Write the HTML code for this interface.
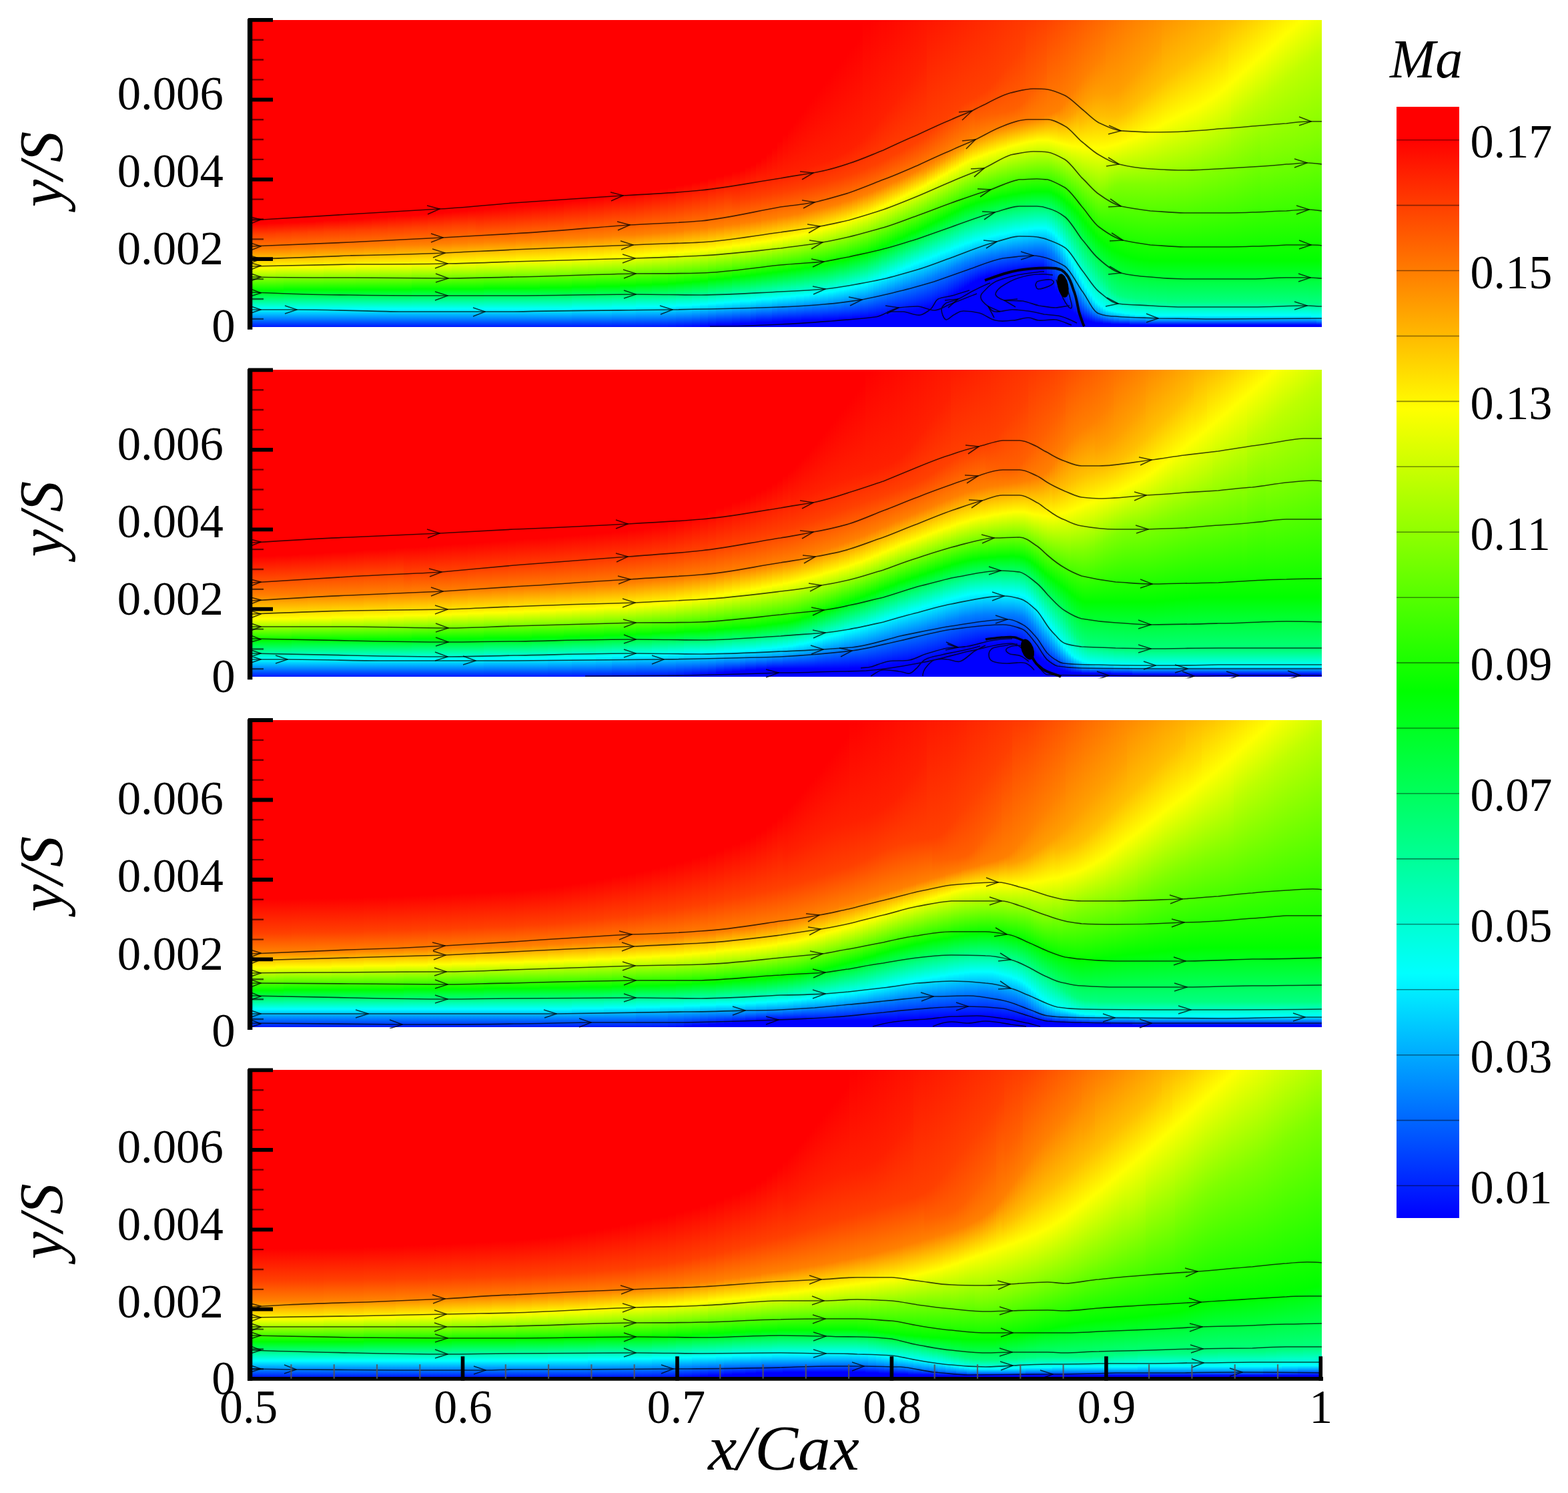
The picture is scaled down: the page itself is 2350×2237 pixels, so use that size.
<!DOCTYPE html>
<html><head><meta charset="utf-8"><title>Ma contours</title>
<style>
html,body{margin:0;padding:0;background:#fff}
body{width:2350px;height:2237px;position:relative;overflow:hidden;font-family:"Liberation Serif",serif}
.p{position:absolute;left:377px;width:1604px;height:460px;display:flex;overflow:hidden}
.p i{display:block;flex:0 0 4px;height:460px}
.p i.w{flex-basis:12px}
.p i.m{flex-basis:8px}
#cb{position:absolute;left:2093px;top:160px;width:94px;height:1665px;background:linear-gradient(#f00 0,#f00 2.9%,#ff0 27.2%,#0f0 52.6%,#0ff 78%,#00f 100%)}
svg{position:absolute;left:0;top:0}
text{font-family:"Liberation Serif",serif;fill:#000}
.t{font-size:72px}
.it{font-style:italic;font-size:96px}
</style></head><body>
<div class="p" style="top:29.8px">
<i class="w" style="background:linear-gradient(#f00,#f00 305px,#ff4000 321px,#ff8000 344px,#ff0 371px,#0f0 405px,#0ff 433px,#0018ff)"></i>
<i class="w" style="background:linear-gradient(#f00,#f00 305px,#ff4000 321px,#ff8000 343px,#ff0 371px,#0f0 405px,#0ff 433px,#0018ff)"></i>
<i class="w" style="background:linear-gradient(#f00,#f00 304px,#ff4000 321px,#ff8000 343px,#ff0 371px,#0f0 405px,#0ff 433px,#0018ff)"></i>
<i class="w" style="background:linear-gradient(#f00,#f00 304px,#ff4000 320px,#ff8000 343px,#ff0 370px,#0f0 405px,#0ff 433px,#0018ff)"></i>
<i class="w" style="background:linear-gradient(#f00,#f00 303px,#ff4000 320px,#ff8000 343px,#ff0 370px,#0f0 404px,#0ff 433px,#0018ff)"></i>
<i class="w" style="background:linear-gradient(#f00,#f00 303px,#ff4000 319px,#ff8000 342px,#ff0 370px,#0f0 404px,#0ff 433px,#0018ff)"></i>
<i class="w" style="background:linear-gradient(#f00,#f00 302px,#ff4000 319px,#ff8000 342px,#ff0 370px,#0f0 404px,#0ff 433px,#0018ff)"></i>
<i class="w" style="background:linear-gradient(#f00,#f00 302px,#ff4000 318px,#ff8000 342px,#ff0 370px,#0f0 404px,#0ff 433px,#0018ff)"></i>
<i class="w" style="background:linear-gradient(#f00,#f00 301px,#ff4000 318px,#ff8000 341px,#ff0 370px,#0f0 404px,#0ff 433px,#0018ff)"></i>
<i class="w" style="background:linear-gradient(#f00,#f00 300px,#ff4000 317px,#ff8000 341px,#ff0 369px,#0f0 404px,#0ff 433px,#0018ff)"></i>
<i class="w" style="background:linear-gradient(#f00,#f00 300px,#ff4000 317px,#ff8000 341px,#ff0 369px,#0f0 404px,#0ff 433px,#0018ff)"></i>
<i class="w" style="background:linear-gradient(#f00,#f00 299px,#ff4000 316px,#ff8000 340px,#ff0 369px,#0f0 404px,#0ff 433px,#0018ff)"></i>
<i class="w" style="background:linear-gradient(#f00,#f00 298px,#ff4000 316px,#ff8000 340px,#ff0 369px,#0f0 404px,#0ff 433px,#0018ff)"></i>
<i class="w" style="background:linear-gradient(#f00,#f00 298px,#ff4000 315px,#ff8000 340px,#ff0 368px,#0f0 404px,#0ff 433px,#0018ff)"></i>
<i class="w" style="background:linear-gradient(#f00,#f00 297px,#ff4000 315px,#ff8000 339px,#ff0 368px,#0f0 404px,#0ff 433px,#0018ff)"></i>
<i class="w" style="background:linear-gradient(#f00,#f00 296px,#ff4000 314px,#ff8000 339px,#ff0 368px,#0f0 404px,#0ff 433px,#0018ff)"></i>
<i class="w" style="background:linear-gradient(#f00,#f00 295px,#ff4000 314px,#ff8000 338px,#ff0 367px,#0f0 404px,#0ff 433px,#0018ff)"></i>
<i class="w" style="background:linear-gradient(#f00,#f00 294px,#ff4000 313px,#ff8000 338px,#ff0 367px,#0f0 404px,#0ff 433px,#0018ff)"></i>
<i class="w" style="background:linear-gradient(#f00,#f00 293px,#ff4000 313px,#ff8000 337px,#ff0 367px,#0f0 404px,#0ff 433px,#0018ff)"></i>
<i class="w" style="background:linear-gradient(#f00,#f00 293px,#ff4000 312px,#ff8000 337px,#ff0 367px,#0f0 404px,#0ff 433px,#0018ff)"></i>
<i class="w" style="background:linear-gradient(#f00,#f00 292px,#ff4000 311px,#ff8000 337px,#ff0 366px,#0f0 403px,#0ff 433px,#0018ff)"></i>
<i class="w" style="background:linear-gradient(#f00,#f00 291px,#ff4000 311px,#ff8000 336px,#ff0 366px,#0f0 403px,#0ff 433px,#0018ff)"></i>
<i class="w" style="background:linear-gradient(#f00,#f00 290px,#ff4000 310px,#ff8000 336px,#ff0 366px,#0f0 403px,#0ff 433px,#0018ff)"></i>
<i class="w" style="background:linear-gradient(#f00,#f00 289px,#ff4000 310px,#ff8000 335px,#ff0 365px,#0f0 403px,#0ff 433px,#0018ff)"></i>
<i class="w" style="background:linear-gradient(#f00,#f00 288px,#ff4000 309px,#ff8000 335px,#ff0 365px,#0f0 403px,#0ff 433px,#0018ff)"></i>
<i class="w" style="background:linear-gradient(#f00,#f00 287px,#ff4000 308px,#ff8000 334px,#ff0 364px,#0f0 403px,#0ff 433px,#0018ff)"></i>
<i class="w" style="background:linear-gradient(#f00,#f00 286px,#ff4000 308px,#ff8000 334px,#ff0 364px,#0f0 403px,#0ff 433px,#0018ff)"></i>
<i class="w" style="background:linear-gradient(#f00,#f00 285px,#ff4000 307px,#ff8000 333px,#ff0 364px,#0f0 403px,#0ff 433px,#0018ff)"></i>
<i class="w" style="background:linear-gradient(#f00,#f00 284px,#ff8000 333px,#ff0 363px,#0f0 403px,#0ff 433px,#0018ff)"></i>
<i class="w" style="background:linear-gradient(#f00,#f00 283px,#ff8000 332px,#ff0 363px,#0f0 402px,#0ff 433px,#0018ff)"></i>
<i class="w" style="background:linear-gradient(#f00,#f00 282px,#ff8000 332px,#ff0 363px,#0f0 402px,#0ff 433px,#0018ff)"></i>
<i class="w" style="background:linear-gradient(#f00,#f00 281px,#ff8000 331px,#ff0 362px,#0f0 402px,#0ff 433px,#0018ff)"></i>
<i class="w" style="background:linear-gradient(#f00,#f00 280px,#ff8000 331px,#ff0 362px,#0f0 402px,#0ff 433px,#0018ff)"></i>
<i class="w" style="background:linear-gradient(#f00,#f00 279px,#ff8000 330px,#ff0 361px,#0f0 402px,#0ff 433px,#0018ff)"></i>
<i class="w" style="background:linear-gradient(#f00,#f00 278px,#ff8000 330px,#ff0 361px,#0f0 402px,#0ff 433px,#0018ff)"></i>
<i class="w" style="background:linear-gradient(#f00,#f00 277px,#ff8000 329px,#ff0 361px,#0f0 402px,#0ff 433px,#0018ff)"></i>
<i class="w" style="background:linear-gradient(#f00,#f00 276px,#ff8000 329px,#ff0 360px,#0f0 401px,#0ff 433px,#0018ff)"></i>
<i class="w" style="background:linear-gradient(#f00,#f00 275px,#ff8000 328px,#ff0 360px,#0f0 401px,#0ff 433px,#0018ff)"></i>
<i class="w" style="background:linear-gradient(#f00,#f00 274px,#ff8000 328px,#ff0 359px,#0f0 401px,#0ff 433px,#0018ff)"></i>
<i class="w" style="background:linear-gradient(#f00,#f00 272px,#ff8000 327px,#ff0 359px,#0f0 401px,#0ff 433px,#0018ff)"></i>
<i class="w" style="background:linear-gradient(#f00,#f00 271px,#ff8000 327px,#ff0 358px,#0f0 400px,#0ff 432px,#0018ff)"></i>
<i class="w" style="background:linear-gradient(#f00,#f00 270px,#ff8000 326px,#ff0 358px,#0f0 400px,#0ff 432px,#0017ff)"></i>
<i class="w" style="background:linear-gradient(#f00,#f00 268px,#ff8000 325px,#ff0 357px,#0f0 400px,#0ff 432px,#0017ff)"></i>
<i class="w" style="background:linear-gradient(#f00,#f00 267px,#ff8000 325px,#ff0 357px,#0f0 399px,#0ff 432px,#0017ff)"></i>
<i class="w" style="background:linear-gradient(#f00,#f00 265px,#ff8000 324px,#ff0 356px,#0f0 399px,#0ff 432px,#0017ff)"></i>
<i class="w" style="background:linear-gradient(#f00,#f00 264px,#ff8000 323px,#ff0 355px,#0f0 399px,#0ff 431px,#0016ff)"></i>
<i class="w" style="background:linear-gradient(#f00,#f00 262px,#ff8000 322px,#ff0 355px,#0f0 398px,#0ff 431px,#0016ff)"></i>
<i class="w" style="background:linear-gradient(#f00,#f00 261px,#ff8000 322px,#ff0 354px,#0f0 398px,#0ff 431px,#0016ff)"></i>
<i class="w" style="background:linear-gradient(#f00,#f00 259px,#ff8000 321px,#ff0 353px,#0f0 397px,#0ff 430px,#0016ff)"></i>
<i class="w" style="background:linear-gradient(#f00,#f00 257px,#ff8000 320px,#ff0 352px,#0f0 397px,#0ff 430px,#0015ff)"></i>
<i class="w" style="background:linear-gradient(#f00,#f00 255px,#ff8000 319px,#ff0 351px,#0f0 396px,#0ff 430px,#0014ff)"></i>
<i class="w" style="background:linear-gradient(#f00,#f00 253px,#ff8000 318px,#ff0 350px,#0f0 396px,#0ff 429px,#0012ff)"></i>
<i class="w" style="background:linear-gradient(#f00,#f00 251px,#ff8000 317px,#ff0 349px,#0f0 395px,#0ff 429px,#000fff)"></i>
<i class="w" style="background:linear-gradient(#f00,#f00 248px,#ff8000 316px,#ff0 348px,#0f0 394px,#0ff 428px,#000bff)"></i>
<i class="w" style="background:linear-gradient(#f00,#f00 246px,#ff8000 314px,#ff0 347px,#0f0 393px,#0ff 428px,#0007ff)"></i>
<i class="w" style="background:linear-gradient(#f00,#f00 243px,#ff8000 313px,#ff0 346px,#0f0 392px,#0ff 427px,#0003ff)"></i>
<i class="w" style="background:linear-gradient(#f00,#f00 240px,#ff8000 312px,#ff0 344px,#0f0 391px,#0ff 426px,#00f 459px,#00f)"></i>
<i class="w" style="background:linear-gradient(#f00,#f00 237px,#ff8000 310px,#ff0 343px,#0f0 389px,#0ff 425px,#00f 458px,#00f)"></i>
<i class="w" style="background:linear-gradient(#f00,#f00 234px,#ff8000 309px,#ff0 341px,#0f0 388px,#0ff 424px,#00f 457px,#00f)"></i>
<i class="w" style="background:linear-gradient(#f00,#f00 231px,#ff8000 307px,#ff0 340px,#0f0 387px,#0ff 423px,#00f 457px,#00f)"></i>
<i class="w" style="background:linear-gradient(#f00,#f00 227px,#ff4000 271px,#ff8000 306px,#ff0 338px,#0f0 385px,#0ff 422px,#00f 456px,#00f)"></i>
<i class="m" style="background:linear-gradient(#f00,#f00 224px,#ff4000 269px,#ff8000 304px,#ff0 337px,#0f0 384px,#0ff 421px,#00f 455px,#00f)"></i>
<i class="m" style="background:linear-gradient(#f00,#f00 220px,#ff4000 268px,#ff8000 303px,#ff0 336px,#0f0 383px,#0ff 421px,#00f 455px,#00f)"></i>
<i class="m" style="background:linear-gradient(#f00,#f00 217px,#ff4000 266px,#ff8000 302px,#ff0 334px,#0f0 382px,#0ff 420px,#00f 454px,#00f)"></i>
<i class="m" style="background:linear-gradient(#f00,#f00 212px,#ff4000 265px,#ff8000 301px,#ff0 333px,#0f0 381px,#0ff 419px,#00f 453px,#00f)"></i>
<i class="m" style="background:linear-gradient(#f00,#f00 206px,#ff2000 239px,#ff4000 263px,#ff8000 299px,#ff0 332px,#0f0 380px,#0ff 418px,#00f 453px,#00f)"></i>
<i class="m" style="background:linear-gradient(#f00,#f00 199px,#ff2000 237px,#ff4000 262px,#ff8000 298px,#ff0 331px,#0f0 379px,#0ff 418px,#00f 453px,#00f)"></i>
<i class="m" style="background:linear-gradient(#f00,#f00 191px,#ff2000 235px,#ff4000 260px,#ff8000 297px,#ff0 329px,#0f0 378px,#0ff 417px,#0080ff 434px,#00f 452px,#00f)"></i>
<i class="m" style="background:linear-gradient(#f00,#f00 181px,#ff2000 233px,#ff4000 259px,#ff8000 295px,#ff0 328px,#0f0 377px,#0ff 416px,#0080ff 433px,#00f 452px,#00f)"></i>
<i class="m" style="background:linear-gradient(#f00,#f00 171px,#ff2000 231px,#ff4000 257px,#ff8000 294px,#ff0 326px,#0f0 376px,#0ff 415px,#0080ff 433px,#00f 451px,#00f)"></i>
<i style="background:linear-gradient(#f00,#f00 164px,#ff2000 229px,#ff4000 256px,#ff8000 293px,#ff0 325px,#0f0 375px,#0ff 415px,#0080ff 432px,#00f 451px,#00f)"></i>
<i style="background:linear-gradient(#f00,#f00 159px,#ff2000 228px,#ff4000 255px,#ff8000 292px,#ff0 324px,#0f0 374px,#0ff 414px,#0080ff 432px,#00f 451px,#00f)"></i>
<i style="background:linear-gradient(#f00,#f00 153px,#ff2000 227px,#ff4000 254px,#ff8000 291px,#ff0 323px,#0f0 374px,#0ff 414px,#0080ff 432px,#00f 451px,#00f)"></i>
<i style="background:linear-gradient(#f00,#f00 148px,#ff2000 226px,#ff4000 253px,#ff8000 291px,#ff0 323px,#0f0 373px,#0ff 413px,#0080ff 431px,#00f 451px,#00f)"></i>
<i style="background:linear-gradient(#f00,#f00 143px,#ff2000 225px,#ff4000 252px,#ff8000 290px,#ff0 322px,#0f0 373px,#0ff 413px,#0080ff 431px,#00f 451px,#00f)"></i>
<i style="background:linear-gradient(#f00,#f00 138px,#ff2000 224px,#ff4000 252px,#ff8000 289px,#ff0 321px,#0f0 372px,#0ff 413px,#0080ff 431px,#00f 450px,#00f)"></i>
<i style="background:linear-gradient(#f00,#f00 133px,#ff2000 223px,#ff4000 251px,#ff8000 288px,#ff0 320px,#0f0 371px,#0ff 412px,#0080ff 430px,#00f 450px,#00f)"></i>
<i style="background:linear-gradient(#f00,#f00 127px,#ff2000 221px,#ff4000 250px,#ff8000 287px,#ff0 319px,#0f0 371px,#0ff 412px,#0080ff 430px,#00f 450px,#00f)"></i>
<i style="background:linear-gradient(#f00,#f00 122px,#ff2000 220px,#ff4000 249px,#ff8000 286px,#ff0 318px,#0f0 370px,#0ff 411px,#0080ff 430px,#00f 450px,#00f)"></i>
<i style="background:linear-gradient(#f00,#f00 117px,#ff2000 219px,#ff4000 248px,#ff8000 285px,#ff0 317px,#0f0 369px,#0ff 411px,#0080ff 429px,#00f 450px,#00f)"></i>
<i style="background:linear-gradient(#f00,#f00 112px,#ff2000 217px,#ff4000 247px,#ff8000 284px,#ff0 316px,#0f0 369px,#0ff 410px,#0080ff 429px,#00f 450px,#00f)"></i>
<i style="background:linear-gradient(#f00,#f00 107px,#ff2000 216px,#ff4000 246px,#ff8000 283px,#ff0 315px,#0f0 368px,#0ff 410px,#0080ff 429px,#00f 450px,#00f)"></i>
<i style="background:linear-gradient(#f00,#f00 101px,#ff2000 214px,#ff4000 245px,#ff8000 282px,#ff0 314px,#0f0 367px,#0ff 409px,#0080ff 428px,#00f 450px,#00f)"></i>
<i style="background:linear-gradient(#f00,#f00 96px,#ff2000 213px,#ff4000 244px,#ff8000 281px,#ff0 312px,#0f0 367px,#0ff 408px,#0080ff 428px,#00f 449px,#00f)"></i>
<i style="background:linear-gradient(#f00,#f00 91px,#ff2000 211px,#ff4000 243px,#ff8000 280px,#ff0 311px,#0f0 366px,#0ff 408px,#0080ff 428px,#00f 449px,#00f)"></i>
<i style="background:linear-gradient(#f00,#f00 86px,#ff2000 210px,#ff4000 241px,#ff8000 279px,#ff0 310px,#0f0 365px,#0ff 407px,#0080ff 427px,#00f 449px,#00f)"></i>
<i style="background:linear-gradient(#f00,#f00 81px,#ff2000 208px,#ff4000 240px,#ff8000 278px,#ff0 309px,#0f0 364px,#0ff 407px,#0080ff 427px,#00f 449px,#00f)"></i>
<i style="background:linear-gradient(#f00,#f00 75px,#ff2000 206px,#ff4000 239px,#ff8000 277px,#ff0 308px,#0f0 363px,#0ff 406px,#0080ff 426px,#00f 449px,#00f)"></i>
<i style="background:linear-gradient(#f00,#f00 70px,#ff2000 204px,#ff4000 238px,#ff8000 276px,#ff0 306px,#0f0 362px,#0ff 405px,#0080ff 426px,#00f 449px,#00f)"></i>
<i style="background:linear-gradient(#f00,#f00 65px,#ff2000 202px,#ff4000 237px,#ff8000 275px,#ff0 305px,#0f0 361px,#0ff 404px,#0080ff 426px,#00f 448px,#00f)"></i>
<i style="background:linear-gradient(#f00,#f00 60px,#ff2000 200px,#ff4000 236px,#ff8000 273px,#ff0 304px,#0f0 361px,#0ff 404px,#0080ff 425px,#00f 448px,#00f)"></i>
<i style="background:linear-gradient(#f00,#f00 55px,#ff2000 198px,#ff4000 234px,#ff8000 272px,#ff0 303px,#0f0 360px,#0ff 403px,#0080ff 424px,#00f 448px,#00f)"></i>
<i style="background:linear-gradient(#f00,#f00 49px,#ff2000 196px,#ff4000 233px,#ff8000 271px,#ff0 301px,#0f0 359px,#0ff 402px,#0080ff 424px,#00f 448px,#00f)"></i>
<i style="background:linear-gradient(#f00,#f00 44px,#ff2000 193px,#ff4000 232px,#ff8000 270px,#ff0 300px,#0f0 357px,#0ff 401px,#0080ff 423px,#00f 448px,#00f)"></i>
<i style="background:linear-gradient(#f00,#f00 39px,#ff2000 190px,#ff4000 230px,#ff8000 268px,#ff0 298px,#0f0 356px,#0ff 400px,#0080ff 423px,#00f 447px,#00f)"></i>
<i style="background:linear-gradient(#f00,#f00 34px,#ff2000 187px,#ff4000 229px,#ff8000 267px,#ff0 297px,#0f0 355px,#0ff 399px,#0080ff 422px,#00f 447px,#00f)"></i>
<i style="background:linear-gradient(#f00,#f00 29px,#ff2000 184px,#ff4000 227px,#ff8000 265px,#ff0 295px,#0f0 354px,#0ff 398px,#0080ff 421px,#00f 447px,#00f)"></i>
<i style="background:linear-gradient(#f00,#f00 23px,#ff2000 181px,#ff4000 225px,#ff8000 264px,#ff0 294px,#0f0 352px,#0ff 397px,#0080ff 420px,#00f 446px,#00f)"></i>
<i style="background:linear-gradient(#f00,#ff2000 177px,#ff4000 224px,#ff8000 262px,#ff0 292px,#0f0 351px,#0ff 396px,#0080ff 420px,#00f 446px,#00f)"></i>
<i style="background:linear-gradient(#f00,#ff2000 173px,#ff4000 222px,#ff8000 261px,#ff0 291px,#0f0 350px,#0ff 395px,#0080ff 419px,#00f 446px,#00f)"></i>
<i style="background:linear-gradient(#f00,#ff2000 169px,#ff4000 220px,#ff8000 259px,#ff0 289px,#0f0 348px,#0ff 393px,#0080ff 418px,#00f 445px,#00f)"></i>
<i style="background:linear-gradient(#ff0200,#ff2000 164px,#ff4000 218px,#ff8000 258px,#ff0 287px,#0f0 346px,#0ff 392px,#0080ff 417px,#00f 445px,#00f)"></i>
<i style="background:linear-gradient(#ff0300,#ff2000 160px,#ff4000 217px,#ff8000 256px,#ff0 285px,#0f0 345px,#0ff 390px,#0080ff 415px,#00f 445px,#00f)"></i>
<i style="background:linear-gradient(#ff0400,#ff2000 155px,#ff4000 215px,#ff8000 254px,#ff0 283px,#0f0 343px,#0ff 389px,#0080ff 414px,#00f 444px,#00f)"></i>
<i style="background:linear-gradient(#ff0500,#ff2000 150px,#ff4000 213px,#ff8000 253px,#ff0 281px,#0f0 341px,#0ff 387px,#0080ff 413px,#00f 444px,#00f)"></i>
<i style="background:linear-gradient(#ff0600,#ff2000 145px,#ff4000 211px,#ff8000 251px,#ff0 280px,#0f0 339px,#0ff 385px,#0080ff 412px,#00f 443px,#00f)"></i>
<i style="background:linear-gradient(#ff0600,#ff2000 140px,#ff4000 209px,#ff8000 249px,#ff0 278px,#0f0 338px,#0ff 384px,#0080ff 411px,#00f 443px,#00f)"></i>
<i style="background:linear-gradient(#ff0700,#ff2000 135px,#ff4000 207px,#ff8000 247px,#ff0 276px,#0f0 336px,#0ff 382px,#0080ff 409px,#00f 442px,#00f)"></i>
<i style="background:linear-gradient(#ff0800,#ff2000 130px,#ff4000 204px,#ff8000 245px,#ff0 274px,#0f0 334px,#0ff 380px,#0080ff 408px,#00f 442px,#00f)"></i>
<i style="background:linear-gradient(#ff0900,#ff2000 125px,#ff4000 202px,#ff8000 243px,#ff0 272px,#0f0 332px,#0ff 379px,#0080ff 407px,#00f 441px,#00f)"></i>
<i style="background:linear-gradient(#ff0a00,#ff2000 120px,#ff4000 200px,#ff8000 242px,#ff0 270px,#0f0 330px,#0ff 377px,#0080ff 405px,#00f 441px,#00f)"></i>
<i style="background:linear-gradient(#ff0b00,#ff2000 114px,#ff4000 198px,#ff8000 240px,#ff0 268px,#0f0 328px,#0ff 375px,#0080ff 404px,#00f 440px,#00f)"></i>
<i style="background:linear-gradient(#ff0c00,#ff2000 109px,#ff4000 196px,#ff8000 238px,#ff0 266px,#0f0 327px,#0ff 374px,#0080ff 403px,#00f 439px,#00f)"></i>
<i style="background:linear-gradient(#ff0d00,#ff2000 104px,#ff4000 194px,#ff8000 236px,#ff0 264px,#0f0 325px,#0ff 372px,#0080ff 401px,#00f 439px,#00f)"></i>
<i style="background:linear-gradient(#ff0e00,#ff2000 99px,#ff4000 191px,#ff8000 234px,#ff0 262px,#0f0 323px,#0ff 370px,#0080ff 400px,#00f 438px,#00f)"></i>
<i style="background:linear-gradient(#ff0f00,#ff2000 94px,#ff4000 189px,#ff8000 232px,#ff0 260px,#0f0 321px,#0ff 369px,#0080ff 399px,#00f 437px,#00f)"></i>
<i style="background:linear-gradient(#ff1000,#ff2000 89px,#ff4000 187px,#ff8000 230px,#ff0 258px,#0f0 319px,#0ff 367px,#0080ff 397px,#00f 437px,#00f)"></i>
<i style="background:linear-gradient(#f10,#ff2000 83px,#ff4000 184px,#ff8000 228px,#ff0 256px,#0f0 318px,#0ff 365px,#0080ff 396px,#00f 436px,#00f)"></i>
<i style="background:linear-gradient(#ff1200,#ff2000 78px,#ff4000 182px,#ff8000 226px,#ff0 254px,#0f0 316px,#0ff 364px,#0080ff 394px,#00f 435px,#00f)"></i>
<i style="background:linear-gradient(#ff1300,#ff2000 73px,#ff4000 179px,#ff8000 224px,#ff0 252px,#0f0 314px,#0ff 362px,#0080ff 393px,#00f 434px,#00f)"></i>
<i style="background:linear-gradient(#ff1400,#ff2000 68px,#ff4000 177px,#ff8000 221px,#ff9f00 230px,#ff0 250px,#0f0 312px,#0ff 361px,#0080ff 392px,#00f 433px,#00f)"></i>
<i style="background:linear-gradient(#ff1500,#ff2000 63px,#ff4000 174px,#ff8000 219px,#ff9f00 228px,#ff0 248px,#0f0 310px,#0ff 359px,#0080ff 390px,#00f 432px,#00f)"></i>
<i style="background:linear-gradient(#ff1600,#ff4000 171px,#ff8000 217px,#ff9f00 225px,#ff0 245px,#0f0 308px,#0ff 358px,#0080ff 388px,#00f 431px,#00f)"></i>
<i style="background:linear-gradient(#ff1600,#ff4000 167px,#ff8000 214px,#ff9f00 223px,#ff0 243px,#0f0 306px,#0ff 356px,#0080ff 387px,#00f 430px,#00f)"></i>
<i style="background:linear-gradient(#ff1700,#ff4000 164px,#ff8000 212px,#ff9f00 221px,#ff0 241px,#0f0 304px,#0ff 354px,#0080ff 385px,#00f 428px,#00f)"></i>
<i style="background:linear-gradient(#ff1800,#ff4000 161px,#ff8000 209px,#ff9f00 218px,#ff0 239px,#0f0 302px,#0ff 353px,#0080ff 383px,#00f 426px,#00f)"></i>
<i style="background:linear-gradient(#ff1900,#ff4000 157px,#ff8000 207px,#ff9f00 216px,#ff0 236px,#0f0 300px,#0ff 351px,#0080ff 381px,#00f 424px,#00f)"></i>
<i style="background:linear-gradient(#ff1a00,#ff4000 154px,#ff8000 204px,#ff9f00 213px,#ff0 234px,#0f0 298px,#0ff 349px,#0080ff 379px,#00f 422px,#00f)"></i>
<i style="background:linear-gradient(#ff1b00,#ff4000 150px,#ff8000 202px,#ff9f00 211px,#ff0 232px,#0f0 296px,#0ff 348px,#0080ff 378px,#00f 420px,#00f)"></i>
<i style="background:linear-gradient(#ff1c00,#ff4000 147px,#ff8000 199px,#ff9f00 208px,#ff0 230px,#0f0 294px,#0ff 346px,#0080ff 376px,#00f 418px,#00f)"></i>
<i style="background:linear-gradient(#ff1d00,#ff4000 143px,#ff8000 196px,#ff9f00 206px,#ff0 227px,#0f0 292px,#0ff 345px,#0080ff 374px,#00f 415px,#00f)"></i>
<i style="background:linear-gradient(#ff1e00,#ff4000 140px,#ff8000 194px,#ff9f00 203px,#ff0 225px,#0f0 290px,#0ff 343px,#0080ff 372px,#00f 413px,#00f)"></i>
<i style="background:linear-gradient(#ff1f00,#ff4000 136px,#ff8000 191px,#ff9f00 201px,#ff0 223px,#0f0 288px,#0ff 341px,#0080ff 370px,#00f 410px,#00f)"></i>
<i style="background:linear-gradient(#ff2000,#ff4000 133px,#ff8000 189px,#ff9f00 198px,#ff0 221px,#0f0 286px,#0ff 340px,#0080ff 368px,#00f 408px,#00f)"></i>
<i style="background:linear-gradient(#ff2100,#ff4000 130px,#ff8000 186px,#ff9f00 196px,#ff0 218px,#0f0 284px,#0ff 338px,#0080ff 367px,#00f 405px,#00f)"></i>
<i style="background:linear-gradient(#f20,#ff4000 127px,#ff8000 184px,#ff9f00 194px,#ff0 216px,#0f0 282px,#0ff 337px,#0080ff 365px,#00f 403px,#00f)"></i>
<i style="background:linear-gradient(#ff2300,#ff4000 124px,#ff8000 182px,#ff0 214px,#0f0 280px,#0ff 335px,#0080ff 363px,#00f 400px,#00f)"></i>
<i style="background:linear-gradient(#ff2400,#ff4000 122px,#ff8000 180px,#ff0 212px,#0f0 279px,#0ff 334px,#0080ff 362px,#00f 398px,#00f)"></i>
<i style="background:linear-gradient(#ff2500,#ff4000 119px,#ff8000 177px,#ff0 210px,#0f0 277px,#0ff 333px,#0080ff 360px,#00f 395px,#00f)"></i>
<i style="background:linear-gradient(#ff2600,#ff4000 117px,#ff8000 175px,#ff0 208px,#0f0 276px,#0ff 331px,#0080ff 359px,#00f 393px,#00f)"></i>
<i style="background:linear-gradient(#ff2700,#ff4000 115px,#ff6000 148px,#ff8000 174px,#ff0 207px,#0f0 274px,#0ff 330px,#0080ff 357px,#00f 391px,#00f)"></i>
<i style="background:linear-gradient(#ff2800,#ff4000 112px,#ff6000 147px,#ff8000 172px,#ff0 205px,#0f0 273px,#0ff 329px,#0080ff 356px,#00f 389px,#00f)"></i>
<i style="background:linear-gradient(#ff2900,#ff4000 110px,#ff6000 145px,#ff8000 170px,#ff0 204px,#0f0 272px,#0ff 328px,#0080ff 355px,#00f 387px,#00f)"></i>
<i style="background:linear-gradient(#ff2a00,#ff4000 108px,#ff6000 144px,#ff8000 169px,#ff0 202px,#0f0 271px,#0ff 327px,#0080ff 354px,#00f 386px,#00f)"></i>
<i style="background:linear-gradient(#ff2b00,#ff4000 105px,#ff6000 143px,#ff8000 167px,#ff0 201px,#0f0 270px,#0ff 326px,#0080ff 353px,#00f 384px,#00f)"></i>
<i style="background:linear-gradient(#ff2c00,#ff4000 101px,#ff6000 142px,#ff8000 166px,#ff0 199px,#0f0 269px,#0ff 325px,#0080ff 352px,#00f 383px,#00f)"></i>
<i style="background:linear-gradient(#ff2d00,#ff4000 97px,#ff6000 141px,#ff8000 165px,#ff0 198px,#0f0 268px,#0ff 324px,#0080ff 351px,#00f 383px,#00f)"></i>
<i style="background:linear-gradient(#ff2e00,#ff4000 93px,#ff6000 141px,#ff8000 163px,#ff0 197px,#0f0 267px,#0ff 323px,#0080ff 351px,#00f 382px,#00f)"></i>
<i style="background:linear-gradient(#ff2f00,#ff4000 88px,#ff6000 140px,#ff8000 162px,#ff0 195px,#0f0 266px,#0ff 322px,#0080ff 350px,#00f 381px,#00f)"></i>
<i style="background:linear-gradient(#ff3000,#ff4000 83px,#ff6000 139px,#ff8000 161px,#ff0 194px,#0f0 265px,#0ff 321px,#0080ff 349px,#00f 380px,#00f)"></i>
<i style="background:linear-gradient(#ff3100,#ff4000 78px,#ff6000 138px,#ff8000 160px,#ff0 193px,#0f0 264px,#0ff 321px,#0080ff 348px,#00f 380px,#00f)"></i>
<i style="background:linear-gradient(#ff3200,#ff4000 72px,#ff6000 138px,#ff8000 159px,#ff0 192px,#0f0 264px,#0ff 320px,#0080ff 348px,#00f 379px,#00f)"></i>
<i style="background:linear-gradient(#f30,#ff4000 67px,#ff6000 137px,#ff8000 158px,#ff0 190px,#0f0 263px,#0ff 319px,#0080ff 347px,#00f 378px,#00f)"></i>
<i style="background:linear-gradient(#ff3400,#ff4000 62px,#ff6000 135px,#ff8000 157px,#ff0 189px,#0f0 262px,#0ff 318px,#0080ff 346px,#00f 378px,#00f)"></i>
<i style="background:linear-gradient(#ff3500,#ff4000 57px,#ff6000 134px,#ff8000 156px,#ff0 188px,#0f0 261px,#0ff 317px,#0080ff 345px,#00f 377px,#00f)"></i>
<i style="background:linear-gradient(#ff3600,#ff4000 52px,#ff6000 132px,#ff8000 155px,#ff0 187px,#0f0 261px,#0ff 316px,#0080ff 345px,#00f 377px,#00f)"></i>
<i style="background:linear-gradient(#ff3700,#ff4000 47px,#ff6000 130px,#ff8000 154px,#ff0 186px,#0f0 260px,#0ff 316px,#0080ff 344px,#00f 376px,#00f)"></i>
<i style="background:linear-gradient(#ff3700,#ff4000 41px,#ff6000 127px,#ff8000 153px,#ff0 185px,#0f0 259px,#0ff 315px,#0080ff 344px,#00f 376px,#00f)"></i>
<i style="background:linear-gradient(#ff3800,#ff4000 36px,#ff6000 123px,#ff8000 152px,#ff0 184px,#0f0 259px,#0ff 314px,#0080ff 343px,#00f 375px,#00f)"></i>
<i style="background:linear-gradient(#ff3900,#ff6000 118px,#ff8000 151px,#ff0 183px,#0f0 258px,#0ff 314px,#0080ff 343px,#00f 375px,#00f)"></i>
<i style="background:linear-gradient(#ff3a00,#ff6000 113px,#ff8000 150px,#ff0 182px,#0f0 258px,#0ff 313px,#0080ff 342px,#00f 375px,#00f)"></i>
<i style="background:linear-gradient(#ff3b00,#ff6000 108px,#ff8000 149px,#ff0 182px,#0f0 257px,#0ff 313px,#0080ff 342px,#00f 374px,#00f)"></i>
<i style="background:linear-gradient(#ff3c00,#ff6000 103px,#ff8000 148px,#ff0 181px,#0f0 257px,#0ff 312px,#0080ff 341px,#00f 374px,#00f)"></i>
<i style="background:linear-gradient(#ff3e00,#ff6000 97px,#ff8000 147px,#ff0 180px,#0f0 257px,#0ff 312px,#0080ff 341px,#00f 374px,#00f)"></i>
<i style="background:linear-gradient(#ff3f00,#ff6000 92px,#ff8000 146px,#ff0 180px,#0f0 257px,#0ff 312px,#0080ff 341px,#00f 374px,#00f)"></i>
<i style="background:linear-gradient(#ff4000,#ff6000 87px,#ff8000 145px,#ff0 180px,#0f0 257px,#0ff 312px,#0080ff 341px,#00f 374px,#00f)"></i>
<i style="background:linear-gradient(#ff4100,#ff6000 82px,#ff8000 143px,#ff0 180px,#0f0 257px,#0ff 312px,#0080ff 342px,#00f 379px,#00f)"></i>
<i style="background:linear-gradient(#ff4300,#ff8000 142px,#ff0 180px,#0f0 257px,#0ff 314px,#0080ff 344px,#00f 386px,#00f)"></i>
<i style="background:linear-gradient(#ff4500,#ff8000 141px,#ff0 181px,#0f0 258px,#0ff 316px,#0080ff 346px,#00f 393px,#00f)"></i>
<i style="background:linear-gradient(#ff4700,#ff8000 139px,#ff0 182px,#0f0 260px,#0ff 319px,#0080ff 350px,#00f 400px,#00f)"></i>
<i style="background:linear-gradient(#ff4900,#ff8000 137px,#ff0 183px,#0f0 262px,#0ff 323px,#0080ff 355px,#00f 406px,#00f)"></i>
<i style="background:linear-gradient(#ff4b00,#ff8000 135px,#ff9f00 150px,#ff0 184px,#0f0 264px,#0ff 328px,#0080ff 360px,#00f 412px,#00f)"></i>
<i style="background:linear-gradient(#ff4d00,#ff8000 131px,#ff9f00 149px,#ff0 185px,#0f0 267px,#0ff 333px,#0080ff 367px,#00f 418px,#00f)"></i>
<i style="background:linear-gradient(#ff4f00,#ff8000 126px,#ff9f00 148px,#ff0 186px,#0f0 270px,#0ff 340px,#0080ff 374px,#00f 424px,#00f)"></i>
<i style="background:linear-gradient(#ff5100,#ff8000 121px,#ff9f00 146px,#ff0 187px,#0f0 274px,#0ff 347px,#0080ff 381px,#00f 429px,#00f)"></i>
<i style="background:linear-gradient(#ff5300,#ff8000 116px,#ff9f00 144px,#ff0 188px,#0f0 277px,#0ff 354px,#0080ff 389px,#00f 433px,#00f)"></i>
<i style="background:linear-gradient(#f50,#ff8000 110px,#ff9f00 141px,#ff0 189px,#0f0 281px,#0ff 362px,#0080ff 396px,#00f 437px,#00f)"></i>
<i style="background:linear-gradient(#ff5600,#ff8000 105px,#ff9f00 138px,#ff0 189px,#0f0 285px,#0ff 370px,#0080ff 404px,#00f 440px,#00f)"></i>
<i style="background:linear-gradient(#ff5800,#ff8000 99px,#ff9f00 134px,#ff0 190px,#0f0 289px,#0ff 378px,#00f 443px,#00f)"></i>
<i style="background:linear-gradient(#ff5a00,#ff8000 94px,#ff9f00 131px,#ffbf00 155px,#ff0 190px,#0f0 294px,#0ff 386px,#00f 446px,#00f)"></i>
<i style="background:linear-gradient(#ff5c00,#ff8000 88px,#ff9f00 127px,#ffbf00 153px,#ff0 191px,#0f0 299px,#0ff 393px,#0080ff 422px,#00f 448px,#00f)"></i>
<i style="background:linear-gradient(#ff5e00,#ff8000 83px,#ff9f00 123px,#ffbf00 151px,#ff0 191px,#0f0 304px,#0ff 400px,#0080ff 427px,#00f 450px,#00f)"></i>
<i style="background:linear-gradient(#ff6000,#ff8000 78px,#ff9f00 120px,#ffbf00 149px,#ff0 191px,#0f0 309px,#0ff 407px,#0080ff 431px,#00f 451px,#00f)"></i>
<i style="background:linear-gradient(#ff6200,#ff8000 73px,#ff9f00 117px,#ffbf00 148px,#ff0 192px,#0f0 314px,#0ff 412px,#0080ff 435px,#00f 452px,#00f)"></i>
<i style="background:linear-gradient(#ff6400,#ff8000 69px,#ff9f00 114px,#ffbf00 146px,#ff0 192px,#0f0 319px,#0ff 418px,#0080ff 438px,#00f 453px,#00f)"></i>
<i style="background:linear-gradient(#f60,#ff8000 64px,#ff9f00 112px,#ffbf00 145px,#ff0 192px,#0f0 324px,#00ff80 375px,#0ff 423px,#0080ff 440px,#00f 454px,#00f)"></i>
<i style="background:linear-gradient(#ff6800,#ff8000 60px,#ff9f00 111px,#ffbf00 145px,#ff0 192px,#0f0 328px,#00ff80 381px,#0ff 426px,#0080ff 442px,#00f 454px,#00f)"></i>
<i style="background:linear-gradient(#ff6a00,#ff8000 56px,#ff9f00 111px,#ffbf00 144px,#ff0 191px,#80ff00 258px,#0f0 332px,#00ff80 386px,#0ff 429px,#0080ff 444px,#00f 454px,#00f)"></i>
<i style="background:linear-gradient(#ff6c00,#ff8000 51px,#ff9f00 111px,#ffbf00 144px,#ff0 191px,#80ff00 257px,#0f0 335px,#00ff80 391px,#0ff 432px,#0080ff 445px,#00f 455px,#00f)"></i>
<i style="background:linear-gradient(#ff6e00,#ff9f00 111px,#ffbf00 145px,#ff0 190px,#80ff00 255px,#0f0 338px,#00ff80 396px,#0ff 434px,#0080ff 446px,#00f 455px,#00f)"></i>
<i style="background:linear-gradient(#ff7000,#ff9f00 111px,#ffbf00 145px,#ff0 189px,#80ff00 252px,#0f0 341px,#00ff80 401px,#0ff 435px,#0080ff 447px,#00f 455px,#00f)"></i>
<i style="background:linear-gradient(#ff7200,#ff9f00 110px,#ffbf00 145px,#ff0 188px,#80ff00 250px,#0f0 344px,#00ff80 405px,#0ff 436px,#0080ff 447px,#00f 456px,#00f)"></i>
<i style="background:linear-gradient(#ff7400,#ff9f00 109px,#ffbf00 145px,#ff0 187px,#80ff00 248px,#0f0 346px,#00ff80 408px,#0ff 437px,#0080ff 448px,#00f 456px,#00f)"></i>
<i style="background:linear-gradient(#ff7600,#ff9f00 108px,#ffbf00 144px,#ff0 186px,#80ff00 247px,#0f0 348px,#00ff80 411px,#0ff 438px,#0080ff 448px,#00f 456px,#00f)"></i>
<i style="background:linear-gradient(#ff7800,#ff9f00 105px,#ffbf00 143px,#ff0 185px,#80ff00 246px,#0f0 350px,#00ff80 413px,#0ff 438px,#0080ff 449px,#00f 456px,#00f)"></i>
<i style="background:linear-gradient(#ff7a00,#ff9f00 101px,#ffbf00 141px,#ff0 183px,#80ff00 246px,#0f0 351px,#00ff80 414px,#0ff 439px,#0080ff 449px,#00f 456px,#00f)"></i>
<i style="background:linear-gradient(#ff7c00,#ff9f00 97px,#ffbf00 139px,#ff0 182px,#80ff00 246px,#0f0 353px,#00ff80 415px,#0ff 440px,#0080ff 449px,#00f 456px,#00f)"></i>
<i style="background:linear-gradient(#ff7e00,#ff9f00 93px,#ffbf00 136px,#ff0 180px,#80ff00 246px,#0f0 354px,#00ff80 416px,#0ff 440px,#0080ff 449px,#00f 456px,#00f)"></i>
<i style="background:linear-gradient(#ff7f00,#ff9f00 88px,#ffbf00 134px,#ff0 179px,#80ff00 246px,#0f0 356px,#00ff80 416px,#0ff 441px,#0080ff 450px,#00f 457px,#00f)"></i>
<i style="background:linear-gradient(#ff8100,#ff9f00 84px,#ffbf00 130px,#ff0 177px,#80ff00 246px,#0f0 357px,#00ff80 417px,#0ff 441px,#0080ff 450px,#00f 457px,#00f)"></i>
<i style="background:linear-gradient(#ff8300,#ff9f00 79px,#ffbf00 127px,#ff0 176px,#80ff00 246px,#0f0 358px,#00ff80 418px,#0ff 442px,#0080ff 450px,#00f 457px,#00f)"></i>
<i style="background:linear-gradient(#ff8400,#ff9f00 75px,#ffbf00 123px,#ff0 174px,#80ff00 246px,#0f0 359px,#00ff80 418px,#0ff 442px,#0080ff 450px,#00f 457px,#00f)"></i>
<i style="background:linear-gradient(#ff8600,#ff9f00 70px,#ffbf00 120px,#ff0 172px,#80ff00 246px,#0f0 359px,#00ff80 419px,#0ff 442px,#0080ff 450px,#00f 457px,#00f)"></i>
<i style="background:linear-gradient(#f80,#ff9f00 65px,#ffbf00 116px,#ff0 170px,#80ff00 246px,#0f0 360px,#00ff80 419px,#0ff 442px,#0080ff 450px,#00f 457px,#00f)"></i>
<i style="background:linear-gradient(#ff8900,#ff9f00 61px,#ffbf00 113px,#ff0 168px,#80ff00 246px,#0f0 360px,#00ff80 419px,#0ff 443px,#0080ff 451px,#00f 457px,#00f)"></i>
<i style="background:linear-gradient(#ff8b00,#ff9f00 56px,#ffbf00 110px,#ff0 166px,#80ff00 246px,#0f0 361px,#00ff80 420px,#0ff 443px,#0080ff 451px,#00f 457px,#00f)"></i>
<i style="background:linear-gradient(#ff8c00,#ff9f00 52px,#ffbf00 106px,#ff0 165px,#80ff00 246px,#0f0 361px,#00ff80 420px,#0ff 443px,#0080ff 451px,#00f 457px,#00f)"></i>
<i style="background:linear-gradient(#ff8e00,#ff9f00 47px,#ffbf00 103px,#ff0 163px,#80ff00 246px,#0f0 361px,#00ff80 420px,#0ff 443px,#0080ff 451px,#00f 457px,#00f)"></i>
<i style="background:linear-gradient(#ff9000,#ff9f00 43px,#ffbf00 99px,#ff0 161px,#80ff00 245px,#0f0 361px,#00ff80 421px,#0ff 443px,#0080ff 451px,#00f 457px,#00f)"></i>
<i style="background:linear-gradient(#ff9100,#ff9f00 38px,#ffbf00 96px,#ff0 159px,#80ff00 245px,#0f0 361px,#00ff80 421px,#0ff 443px,#0080ff 451px,#00f 457px,#00f)"></i>
<i style="background:linear-gradient(#ff9300,#ffbf00 92px,#ff0 156px,#80ff00 245px,#0f0 361px,#00ff80 421px,#0ff 443px,#0080ff 451px,#00f 457px,#00f)"></i>
<i style="background:linear-gradient(#ff9500,#ffbf00 89px,#ff0 154px,#80ff00 245px,#0f0 361px,#00ff80 421px,#0ff 443px,#0080ff 451px,#00f 457px,#00f)"></i>
<i style="background:linear-gradient(#ff9600,#ffbf00 85px,#ff0 152px,#80ff00 244px,#0f0 361px,#00ff80 422px,#0ff 443px,#0080ff 451px,#00f 457px,#00f)"></i>
<i style="background:linear-gradient(#ff9800,#ffbf00 82px,#ff0 150px,#80ff00 244px,#0f0 361px,#00ff80 422px,#0ff 443px,#0080ff 451px,#00f 457px,#00f)"></i>
<i style="background:linear-gradient(#ff9a00,#ffbf00 79px,#ff0 148px,#80ff00 243px,#0f0 361px,#00ff80 422px,#0ff 443px,#0080ff 451px,#00f 457px,#00f)"></i>
<i style="background:linear-gradient(#ff9b00,#ffbf00 76px,#ff0 146px,#80ff00 243px,#0f0 361px,#00ff80 422px,#0ff 443px,#0080ff 451px,#00f 457px,#00f)"></i>
<i style="background:linear-gradient(#ff9d00,#ffbf00 72px,#ff0 144px,#80ff00 242px,#0f0 361px,#00ff80 422px,#0ff 443px,#0080ff 451px,#00f 457px,#00f)"></i>
<i style="background:linear-gradient(#ff9f00,#ffbf00 69px,#ff0 142px,#80ff00 241px,#0f0 361px,#00ff80 422px,#0ff 443px,#0080ff 451px,#00f 457px,#00f)"></i>
<i style="background:linear-gradient(#ffa000,#ffbf00 67px,#ff0 140px,#80ff00 241px,#0f0 361px,#00ff80 422px,#0ff 443px,#0080ff 451px,#00f 457px,#00f)"></i>
<i style="background:linear-gradient(#ffa200,#ffbf00 64px,#ff0 138px,#80ff00 240px,#0f0 361px,#00ff80 422px,#0ff 443px,#0080ff 451px,#00f 457px,#00f)"></i>
<i style="background:linear-gradient(#ffa300,#ffbf00 61px,#ff0 136px,#80ff00 239px,#0f0 361px,#00ff80 422px,#0ff 443px,#0080ff 451px,#00f 457px,#00f)"></i>
<i style="background:linear-gradient(#ffa500,#ffbf00 58px,#ff0 135px,#80ff00 238px,#0f0 361px,#00ff80 422px,#0ff 443px,#0080ff 451px,#00f 457px,#00f)"></i>
<i style="background:linear-gradient(#ffa600,#ffbf00 55px,#ff0 133px,#80ff00 237px,#0f0 361px,#00ff80 422px,#0ff 443px,#0080ff 451px,#00f 457px,#00f)"></i>
<i style="background:linear-gradient(#ffa800,#ffbf00 52px,#ff0 131px,#80ff00 236px,#0f0 361px,#00ff80 422px,#0ff 443px,#0080ff 451px,#00f 457px,#00f)"></i>
<i style="background:linear-gradient(#fa0,#ffbf00 49px,#ff0 129px,#80ff00 235px,#0f0 361px,#00ff80 422px,#0ff 443px,#0080ff 451px,#00f 457px,#00f)"></i>
<i style="background:linear-gradient(#ffab00,#ffbf00 46px,#ff0 126px,#80ff00 233px,#0f0 361px,#00ff80 422px,#0ff 443px,#0080ff 451px,#00f 457px,#00f)"></i>
<i style="background:linear-gradient(#ffad00,#ffbf00 43px,#ff0 124px,#80ff00 232px,#0f0 361px,#00ff80 422px,#0ff 443px,#0080ff 451px,#00f 457px,#00f)"></i>
<i style="background:linear-gradient(#ffae00,#ffbf00 40px,#ff0 121px,#80ff00 231px,#0f0 361px,#00ff80 422px,#0ff 443px,#0080ff 451px,#00f 457px,#00f)"></i>
<i style="background:linear-gradient(#ffb000,#ffbf00 36px,#ff0 119px,#80ff00 229px,#0f0 361px,#00ff80 422px,#0ff 443px,#0080ff 451px,#00f 457px,#00f)"></i>
<i style="background:linear-gradient(#ffb100,#ffbf00 33px,#ff0 116px,#80ff00 228px,#0f0 361px,#00ff80 422px,#0ff 443px,#0080ff 451px,#00f 457px,#00f)"></i>
<i style="background:linear-gradient(#ffb300,#ffbf00 29px,#ff0 113px,#80ff00 227px,#0f0 361px,#00ff80 422px,#0ff 443px,#0080ff 451px,#00f 457px,#00f)"></i>
<i style="background:linear-gradient(#ffb500,#ffbf00 25px,#ff0 110px,#80ff00 225px,#0f0 361px,#00ff80 422px,#0ff 443px,#0080ff 451px,#00f 457px,#00f)"></i>
<i style="background:linear-gradient(#ffb600,#ffdf00 68px,#ff0 106px,#80ff00 224px,#0f0 361px,#00ff80 422px,#0ff 443px,#0080ff 451px,#00f 457px,#00f)"></i>
<i style="background:linear-gradient(#ffb800,#ffdf00 64px,#ff0 103px,#80ff00 223px,#0f0 361px,#00ff80 422px,#0ff 443px,#0080ff 451px,#00f 457px,#00f)"></i>
<i style="background:linear-gradient(#ffba00,#ffdf00 60px,#ff0 100px,#80ff00 221px,#0f0 361px,#00ff80 422px,#0ff 443px,#0080ff 451px,#00f 457px,#00f)"></i>
<i style="background:linear-gradient(#fb0,#ff0 96px,#80ff00 220px,#0f0 361px,#00ff80 422px,#0ff 443px,#0080ff 451px,#00f 457px,#00f)"></i>
<i style="background:linear-gradient(#ffbd00,#ff0 93px,#bfff00 151px,#0f0 361px,#00ff80 422px,#0ff 443px,#0080ff 451px,#00f 457px,#00f)"></i>
<i style="background:linear-gradient(#ffbf00,#ff0 89px,#bfff00 148px,#0f0 361px,#00ff80 422px,#0ff 443px,#0080ff 451px,#00f 457px,#00f)"></i>
<i style="background:linear-gradient(#ffc200,#ff0 86px,#bfff00 145px,#0f0 361px,#00ff80 422px,#0ff 443px,#0080ff 451px,#00f 457px,#00f)"></i>
<i style="background:linear-gradient(#ffc400,#ff0 82px,#bfff00 142px,#0f0 361px,#00ff80 422px,#0ff 443px,#0080ff 451px,#00f 457px,#00f)"></i>
<i style="background:linear-gradient(#ffc700,#ff0 78px,#bfff00 139px,#0f0 361px,#00ff80 422px,#0ff 443px,#0080ff 451px,#00f 457px,#00f)"></i>
<i style="background:linear-gradient(#ffc900,#ff0 75px,#bfff00 136px,#0f0 361px,#00ff80 422px,#0ff 443px,#0080ff 451px,#00f 457px,#00f)"></i>
<i style="background:linear-gradient(#fc0,#ff0 71px,#bfff00 133px,#0f0 361px,#00ff80 422px,#0ff 443px,#0080ff 451px,#00f 457px,#00f)"></i>
<i style="background:linear-gradient(#ffcf00,#ff0 68px,#bfff00 130px,#0f0 361px,#00ff80 422px,#0ff 443px,#0080ff 451px,#00f 457px,#00f)"></i>
<i style="background:linear-gradient(#ffd200,#ff0 64px,#bfff00 126px,#0f0 361px,#00ff80 422px,#0ff 443px,#0080ff 451px,#00f 457px,#00f)"></i>
<i style="background:linear-gradient(#ffd400,#ff0 60px,#bfff00 123px,#0f0 361px,#00ff80 422px,#0ff 443px,#0080ff 451px,#00f 457px,#00f)"></i>
<i style="background:linear-gradient(#ffd700,#ff0 57px,#bfff00 120px,#0f0 361px,#00ff80 422px,#0ff 443px,#0080ff 451px,#00f 457px,#00f)"></i>
<i style="background:linear-gradient(#ffda00,#ff0 53px,#bfff00 117px,#80ff00 204px,#0f0 361px,#00ff80 422px,#0ff 443px,#0080ff 451px,#00f 457px,#00f)"></i>
<i style="background:linear-gradient(#fd0,#ff0 50px,#bfff00 114px,#80ff00 203px,#0f0 361px,#00ff80 422px,#0ff 443px,#0080ff 451px,#00f 457px,#00f)"></i>
<i style="background:linear-gradient(#ffdf00,#ff0 46px,#bfff00 111px,#80ff00 202px,#0f0 361px,#00ff80 422px,#0ff 443px,#0080ff 451px,#00f 457px,#00f)"></i>
<i style="background:linear-gradient(#ffe200,#ff0 43px,#bfff00 107px,#80ff00 201px,#0f0 361px,#00ff80 422px,#0ff 443px,#0080ff 451px,#00f 457px,#00f)"></i>
<i style="background:linear-gradient(#ffe500,#ff0 39px,#bfff00 104px,#80ff00 200px,#0f0 361px,#00ff80 422px,#0ff 443px,#0080ff 451px,#00f 457px,#00f)"></i>
<i style="background:linear-gradient(#ffe700,#ff0 36px,#bfff00 101px,#80ff00 198px,#0f0 361px,#00ff80 422px,#0ff 443px,#0080ff 451px,#00f 457px,#00f)"></i>
<i style="background:linear-gradient(#ffea00,#ff0 32px,#bfff00 98px,#80ff00 197px,#0f0 361px,#00ff80 422px,#0ff 443px,#0080ff 451px,#00f 457px,#00f)"></i>
<i style="background:linear-gradient(#ffec00,#ff0 28px,#bfff00 95px,#80ff00 196px,#0f0 361px,#00ff80 422px,#0ff 443px,#0080ff 451px,#00f 457px,#00f)"></i>
<i style="background:linear-gradient(#ffef00,#ff0 25px,#bfff00 92px,#80ff00 195px,#0f0 361px,#00ff80 422px,#0ff 443px,#0080ff 451px,#00f 457px,#00f)"></i>
<i style="background:linear-gradient(#fff100,#ff0 21px,#bfff00 88px,#80ff00 194px,#0f0 361px,#00ff80 422px,#0ff 443px,#0080ff 451px,#00f 457px,#00f)"></i>
<i style="background:linear-gradient(#fff300,#ff0 18px,#bfff00 85px,#80ff00 193px,#0f0 361px,#00ff80 422px,#0ff 443px,#0080ff 451px,#00f 457px,#00f)"></i>
<i style="background:linear-gradient(#fff600,#ff0 14px,#bfff00 82px,#80ff00 192px,#0f0 361px,#00ff80 423px,#0ff 443px,#0080ff 451px,#00f 457px,#00f)"></i>
<i style="background:linear-gradient(#fff800,#ff0 11px,#bfff00 79px,#80ff00 191px,#0f0 361px,#00ff80 423px,#0ff 443px,#0080ff 451px,#00f 457px,#00f)"></i>
<i style="background:linear-gradient(#fffa00,#ff0 7px,#bfff00 76px,#80ff00 189px,#0f0 361px,#00ff80 423px,#0ff 443px,#0080ff 451px,#00f 457px,#00f)"></i>
<i style="background:linear-gradient(#fffd00,#ff0 4px,#bfff00 72px,#80ff00 188px,#0f0 361px,#00ff80 423px,#0ff 443px,#0080ff 451px,#00f 457px,#00f)"></i>
<i style="background:linear-gradient(#ff0,#bfff00 69px,#80ff00 187px,#0f0 361px,#00ff80 423px,#0ff 443px,#0080ff 451px,#00f 457px,#00f)"></i>
<i style="background:linear-gradient(#fcff00,#bfff00 66px,#80ff00 185px,#0f0 361px,#00ff80 423px,#0ff 443px,#0080ff 451px,#00f 457px,#00f)"></i>
<i style="background:linear-gradient(#faff00,#bfff00 63px,#80ff00 184px,#0f0 361px,#00ff80 423px,#0ff 443px,#0080ff 451px,#00f 457px,#00f)"></i>
<i style="background:linear-gradient(#f7ff00,#bfff00 60px,#80ff00 183px,#0f0 361px,#00ff80 424px,#0ff 443px,#0080ff 451px,#00f 457px,#00f)"></i>
<i style="background:linear-gradient(#f4ff00,#bfff00 57px,#80ff00 181px,#0f0 361px,#00ff80 424px,#0ff 444px,#0080ff 451px,#00f 457px,#00f)"></i>
<i style="background:linear-gradient(#f1ff00,#bfff00 54px,#80ff00 179px,#0f0 361px,#00ff80 424px,#0ff 444px,#0080ff 451px,#00f 457px,#00f)"></i>
<i style="background:linear-gradient(#efff00,#bfff00 51px,#80ff00 178px,#0f0 361px,#00ff80 424px,#0ff 444px,#0080ff 452px,#00f 457px,#00f)"></i>
<i style="background:linear-gradient(#edff00,#bfff00 49px,#80ff00 177px,#0f0 361px,#00ff80 424px,#0ff 444px,#0080ff 452px,#00f 457px,#00f)"></i>
</div>
<div class="p" style="top:554.3px">
<i class="w" style="background:linear-gradient(#f00,#f00 280px,#ff8000 338px,#ff0 373px,#0f0 405px,#0ff 434px,#0018ff)"></i>
<i class="w" style="background:linear-gradient(#f00,#f00 279px,#ff8000 338px,#ff0 373px,#0f0 405px,#0ff 434px,#0018ff)"></i>
<i class="w" style="background:linear-gradient(#f00,#f00 279px,#ff8000 338px,#ff0 373px,#0f0 405px,#0ff 434px,#0018ff)"></i>
<i class="w" style="background:linear-gradient(#f00,#f00 278px,#ff8000 338px,#ff0 373px,#0f0 405px,#0ff 434px,#0018ff)"></i>
<i class="w" style="background:linear-gradient(#f00,#f00 278px,#ff8000 338px,#ff0 373px,#0f0 405px,#0ff 434px,#0018ff)"></i>
<i class="w" style="background:linear-gradient(#f00,#f00 277px,#ff8000 338px,#ff0 373px,#0f0 404px,#0ff 434px,#0018ff)"></i>
<i class="w" style="background:linear-gradient(#f00,#f00 276px,#ff8000 338px,#ff0 372px,#0f0 404px,#0ff 434px,#0018ff)"></i>
<i class="w" style="background:linear-gradient(#f00,#f00 276px,#ff8000 337px,#ff0 372px,#0f0 404px,#0ff 434px,#0018ff)"></i>
<i class="w" style="background:linear-gradient(#f00,#f00 275px,#ff8000 337px,#ff0 372px,#0f0 404px,#0ff 434px,#0018ff)"></i>
<i class="w" style="background:linear-gradient(#f00,#f00 274px,#ff8000 337px,#ff0 372px,#0f0 404px,#0ff 434px,#0018ff)"></i>
<i class="w" style="background:linear-gradient(#f00,#f00 273px,#ff8000 337px,#ff0 371px,#0f0 404px,#0ff 434px,#0018ff)"></i>
<i class="w" style="background:linear-gradient(#f00,#f00 273px,#ff8000 336px,#ff0 371px,#0f0 404px,#0ff 434px,#0018ff)"></i>
<i class="w" style="background:linear-gradient(#f00,#f00 272px,#ff8000 336px,#ff0 371px,#0f0 404px,#0ff 434px,#0018ff)"></i>
<i class="w" style="background:linear-gradient(#f00,#f00 271px,#ff8000 336px,#ff0 371px,#0f0 404px,#0ff 434px,#0018ff)"></i>
<i class="w" style="background:linear-gradient(#f00,#f00 270px,#ff8000 335px,#ff0 370px,#0f0 404px,#0ff 434px,#0018ff)"></i>
<i class="w" style="background:linear-gradient(#f00,#f00 270px,#ff8000 335px,#ff0 370px,#0f0 404px,#0ff 434px,#0018ff)"></i>
<i class="w" style="background:linear-gradient(#f00,#f00 269px,#ff8000 335px,#ff0 370px,#0f0 404px,#0ff 434px,#0018ff)"></i>
<i class="w" style="background:linear-gradient(#f00,#f00 268px,#ff8000 334px,#ff0 369px,#0f0 404px,#0ff 434px,#0018ff)"></i>
<i class="w" style="background:linear-gradient(#f00,#f00 267px,#ff8000 334px,#ff0 369px,#0f0 404px,#0ff 434px,#0018ff)"></i>
<i class="w" style="background:linear-gradient(#f00,#f00 266px,#ff4000 304px,#ff8000 334px,#ff0 368px,#0f0 404px,#0ff 434px,#0018ff)"></i>
<i class="w" style="background:linear-gradient(#f00,#f00 266px,#ff4000 303px,#ff8000 333px,#ff0 368px,#0f0 403px,#0ff 434px,#0018ff)"></i>
<i class="w" style="background:linear-gradient(#f00,#f00 265px,#ff4000 302px,#ff8000 333px,#ff0 368px,#0f0 403px,#0ff 434px,#0018ff)"></i>
<i class="w" style="background:linear-gradient(#f00,#f00 264px,#ff4000 302px,#ff8000 333px,#ff0 367px,#0f0 403px,#0ff 434px,#0018ff)"></i>
<i class="w" style="background:linear-gradient(#f00,#f00 263px,#ff4000 301px,#ff8000 332px,#ff0 367px,#0f0 403px,#0ff 434px,#0018ff)"></i>
<i class="w" style="background:linear-gradient(#f00,#f00 262px,#ff4000 301px,#ff8000 332px,#ff0 367px,#0f0 403px,#0ff 434px,#0018ff)"></i>
<i class="w" style="background:linear-gradient(#f00,#f00 261px,#ff4000 300px,#ff8000 331px,#ff0 366px,#0f0 403px,#0ff 434px,#0018ff)"></i>
<i class="w" style="background:linear-gradient(#f00,#f00 261px,#ff4000 300px,#ff8000 331px,#ff0 366px,#0f0 403px,#0ff 434px,#0018ff)"></i>
<i class="w" style="background:linear-gradient(#f00,#f00 260px,#ff4000 299px,#ff8000 330px,#ff0 365px,#0f0 403px,#0ff 434px,#0018ff)"></i>
<i class="w" style="background:linear-gradient(#f00,#f00 259px,#ff4000 298px,#ff8000 330px,#ff0 365px,#0f0 403px,#0ff 434px,#0018ff)"></i>
<i class="w" style="background:linear-gradient(#f00,#f00 258px,#ff4000 298px,#ff8000 330px,#ff0 364px,#0f0 402px,#0ff 433px,#0018ff)"></i>
<i class="w" style="background:linear-gradient(#f00,#f00 257px,#ff4000 297px,#ff8000 329px,#ff0 364px,#0f0 402px,#0ff 433px,#0018ff)"></i>
<i class="w" style="background:linear-gradient(#f00,#f00 256px,#ff4000 297px,#ff8000 329px,#ff0 364px,#0f0 402px,#0ff 433px,#0018ff)"></i>
<i class="w" style="background:linear-gradient(#f00,#f00 255px,#ff4000 296px,#ff8000 328px,#ff0 363px,#0f0 402px,#0ff 433px,#0018ff)"></i>
<i class="w" style="background:linear-gradient(#f00,#f00 254px,#ff4000 295px,#ff8000 328px,#ff0 363px,#0f0 402px,#0ff 433px,#0018ff)"></i>
<i class="w" style="background:linear-gradient(#f00,#f00 253px,#ff4000 295px,#ff8000 327px,#ff0 362px,#0f0 402px,#0ff 433px,#0018ff)"></i>
<i class="w" style="background:linear-gradient(#f00,#f00 253px,#ff4000 294px,#ff8000 327px,#ff0 362px,#0f0 401px,#0ff 433px,#0018ff)"></i>
<i class="w" style="background:linear-gradient(#f00,#f00 252px,#ff4000 293px,#ff8000 326px,#ff0 361px,#0f0 401px,#0ff 433px,#0018ff)"></i>
<i class="w" style="background:linear-gradient(#f00,#f00 251px,#ff4000 293px,#ff8000 326px,#ff0 361px,#0f0 401px,#0ff 432px,#0017ff)"></i>
<i class="w" style="background:linear-gradient(#f00,#f00 250px,#ff4000 292px,#ff8000 325px,#ff0 360px,#0f0 401px,#0ff 432px,#0017ff)"></i>
<i class="w" style="background:linear-gradient(#f00,#f00 249px,#ff4000 291px,#ff8000 325px,#ff0 360px,#0f0 400px,#0ff 432px,#0017ff)"></i>
<i class="w" style="background:linear-gradient(#f00,#f00 248px,#ff4000 290px,#ff8000 324px,#ff0 359px,#0f0 400px,#0ff 431px,#0016ff)"></i>
<i class="w" style="background:linear-gradient(#f00,#f00 247px,#ff4000 290px,#ff8000 324px,#ff0 358px,#0f0 399px,#0ff 431px,#0016ff)"></i>
<i class="w" style="background:linear-gradient(#f00,#f00 246px,#ff4000 289px,#ff8000 323px,#ff0 358px,#0f0 399px,#0ff 431px,#0015ff)"></i>
<i class="w" style="background:linear-gradient(#f00,#f00 245px,#ff4000 288px,#ff8000 322px,#ff0 357px,#0f0 399px,#0ff 430px,#0015ff)"></i>
<i class="w" style="background:linear-gradient(#f00,#f00 244px,#ff4000 287px,#ff8000 322px,#ff0 356px,#0f0 398px,#0ff 430px,#0015ff)"></i>
<i class="w" style="background:linear-gradient(#f00,#f00 243px,#ff4000 286px,#ff8000 321px,#ff0 356px,#0f0 398px,#0ff 429px,#0080ff 445px,#0014ff)"></i>
<i class="w" style="background:linear-gradient(#f00,#f00 242px,#ff4000 285px,#ff8000 320px,#ff0 355px,#0f0 397px,#0ff 429px,#0080ff 445px,#0014ff)"></i>
<i class="w" style="background:linear-gradient(#f00,#f00 240px,#ff4000 284px,#ff8000 319px,#ff0 354px,#0f0 397px,#0ff 428px,#0080ff 445px,#0013ff)"></i>
<i class="w" style="background:linear-gradient(#f00,#f00 239px,#ff4000 283px,#ff8000 318px,#ff0 353px,#0f0 396px,#0ff 428px,#0080ff 444px,#0013ff)"></i>
<i class="w" style="background:linear-gradient(#f00,#f00 237px,#ff4000 282px,#ff8000 317px,#ff0 352px,#0f0 396px,#0ff 428px,#0080ff 444px,#0012ff)"></i>
<i class="w" style="background:linear-gradient(#f00,#f00 235px,#ff4000 280px,#ff8000 316px,#ff0 351px,#0f0 395px,#0ff 427px,#0080ff 444px,#01f)"></i>
<i class="w" style="background:linear-gradient(#f00,#f00 233px,#ff4000 279px,#ff8000 315px,#ff0 350px,#0f0 394px,#0ff 427px,#0080ff 443px,#000eff)"></i>
<i class="w" style="background:linear-gradient(#f00,#f00 230px,#ff4000 277px,#ff8000 314px,#ff0 349px,#0f0 394px,#0ff 426px,#0080ff 443px,#0009ff)"></i>
<i class="w" style="background:linear-gradient(#f00,#f00 227px,#ff4000 275px,#ff8000 313px,#ff0 347px,#0f0 393px,#0ff 426px,#0080ff 442px,#0004ff)"></i>
<i class="w" style="background:linear-gradient(#f00,#f00 224px,#ff4000 273px,#ff8000 311px,#ff0 346px,#0f0 392px,#0ff 425px,#00f 459px,#0001ff)"></i>
<i class="w" style="background:linear-gradient(#f00,#f00 220px,#ff4000 271px,#ff8000 310px,#ff0 344px,#0f0 392px,#0ff 425px,#00f 458px,#00f)"></i>
<i class="w" style="background:linear-gradient(#f00,#f00 216px,#ff4000 269px,#ff8000 308px,#ff0 342px,#0f0 391px,#0ff 424px,#00f 457px,#00f)"></i>
<i class="w" style="background:linear-gradient(#f00,#f00 212px,#ff4000 267px,#ff8000 307px,#ff0 340px,#0f0 390px,#0ff 424px,#00f 456px,#00f)"></i>
<i class="w" style="background:linear-gradient(#f00,#f00 207px,#ff4000 264px,#ff8000 305px,#ff0 338px,#0f0 389px,#0ff 423px,#0080ff 439px,#00f 454px,#00f)"></i>
<i class="w" style="background:linear-gradient(#f00,#f00 203px,#ff4000 262px,#ff8000 303px,#ff0 336px,#0f0 388px,#0ff 422px,#0080ff 438px,#00f 453px,#00f)"></i>
<i class="w" style="background:linear-gradient(#f00,#f00 198px,#ff4000 259px,#ff8000 301px,#ff0 334px,#0f0 387px,#0ff 421px,#0080ff 438px,#00f 452px,#00f)"></i>
<i class="m" style="background:linear-gradient(#f00,#f00 194px,#ff4000 257px,#ff8000 299px,#ff0 332px,#0f0 386px,#0ff 421px,#0080ff 437px,#00f 451px,#00f)"></i>
<i class="m" style="background:linear-gradient(#f00,#f00 191px,#ff4000 255px,#ff8000 298px,#ff0 331px,#0f0 386px,#0ff 420px,#0080ff 436px,#00f 450px,#00f)"></i>
<i class="m" style="background:linear-gradient(#f00,#f00 187px,#ff4000 253px,#ff8000 297px,#ff0 329px,#0f0 385px,#0ff 420px,#0080ff 436px,#00f 450px,#00f)"></i>
<i class="m" style="background:linear-gradient(#f00,#f00 183px,#ff4000 251px,#ff8000 295px,#ff0 328px,#0f0 384px,#0ff 419px,#0080ff 435px,#00f 449px,#00f)"></i>
<i class="m" style="background:linear-gradient(#f00,#f00 179px,#ff4000 249px,#ff8000 294px,#ff0 326px,#0f0 383px,#0ff 418px,#0080ff 435px,#00f 449px,#00f)"></i>
<i class="m" style="background:linear-gradient(#f00,#f00 175px,#ff4000 247px,#ff8000 292px,#ff0 325px,#0f0 382px,#0ff 418px,#0080ff 434px,#00f 448px,#00f)"></i>
<i class="m" style="background:linear-gradient(#f00,#f00 170px,#ff4000 245px,#ff8000 290px,#ff0 323px,#0f0 381px,#0ff 417px,#0080ff 433px,#00f 448px,#00f)"></i>
<i class="m" style="background:linear-gradient(#f00,#f00 165px,#ff4000 243px,#ff8000 289px,#ff0 322px,#0f0 380px,#0ff 416px,#0080ff 433px,#00f 448px,#00f)"></i>
<i class="m" style="background:linear-gradient(#f00,#f00 158px,#ff4000 241px,#ff8000 287px,#ff0 320px,#0f0 379px,#0ff 415px,#00f 448px,#00f)"></i>
<i style="background:linear-gradient(#f00,#f00 153px,#ff4000 239px,#ff8000 286px,#ff0 319px,#0f0 378px,#0ff 414px,#00f 448px,#00f)"></i>
<i style="background:linear-gradient(#f00,#f00 150px,#ff2000 200px,#ff4000 238px,#ff8000 285px,#ff0 318px,#0f0 377px,#0ff 414px,#00f 448px,#00f)"></i>
<i style="background:linear-gradient(#f00,#f00 146px,#ff2000 198px,#ff4000 237px,#ff8000 284px,#ff0 317px,#0f0 376px,#0ff 413px,#00f 448px,#00f)"></i>
<i style="background:linear-gradient(#f00,#f00 142px,#ff2000 196px,#ff4000 235px,#ff8000 283px,#ff0 316px,#0f0 375px,#0ff 412px,#00f 448px,#00f)"></i>
<i style="background:linear-gradient(#f00,#f00 138px,#ff2000 194px,#ff4000 234px,#ff8000 282px,#ff0 315px,#0f0 374px,#0ff 411px,#00f 448px,#00f)"></i>
<i style="background:linear-gradient(#f00,#f00 133px,#ff2000 192px,#ff4000 233px,#ff8000 280px,#ff0 314px,#0f0 372px,#0ff 411px,#00f 448px,#00f)"></i>
<i style="background:linear-gradient(#f00,#f00 129px,#ff2000 190px,#ff4000 231px,#ff8000 279px,#ff0 313px,#0f0 371px,#0ff 410px,#00f 448px,#00f)"></i>
<i style="background:linear-gradient(#f00,#f00 125px,#ff2000 189px,#ff4000 230px,#ff8000 278px,#ff0 312px,#0f0 370px,#0ff 409px,#00f 448px,#00f)"></i>
<i style="background:linear-gradient(#f00,#f00 120px,#ff2000 187px,#ff4000 228px,#ff8000 277px,#ff0 311px,#0f0 369px,#0ff 408px,#00f 448px,#00f)"></i>
<i style="background:linear-gradient(#f00,#f00 115px,#ff2000 185px,#ff4000 227px,#ff8000 276px,#ff0 310px,#0f0 367px,#0ff 407px,#00f 448px,#00f)"></i>
<i style="background:linear-gradient(#f00,#f00 111px,#ff2000 183px,#ff4000 225px,#ff8000 274px,#ff0 309px,#0f0 366px,#0ff 406px,#0080ff 426px,#00f 448px,#00f)"></i>
<i style="background:linear-gradient(#f00,#f00 106px,#ff2000 181px,#ff4000 224px,#ff8000 273px,#ff0 308px,#0f0 364px,#0ff 405px,#0080ff 425px,#00f 448px,#00f)"></i>
<i style="background:linear-gradient(#f00,#f00 101px,#ff2000 179px,#ff4000 222px,#ff8000 272px,#ff0 307px,#0f0 363px,#0ff 404px,#0080ff 425px,#00f 448px,#00f)"></i>
<i style="background:linear-gradient(#f00,#f00 96px,#ff2000 177px,#ff4000 221px,#ff8000 270px,#ff0 305px,#0f0 362px,#0ff 402px,#0080ff 424px,#00f 448px,#00f)"></i>
<i style="background:linear-gradient(#f00,#f00 91px,#ff2000 175px,#ff4000 219px,#ff8000 269px,#ff0 304px,#0f0 360px,#0ff 401px,#0080ff 423px,#00f 448px,#00f)"></i>
<i style="background:linear-gradient(#f00,#f00 86px,#ff2000 173px,#ff4000 218px,#ff8000 268px,#ff0 303px,#0f0 359px,#0ff 400px,#0080ff 423px,#00f 448px,#00f)"></i>
<i style="background:linear-gradient(#f00,#f00 81px,#ff2000 171px,#ff4000 216px,#ff8000 266px,#ff0 302px,#0f0 357px,#0ff 399px,#0080ff 422px,#00f 448px,#00f)"></i>
<i style="background:linear-gradient(#f00,#f00 76px,#ff2000 170px,#ff4000 215px,#ff8000 265px,#ff0 301px,#0f0 356px,#0ff 398px,#0080ff 421px,#00f 448px,#00f)"></i>
<i style="background:linear-gradient(#f00,#f00 71px,#ff2000 168px,#ff4000 213px,#ff8000 264px,#ff0 300px,#0f0 354px,#0ff 397px,#0080ff 421px,#00f 448px,#00f)"></i>
<i style="background:linear-gradient(#f00,#f00 66px,#ff2000 166px,#ff4000 212px,#ff8000 262px,#ff0 298px,#0f0 353px,#0ff 396px,#0080ff 420px,#00f 448px,#00f)"></i>
<i style="background:linear-gradient(#f00,#f00 61px,#ff2000 165px,#ff4000 210px,#ff8000 261px,#ff0 297px,#0f0 351px,#0ff 395px,#0080ff 419px,#00f 448px,#00f)"></i>
<i style="background:linear-gradient(#f00,#f00 56px,#ff2000 163px,#ff4000 209px,#ff8000 259px,#ff0 296px,#0f0 350px,#0ff 393px,#0080ff 418px,#00f 448px,#00f)"></i>
<i style="background:linear-gradient(#f00,#f00 51px,#ff2000 162px,#ff4000 207px,#ff8000 258px,#ff0 295px,#0f0 349px,#0ff 392px,#0080ff 418px,#00f 448px,#00f)"></i>
<i style="background:linear-gradient(#f00,#f00 46px,#ff2000 161px,#ff4000 206px,#ff8000 256px,#ff0 293px,#0f0 347px,#0ff 391px,#0080ff 417px,#00f 447px,#00f)"></i>
<i style="background:linear-gradient(#f00,#f00 41px,#ff2000 159px,#ff4000 204px,#ff8000 255px,#ff0 292px,#0f0 346px,#0ff 390px,#0080ff 416px,#00f 447px,#00f)"></i>
<i style="background:linear-gradient(#f00,#f00 36px,#ff2000 158px,#ff4000 203px,#ff8000 253px,#ff0 290px,#0f0 344px,#0ff 389px,#0080ff 415px,#00f 447px,#00f)"></i>
<i style="background:linear-gradient(#f00,#f00 30px,#ff2000 157px,#ff4000 202px,#ff8000 252px,#ff0 289px,#0f0 343px,#0ff 388px,#0080ff 415px,#00f 447px,#00f)"></i>
<i style="background:linear-gradient(#f00,#f00 25px,#ff2000 156px,#ff4000 200px,#ff8000 250px,#ff0 288px,#0f0 341px,#0ff 386px,#0080ff 414px,#00f 447px,#00f)"></i>
<i style="background:linear-gradient(#f00,#f00 20px,#ff2000 154px,#ff4000 199px,#ff8000 249px,#ff0 286px,#0f0 340px,#0ff 385px,#0080ff 413px,#00f 447px,#00f)"></i>
<i style="background:linear-gradient(#f00,#ff2000 153px,#ff4000 197px,#ff8000 247px,#ff0 284px,#0f0 338px,#0ff 384px,#0080ff 412px,#00f 447px,#00f)"></i>
<i style="background:linear-gradient(#f00,#ff2000 152px,#ff4000 196px,#ff8000 245px,#ff0 283px,#0f0 337px,#0ff 382px,#0080ff 411px,#00f 446px,#00f)"></i>
<i style="background:linear-gradient(#ff0100,#ff2000 151px,#ff4000 194px,#ff8000 243px,#ff0 281px,#0f0 335px,#0ff 381px,#0080ff 410px,#00f 446px,#00f)"></i>
<i style="background:linear-gradient(#ff0200,#ff2000 149px,#ff4000 193px,#ff8000 242px,#ff0 279px,#0f0 334px,#0ff 380px,#0080ff 409px,#00f 446px,#00f)"></i>
<i style="background:linear-gradient(#ff0300,#ff2000 148px,#ff4000 192px,#ff8000 240px,#ff0 278px,#0f0 332px,#0ff 378px,#0080ff 408px,#00f 445px,#00f)"></i>
<i style="background:linear-gradient(#ff0400,#ff2000 146px,#ff4000 190px,#ff8000 238px,#ff0 276px,#0f0 330px,#0ff 377px,#0080ff 407px,#00f 445px,#00f)"></i>
<i style="background:linear-gradient(#ff0500,#ff2000 145px,#ff4000 189px,#ff8000 236px,#ff0 274px,#0f0 329px,#0ff 376px,#0080ff 406px,#00f 444px,#00f)"></i>
<i style="background:linear-gradient(#ff0600,#ff2000 143px,#ff4000 187px,#ff8000 235px,#ff0 273px,#0f0 327px,#0ff 374px,#0080ff 405px,#00f 444px,#00f)"></i>
<i style="background:linear-gradient(#ff0600,#ff2000 142px,#ff4000 186px,#ff8000 233px,#ff0 271px,#0f0 326px,#0ff 373px,#0080ff 404px,#00f 443px,#00f)"></i>
<i style="background:linear-gradient(#ff0700,#ff2000 140px,#ff4000 184px,#ff8000 231px,#ff0 269px,#0f0 324px,#0ff 371px,#0080ff 403px,#00f 443px,#00f)"></i>
<i style="background:linear-gradient(#ff0800,#ff2000 138px,#ff4000 183px,#ff8000 229px,#ff0 268px,#0f0 323px,#0ff 370px,#0080ff 401px,#00f 442px,#00f)"></i>
<i style="background:linear-gradient(#ff0900,#ff2000 135px,#ff4000 181px,#ff8000 227px,#ff0 266px,#0f0 321px,#0ff 369px,#0080ff 400px,#00f 442px,#00f)"></i>
<i style="background:linear-gradient(#ff0a00,#ff2000 133px,#ff4000 180px,#ff8000 226px,#ff0 264px,#0f0 319px,#0ff 367px,#0080ff 399px,#00f 441px,#00f)"></i>
<i style="background:linear-gradient(#ff0a00,#ff2000 130px,#ff4000 178px,#ff8000 224px,#ff0 262px,#0f0 318px,#0ff 366px,#0080ff 398px,#00f 441px,#00f)"></i>
<i style="background:linear-gradient(#ff0b00,#ff2000 126px,#ff4000 176px,#ff8000 222px,#ff0 261px,#0f0 317px,#0ff 365px,#0080ff 397px,#00f 440px,#00f)"></i>
<i style="background:linear-gradient(#ff0c00,#ff2000 122px,#ff4000 175px,#ff8000 221px,#ff0 259px,#0f0 315px,#0ff 364px,#0080ff 396px,#00f 440px,#00f)"></i>
<i style="background:linear-gradient(#ff0d00,#ff2000 118px,#ff4000 173px,#ff8000 219px,#ff0 258px,#0f0 314px,#0ff 362px,#0080ff 395px,#00f 439px,#00f)"></i>
<i style="background:linear-gradient(#ff0e00,#ff2000 113px,#ff4000 172px,#ff8000 217px,#ff0 256px,#0f0 312px,#0ff 361px,#0080ff 394px,#00f 438px,#00f)"></i>
<i style="background:linear-gradient(#ff0f00,#ff2000 108px,#ff4000 170px,#ff8000 216px,#ff0 255px,#0f0 311px,#0ff 360px,#0080ff 393px,#00f 438px,#00f)"></i>
<i style="background:linear-gradient(#ff0f00,#ff2000 103px,#ff4000 168px,#ff8000 214px,#ff0 253px,#0f0 310px,#0ff 359px,#0080ff 392px,#00f 437px,#00f)"></i>
<i style="background:linear-gradient(#ff1000,#ff2000 98px,#ff4000 166px,#ff8000 212px,#ff0 252px,#0f0 308px,#0ff 358px,#0080ff 391px,#00f 437px,#00f)"></i>
<i style="background:linear-gradient(#f10,#ff2000 93px,#ff4000 164px,#ff8000 211px,#ff0 250px,#0f0 307px,#0ff 356px,#0080ff 390px,#00f 436px,#00f)"></i>
<i style="background:linear-gradient(#ff1200,#ff2000 88px,#ff4000 162px,#ff8000 209px,#ff0 249px,#0f0 306px,#0ff 355px,#0080ff 389px,#00f 435px,#00f)"></i>
<i style="background:linear-gradient(#ff1300,#ff2000 82px,#ff4000 160px,#ff8000 207px,#ff0 247px,#0f0 304px,#0ff 354px,#0080ff 387px,#00f 434px,#00f)"></i>
<i style="background:linear-gradient(#ff1300,#ff2000 77px,#ff4000 157px,#ff8000 206px,#ff0 246px,#0f0 303px,#0ff 353px,#0080ff 386px,#00f 434px,#00f)"></i>
<i style="background:linear-gradient(#ff1400,#ff2000 72px,#ff4000 155px,#ff8000 204px,#ff0 244px,#0f0 302px,#0ff 351px,#0080ff 385px,#00f 433px,#00f)"></i>
<i style="background:linear-gradient(#ff1500,#ff2000 67px,#ff4000 152px,#ff8000 202px,#ff0 243px,#0f0 300px,#0ff 350px,#0080ff 384px,#00f 432px,#00f)"></i>
<i style="background:linear-gradient(#ff1600,#ff2000 62px,#ff4000 149px,#ff8000 200px,#ff0 241px,#0f0 299px,#0ff 349px,#0080ff 382px,#00f 431px,#00f)"></i>
<i style="background:linear-gradient(#ff1700,#ff2000 57px,#ff4000 147px,#ff8000 199px,#ff0 240px,#0f0 298px,#0ff 348px,#0080ff 381px,#00f 429px,#00f)"></i>
<i style="background:linear-gradient(#ff1800,#ff2000 51px,#ff4000 144px,#ff8000 197px,#ff0 238px,#0f0 296px,#0ff 346px,#0080ff 380px,#00f 428px,#00f)"></i>
<i style="background:linear-gradient(#ff1800,#ff2000 46px,#ff4000 141px,#ff8000 195px,#ff0 237px,#0f0 295px,#0ff 345px,#0080ff 378px,#00f 427px,#00f)"></i>
<i style="background:linear-gradient(#ff1900,#ff2000 41px,#ff4000 139px,#ff8000 194px,#ff0 236px,#0f0 294px,#0ff 344px,#0080ff 377px,#00f 426px,#00f)"></i>
<i style="background:linear-gradient(#ff1a00,#ff4000 136px,#ff8000 192px,#ff0 234px,#0f0 292px,#0ff 343px,#0080ff 376px,#00f 424px,#00f)"></i>
<i style="background:linear-gradient(#ff1b00,#ff4000 133px,#ff8000 190px,#ff0 233px,#0f0 291px,#0ff 342px,#0080ff 375px,#00f 423px,#00f)"></i>
<i style="background:linear-gradient(#ff1c00,#ff4000 131px,#ff8000 189px,#ff0 231px,#0f0 290px,#0ff 341px,#0080ff 374px,#00f 422px,#00f)"></i>
<i style="background:linear-gradient(#ff1c00,#ff4000 128px,#ff8000 187px,#ff0 230px,#0f0 289px,#0ff 340px,#0080ff 372px,#00f 421px,#00f)"></i>
<i style="background:linear-gradient(#ff1d00,#ff4000 126px,#ff8000 186px,#ff0 229px,#0f0 288px,#0ff 339px,#0080ff 371px,#00f 419px,#00f)"></i>
<i style="background:linear-gradient(#ff1e00,#ff4000 124px,#ff8000 184px,#ff0 228px,#0f0 287px,#0ff 338px,#0080ff 370px,#00f 418px,#00f)"></i>
<i style="background:linear-gradient(#ff1f00,#ff4000 122px,#ff8000 183px,#ff0 227px,#0f0 286px,#0ff 337px,#0080ff 370px,#00f 417px,#00f)"></i>
<i style="background:linear-gradient(#ff2000,#ff4000 120px,#ff8000 182px,#ff0 225px,#0f0 285px,#0ff 336px,#0080ff 369px,#00f 416px,#00f)"></i>
<i style="background:linear-gradient(#ff2100,#ff4000 118px,#ff8000 181px,#ff0 224px,#0f0 284px,#0ff 336px,#0080ff 368px,#00f 415px,#00f)"></i>
<i style="background:linear-gradient(#f20,#ff4000 116px,#ff8000 180px,#ff0 223px,#0f0 284px,#0ff 335px,#0080ff 367px,#00f 414px,#00f)"></i>
<i style="background:linear-gradient(#ff2300,#ff4000 115px,#ff8000 179px,#ff0 222px,#0f0 283px,#0ff 335px,#0080ff 367px,#00f 413px,#00f)"></i>
<i style="background:linear-gradient(#ff2400,#ff4000 113px,#ff8000 178px,#ff0 221px,#0f0 282px,#0ff 335px,#0080ff 367px,#00f 412px,#00f)"></i>
<i style="background:linear-gradient(#ff2500,#ff4000 112px,#ff8000 177px,#ff0 221px,#0f0 282px,#0ff 334px,#0080ff 366px,#00f 412px,#00f)"></i>
<i style="background:linear-gradient(#ff2600,#ff4000 110px,#ff6000 148px,#ff8000 176px,#ff0 220px,#0f0 282px,#0ff 334px,#0080ff 366px,#00f 411px,#00f)"></i>
<i style="background:linear-gradient(#ff2700,#ff4000 109px,#ff6000 148px,#ff8000 175px,#ff0 219px,#0f0 281px,#0ff 334px,#0080ff 366px,#00f 411px,#00f)"></i>
<i style="background:linear-gradient(#ff2900,#ff4000 106px,#ff6000 148px,#ff8000 175px,#ff0 218px,#0f0 281px,#0ff 334px,#0080ff 366px,#00f 411px,#00f)"></i>
<i style="background:linear-gradient(#ff2a00,#ff4000 104px,#ff6000 148px,#ff8000 174px,#ff0 217px,#0f0 281px,#0ff 334px,#0080ff 366px,#00f 411px,#00f)"></i>
<i style="background:linear-gradient(#ff2b00,#ff4000 100px,#ff6000 149px,#ff8000 174px,#ff0 217px,#0f0 280px,#0ff 334px,#0080ff 366px,#00f 410px,#00f)"></i>
<i style="background:linear-gradient(#ff2c00,#ff4000 96px,#ff6000 149px,#ff8000 173px,#ff0 216px,#0f0 280px,#0ff 334px,#0080ff 366px,#00f 410px,#00f)"></i>
<i style="background:linear-gradient(#ff2d00,#ff4000 91px,#ff6000 150px,#ff8000 173px,#ff0 215px,#0f0 280px,#0ff 335px,#0080ff 366px,#00f 410px,#00f)"></i>
<i style="background:linear-gradient(#ff2e00,#ff4000 86px,#ff6000 150px,#ff8000 172px,#ff0 215px,#0f0 280px,#0ff 335px,#0080ff 366px,#00f 410px,#00f)"></i>
<i style="background:linear-gradient(#ff2f00,#ff4000 81px,#ff6000 150px,#ff8000 172px,#ff0 214px,#0f0 280px,#0ff 335px,#0080ff 366px,#00f 409px,#00f)"></i>
<i style="background:linear-gradient(#ff3000,#ff4000 75px,#ff6000 150px,#ff8000 171px,#ff0 214px,#0f0 279px,#0ff 335px,#0080ff 366px,#00f 409px,#00f)"></i>
<i style="background:linear-gradient(#ff3100,#ff4000 70px,#ff6000 149px,#ff8000 170px,#ff0 213px,#0f0 279px,#0ff 335px,#0080ff 366px,#00f 409px,#00f)"></i>
<i style="background:linear-gradient(#ff3200,#ff4000 65px,#ff6000 148px,#ff8000 170px,#ff0 213px,#0f0 280px,#0ff 336px,#0080ff 367px,#00f 409px,#00f)"></i>
<i style="background:linear-gradient(#f30,#ff4000 60px,#ff6000 145px,#ff8000 169px,#ff0 213px,#0f0 280px,#0ff 336px,#0080ff 368px,#00f 410px,#00f)"></i>
<i style="background:linear-gradient(#ff3400,#ff4000 55px,#ff6000 141px,#ff8000 168px,#ff0 213px,#0f0 281px,#0ff 338px,#0080ff 369px,#00f 412px,#00f)"></i>
<i style="background:linear-gradient(#ff3500,#ff4000 49px,#ff6000 136px,#ff8000 167px,#ff0 213px,#0f0 282px,#0ff 339px,#0080ff 371px,#00f 415px,#00f)"></i>
<i style="background:linear-gradient(#ff3600,#ff4000 44px,#ff6000 131px,#ff8000 166px,#ff0 214px,#0f0 284px,#0ff 342px,#0080ff 374px,#00f 418px,#00f)"></i>
<i style="background:linear-gradient(#ff3700,#ff6000 126px,#ff8000 166px,#ff0 215px,#0f0 286px,#0ff 345px,#0080ff 378px,#00f 421px,#00f)"></i>
<i style="background:linear-gradient(#ff3800,#ff6000 121px,#ff8000 164px,#ff0 216px,#0f0 289px,#0ff 349px,#0080ff 382px,#00f 425px,#00f)"></i>
<i style="background:linear-gradient(#ff3900,#ff6000 116px,#ff8000 163px,#ff0 217px,#0f0 292px,#0ff 354px,#0080ff 387px,#00f 428px,#00f)"></i>
<i style="background:linear-gradient(#ff3b00,#ff6000 110px,#ff8000 162px,#ff0 217px,#0f0 295px,#0ff 359px,#0080ff 392px,#00f 431px,#00f)"></i>
<i style="background:linear-gradient(#ff3c00,#ff6000 105px,#ff8000 160px,#ff0 218px,#0f0 299px,#0ff 364px,#0080ff 397px,#00f 433px,#00f)"></i>
<i style="background:linear-gradient(#ff3d00,#ff6000 100px,#ff8000 158px,#ff0 219px,#0f0 302px,#0ff 369px,#00f 436px,#00f)"></i>
<i style="background:linear-gradient(#ff3e00,#ff6000 95px,#ff8000 155px,#ff0 219px,#0f0 306px,#0ff 375px,#00f 438px,#00f)"></i>
<i style="background:linear-gradient(#ff3f00,#ff6000 90px,#ff8000 152px,#ff0 220px,#0f0 309px,#0ff 380px,#00f 441px,#00f)"></i>
<i style="background:linear-gradient(#ff4100,#ff6000 84px,#ff8000 147px,#ff0 219px,#0f0 312px,#0ff 386px,#0080ff 416px,#00f 443px,#00f)"></i>
<i style="background:linear-gradient(#ff4200,#ff6000 79px,#ff8000 142px,#ffbf00 185px,#ff0 219px,#0f0 315px,#0ff 392px,#0080ff 420px,#00f 445px,#00f)"></i>
<i style="background:linear-gradient(#f40,#ff6000 74px,#ff8000 136px,#ffbf00 183px,#ff0 218px,#0f0 318px,#0ff 398px,#0080ff 424px,#00f 447px,#00f)"></i>
<i style="background:linear-gradient(#ff4600,#ff6000 68px,#ff8000 130px,#ffbf00 181px,#ff0 217px,#0f0 321px,#0ff 404px,#0080ff 428px,#00f 448px,#00f)"></i>
<i style="background:linear-gradient(#ff4800,#ff6000 63px,#ff8000 125px,#ffbf00 178px,#ff0 216px,#0f0 324px,#0ff 410px,#0080ff 432px,#00f 450px,#00f)"></i>
<i style="background:linear-gradient(#ff4a00,#ff6000 57px,#ff8000 119px,#ffbf00 176px,#ff0 215px,#0f0 327px,#00ff80 373px,#0ff 415px,#0080ff 435px,#00f 451px,#00f)"></i>
<i style="background:linear-gradient(#ff4c00,#ff8000 114px,#ffbf00 173px,#ff0 214px,#0f0 330px,#00ff80 379px,#0ff 420px,#0080ff 438px,#00f 452px,#00f)"></i>
<i style="background:linear-gradient(#ff4e00,#ff8000 108px,#ffbf00 170px,#ff0 212px,#0f0 334px,#00ff80 385px,#0ff 424px,#0080ff 440px,#00f 453px,#00f)"></i>
<i style="background:linear-gradient(#ff5000,#ff8000 104px,#ffbf00 167px,#ff0 211px,#80ff00 271px,#0f0 337px,#00ff80 391px,#0ff 428px,#0080ff 442px,#00f 454px,#00f)"></i>
<i style="background:linear-gradient(#ff5200,#ff8000 99px,#ffbf00 165px,#ff0 209px,#80ff00 271px,#0f0 340px,#00ff80 397px,#0ff 431px,#0080ff 444px,#00f 454px,#00f)"></i>
<i style="background:linear-gradient(#ff5400,#ff8000 96px,#ffbf00 162px,#ff0 207px,#80ff00 271px,#0f0 343px,#00ff80 402px,#0ff 433px,#0080ff 446px,#00f 454px,#00f)"></i>
<i style="background:linear-gradient(#ff5600,#ff8000 92px,#ffbf00 160px,#ff0 206px,#80ff00 271px,#0f0 345px,#00ff80 406px,#0ff 435px,#0080ff 447px,#00f 454px,#00f)"></i>
<i style="background:linear-gradient(#ff5800,#ff8000 89px,#ffbf00 158px,#ff0 204px,#80ff00 271px,#0f0 347px,#00ff80 409px,#0ff 437px,#0080ff 448px,#00f 455px,#00f)"></i>
<i style="background:linear-gradient(#ff5a00,#ff8000 87px,#ffbf00 156px,#ff0 202px,#80ff00 270px,#0f0 348px,#00ff80 412px,#0ff 438px,#0080ff 448px,#00f 455px,#00f)"></i>
<i style="background:linear-gradient(#ff5b00,#ff8000 84px,#ffbf00 154px,#ff0 201px,#80ff00 269px,#0f0 348px,#00ff80 414px,#0ff 439px,#0080ff 448px,#00f 455px,#00f)"></i>
<i style="background:linear-gradient(#ff5d00,#ff8000 81px,#ffbf00 153px,#ff0 199px,#80ff00 267px,#0f0 348px,#00ff80 415px,#0ff 440px,#0080ff 449px,#00f 455px,#00f)"></i>
<i style="background:linear-gradient(#ff5f00,#ff8000 78px,#ffbf00 152px,#ff0 198px,#80ff00 266px,#0f0 348px,#00ff80 416px,#0ff 440px,#0080ff 449px,#00f 455px,#00f)"></i>
<i style="background:linear-gradient(#ff6100,#ff8000 75px,#ff9f00 118px,#ffbf00 150px,#ff0 196px,#80ff00 263px,#0f0 348px,#00ff80 416px,#0ff 441px,#0080ff 449px,#00f 455px,#00f)"></i>
<i style="background:linear-gradient(#ff6300,#ff8000 71px,#ff9f00 116px,#ffbf00 149px,#ff0 194px,#80ff00 261px,#0f0 348px,#00ff80 417px,#0ff 441px,#0080ff 449px,#00f 455px,#00f)"></i>
<i style="background:linear-gradient(#ff6500,#ff8000 67px,#ff9f00 115px,#ffbf00 148px,#ff0 193px,#80ff00 259px,#0f0 348px,#00ff80 417px,#0ff 441px,#0080ff 449px,#00f 455px,#00f)"></i>
<i style="background:linear-gradient(#ff6700,#ff8000 63px,#ff9f00 113px,#ffbf00 147px,#ff0 191px,#80ff00 256px,#0f0 348px,#00ff80 418px,#0ff 442px,#0080ff 449px,#00f 455px,#00f)"></i>
<i style="background:linear-gradient(#ff6900,#ff8000 58px,#ff9f00 111px,#ffbf00 145px,#ff0 190px,#80ff00 254px,#0f0 348px,#00ff80 418px,#0ff 442px,#0080ff 449px,#00f 455px,#00f)"></i>
<i style="background:linear-gradient(#ff6b00,#ff8000 53px,#ff9f00 108px,#ffbf00 143px,#ff0 188px,#80ff00 252px,#0f0 348px,#00ff80 419px,#0ff 442px,#0080ff 449px,#00f 455px,#00f)"></i>
<i style="background:linear-gradient(#ff6d00,#ff8000 48px,#ff9f00 105px,#ffbf00 142px,#ff0 186px,#80ff00 250px,#0f0 348px,#00ff80 419px,#0ff 442px,#00f 456px,#00f)"></i>
<i style="background:linear-gradient(#ff6f00,#ff9f00 102px,#ffbf00 140px,#ff0 184px,#80ff00 248px,#0f0 348px,#00ff80 420px,#0ff 443px,#00f 456px,#00f)"></i>
<i style="background:linear-gradient(#ff7100,#ff9f00 98px,#ffbf00 137px,#ff0 183px,#80ff00 246px,#0f0 348px,#00ff80 420px,#0ff 443px,#00f 456px,#00f)"></i>
<i style="background:linear-gradient(#ff7300,#ff9f00 94px,#ffbf00 135px,#ff0 181px,#80ff00 245px,#0f0 348px,#00ff80 420px,#0ff 443px,#00f 456px,#00f)"></i>
<i style="background:linear-gradient(#ff7500,#ff9f00 90px,#ffbf00 132px,#ff0 179px,#80ff00 243px,#0f0 348px,#00ff80 420px,#0ff 443px,#00f 456px,#00f)"></i>
<i style="background:linear-gradient(#f70,#ff9f00 86px,#ffbf00 129px,#ff0 177px,#80ff00 242px,#0f0 348px,#00ff80 421px,#0ff 443px,#00f 456px,#00f)"></i>
<i style="background:linear-gradient(#ff7900,#ff9f00 81px,#ffbf00 126px,#ff0 175px,#80ff00 241px,#0f0 348px,#00ff80 421px,#0ff 443px,#00f 456px,#00f)"></i>
<i style="background:linear-gradient(#ff7b00,#ff9f00 77px,#ffbf00 122px,#ff0 173px,#80ff00 240px,#0f0 348px,#00ff80 421px,#0ff 444px,#00f 456px,#00f)"></i>
<i style="background:linear-gradient(#ff7d00,#ff9f00 72px,#ffbf00 119px,#ff0 171px,#80ff00 239px,#0f0 348px,#00ff80 421px,#0ff 444px,#00f 457px,#00f)"></i>
<i style="background:linear-gradient(#ff7f00,#ff9f00 68px,#ffbf00 115px,#ff0 169px,#80ff00 239px,#0f0 348px,#00ff80 422px,#0ff 444px,#00f 457px,#00f)"></i>
<i style="background:linear-gradient(#ff8100,#ff9f00 63px,#ffbf00 111px,#ff0 167px,#80ff00 238px,#0f0 348px,#00ff80 422px,#0ff 444px,#00f 457px,#00f)"></i>
<i style="background:linear-gradient(#ff8300,#ff9f00 59px,#ffbf00 108px,#ff0 164px,#80ff00 237px,#0f0 348px,#00ff80 422px,#0ff 444px,#00f 457px,#00f)"></i>
<i style="background:linear-gradient(#ff8500,#ff9f00 54px,#ffbf00 104px,#ff0 162px,#80ff00 236px,#0f0 348px,#00ff80 422px,#0ff 444px,#00f 457px,#00f)"></i>
<i style="background:linear-gradient(#ff8700,#ffbf00 100px,#ff0 159px,#80ff00 235px,#0f0 348px,#00ff80 422px,#0ff 444px,#00f 457px,#00f)"></i>
<i style="background:linear-gradient(#ff8a00,#ffbf00 96px,#ff0 157px,#80ff00 234px,#0f0 348px,#00ff80 422px,#0ff 444px,#00f 457px,#00f)"></i>
<i style="background:linear-gradient(#ff8c00,#ffbf00 92px,#ff0 154px,#80ff00 232px,#0f0 348px,#00ff80 422px,#0ff 444px,#00f 457px,#00f)"></i>
<i style="background:linear-gradient(#ff8e00,#ffbf00 88px,#ff0 151px,#80ff00 231px,#0f0 348px,#00ff80 422px,#0ff 444px,#00f 457px,#00f)"></i>
<i style="background:linear-gradient(#ff9000,#ffbf00 84px,#ff0 148px,#80ff00 230px,#0f0 347px,#00ff80 422px,#0ff 444px,#00f 457px,#00f)"></i>
<i style="background:linear-gradient(#ff9200,#ffbf00 81px,#ff0 145px,#80ff00 228px,#0f0 347px,#00ff80 422px,#0ff 444px,#00f 457px,#00f)"></i>
<i style="background:linear-gradient(#ff9500,#ffbf00 77px,#ff0 142px,#80ff00 227px,#0f0 347px,#00ff80 422px,#0ff 444px,#00f 457px,#00f)"></i>
<i style="background:linear-gradient(#ff9700,#ffbf00 73px,#ff0 139px,#80ff00 226px,#0f0 346px,#00ff80 422px,#0ff 444px,#00f 457px,#00f)"></i>
<i style="background:linear-gradient(#f90,#ffbf00 69px,#ff0 136px,#80ff00 224px,#0f0 346px,#00ff80 422px,#0ff 444px,#00f 457px,#00f)"></i>
<i style="background:linear-gradient(#ff9b00,#ffbf00 65px,#ff0 133px,#80ff00 223px,#0f0 345px,#00ff80 422px,#0ff 444px,#00f 457px,#00f)"></i>
<i style="background:linear-gradient(#ff9d00,#ffbf00 61px,#ff0 129px,#80ff00 221px,#0f0 345px,#00ff80 422px,#0ff 444px,#00f 457px,#00f)"></i>
<i style="background:linear-gradient(#ffa000,#ffbf00 57px,#ff0 126px,#80ff00 220px,#0f0 344px,#00ff80 422px,#0ff 444px,#00f 457px,#00f)"></i>
<i style="background:linear-gradient(#ffa200,#ffbf00 53px,#ff0 123px,#bfff00 174px,#80ff00 218px,#0f0 344px,#00ff80 422px,#0ff 444px,#00f 457px,#00f)"></i>
<i style="background:linear-gradient(#ffa400,#ffbf00 49px,#ff0 120px,#bfff00 172px,#80ff00 217px,#0f0 343px,#00ff80 422px,#0ff 444px,#00f 457px,#00f)"></i>
<i style="background:linear-gradient(#ffa600,#ffbf00 45px,#ff0 117px,#bfff00 170px,#80ff00 216px,#0f0 343px,#00ff80 422px,#0ff 444px,#00f 457px,#00f)"></i>
<i style="background:linear-gradient(#ffa800,#ffbf00 41px,#ff0 113px,#bfff00 168px,#80ff00 214px,#0f0 343px,#00ff80 422px,#0ff 444px,#00f 457px,#00f)"></i>
<i style="background:linear-gradient(#ffab00,#ffbf00 37px,#ff0 110px,#bfff00 166px,#80ff00 213px,#0f0 342px,#00ff80 422px,#0ff 444px,#00f 457px,#00f)"></i>
<i style="background:linear-gradient(#ffad00,#ffbf00 33px,#ff0 107px,#bfff00 164px,#80ff00 212px,#0f0 342px,#00ff80 422px,#0ff 444px,#00f 457px,#00f)"></i>
<i style="background:linear-gradient(#ffaf00,#ffdf00 70px,#ff0 104px,#bfff00 162px,#80ff00 211px,#0f0 342px,#00ff80 422px,#0ff 444px,#00f 457px,#00f)"></i>
<i style="background:linear-gradient(#ffb100,#ffdf00 66px,#ff0 101px,#bfff00 160px,#80ff00 209px,#0f0 342px,#00ff80 422px,#0ff 444px,#00f 457px,#00f)"></i>
<i style="background:linear-gradient(#ffb300,#ffdf00 63px,#ff0 97px,#bfff00 157px,#80ff00 208px,#0f0 341px,#00ff80 422px,#0ff 444px,#00f 457px,#00f)"></i>
<i style="background:linear-gradient(#ffb500,#ffdf00 59px,#ff0 94px,#bfff00 155px,#80ff00 207px,#0f0 341px,#00ff80 422px,#0ff 444px,#00f 457px,#00f)"></i>
<i style="background:linear-gradient(#ffb800,#ffdf00 56px,#ff0 91px,#bfff00 153px,#80ff00 206px,#0f0 341px,#00ff80 422px,#0ff 444px,#00f 457px,#00f)"></i>
<i style="background:linear-gradient(#ffba00,#ff0 87px,#bfff00 150px,#80ff00 205px,#0f0 341px,#00ff80 422px,#0ff 444px,#00f 457px,#00f)"></i>
<i style="background:linear-gradient(#ffbc00,#ff0 84px,#bfff00 148px,#80ff00 204px,#0f0 341px,#00ff80 422px,#0ff 444px,#00f 457px,#00f)"></i>
<i style="background:linear-gradient(#ffbe00,#ff0 81px,#80ff00 202px,#0f0 341px,#00ff80 422px,#0ff 444px,#00f 457px,#00f)"></i>
<i style="background:linear-gradient(#ffc100,#ff0 77px,#80ff00 201px,#0f0 341px,#00ff80 422px,#0ff 444px,#00f 457px,#00f)"></i>
<i style="background:linear-gradient(#ffc300,#ff0 74px,#80ff00 200px,#0f0 341px,#00ff80 422px,#0ff 444px,#00f 457px,#00f)"></i>
<i style="background:linear-gradient(#ffc600,#ff0 70px,#80ff00 199px,#0f0 341px,#00ff80 422px,#0ff 444px,#00f 457px,#00f)"></i>
<i style="background:linear-gradient(#ffc900,#ff0 67px,#80ff00 197px,#0f0 341px,#00ff80 422px,#0ff 444px,#00f 457px,#00f)"></i>
<i style="background:linear-gradient(#fc0,#ff0 64px,#80ff00 196px,#0f0 341px,#00ff80 422px,#0ff 444px,#00f 457px,#00f)"></i>
<i style="background:linear-gradient(#ffce00,#ff0 60px,#80ff00 194px,#0f0 341px,#00ff80 422px,#0ff 444px,#00f 457px,#00f)"></i>
<i style="background:linear-gradient(#ffd100,#ff0 57px,#80ff00 193px,#0f0 341px,#00ff80 422px,#0ff 444px,#00f 457px,#00f)"></i>
<i style="background:linear-gradient(#ffd400,#ff0 53px,#80ff00 192px,#0f0 341px,#00ff80 422px,#0ff 444px,#00f 457px,#00f)"></i>
<i style="background:linear-gradient(#ffd700,#ff0 50px,#80ff00 190px,#0f0 341px,#00ff80 422px,#0ff 444px,#00f 457px,#00f)"></i>
<i style="background:linear-gradient(#ffda00,#ff0 46px,#80ff00 189px,#0f0 341px,#00ff80 422px,#0ff 444px,#00f 457px,#00f)"></i>
<i style="background:linear-gradient(#ffdc00,#ff0 43px,#0f0 341px,#00ff80 422px,#0ff 444px,#00f 457px,#00f)"></i>
<i style="background:linear-gradient(#ffdf00,#ff0 40px,#0f0 341px,#00ff80 422px,#0ff 444px,#00f 457px,#00f)"></i>
<i style="background:linear-gradient(#ffe200,#ff0 36px,#bfff00 105px,#0f0 341px,#00ff80 422px,#0ff 444px,#00f 457px,#00f)"></i>
<i style="background:linear-gradient(#ffe500,#ff0 33px,#bfff00 102px,#0f0 341px,#00ff80 422px,#0ff 444px,#00f 457px,#00f)"></i>
<i style="background:linear-gradient(#ffe800,#ff0 29px,#bfff00 98px,#0f0 341px,#00ff80 422px,#0ff 444px,#00f 457px,#00f)"></i>
<i style="background:linear-gradient(#ffeb00,#ff0 26px,#bfff00 95px,#0f0 341px,#00ff80 422px,#0ff 444px,#00f 457px,#00f)"></i>
<i style="background:linear-gradient(#fe0,#ff0 22px,#bfff00 92px,#0f0 341px,#00ff80 422px,#0ff 444px,#00f 457px,#00f)"></i>
<i style="background:linear-gradient(#fff000,#ff0 19px,#bfff00 89px,#0f0 341px,#00ff80 422px,#0ff 444px,#00f 457px,#00f)"></i>
<i style="background:linear-gradient(#fff300,#ff0 15px,#bfff00 86px,#0f0 341px,#00ff80 422px,#0ff 444px,#00f 457px,#00f)"></i>
<i style="background:linear-gradient(#fff600,#ff0 12px,#bfff00 82px,#80ff00 174px,#0f0 341px,#00ff80 422px,#0ff 444px,#00f 457px,#00f)"></i>
<i style="background:linear-gradient(#fff900,#ff0 8px,#bfff00 79px,#80ff00 173px,#0f0 341px,#00ff80 422px,#0ff 444px,#00f 457px,#00f)"></i>
<i style="background:linear-gradient(#fffc00,#ff0 4px,#bfff00 76px,#80ff00 171px,#0f0 341px,#00ff80 422px,#0ff 444px,#00f 457px,#00f)"></i>
<i style="background:linear-gradient(#ff0,#ff0 1px,#bfff00 73px,#80ff00 170px,#0f0 341px,#00ff80 422px,#0ff 444px,#00f 457px,#00f)"></i>
<i style="background:linear-gradient(#fcff00,#bfff00 69px,#80ff00 169px,#0f0 341px,#00ff80 422px,#0ff 444px,#00f 457px,#00f)"></i>
<i style="background:linear-gradient(#f9ff00,#bfff00 66px,#80ff00 167px,#0f0 341px,#00ff80 422px,#0ff 444px,#00f 457px,#00f)"></i>
<i style="background:linear-gradient(#f6ff00,#bfff00 63px,#80ff00 166px,#0f0 341px,#00ff80 422px,#0ff 444px,#00f 457px,#00f)"></i>
<i style="background:linear-gradient(#f3ff00,#bfff00 60px,#80ff00 164px,#0f0 341px,#00ff80 422px,#0ff 444px,#00f 457px,#00f)"></i>
<i style="background:linear-gradient(#f1ff00,#bfff00 57px,#80ff00 162px,#0f0 341px,#00ff80 422px,#0ff 444px,#00f 457px,#00f)"></i>
<i style="background:linear-gradient(#ef0,#bfff00 53px,#80ff00 161px,#0f0 341px,#00ff80 422px,#0ff 444px,#00f 457px,#00f)"></i>
<i style="background:linear-gradient(#ebff00,#bfff00 50px,#80ff00 159px,#0f0 341px,#00ff80 422px,#0ff 444px,#00f 457px,#00f)"></i>
<i style="background:linear-gradient(#e8ff00,#bfff00 47px,#80ff00 158px,#0f0 341px,#00ff80 422px,#0ff 444px,#00f 457px,#00f)"></i>
<i style="background:linear-gradient(#e5ff00,#bfff00 44px,#80ff00 156px,#0f0 341px,#00ff80 422px,#0ff 444px,#00f 457px,#00f)"></i>
<i style="background:linear-gradient(#e2ff00,#bfff00 41px,#80ff00 154px,#0f0 341px,#00ff80 422px,#0ff 444px,#00f 457px,#00f)"></i>
<i style="background:linear-gradient(#dfff00,#bfff00 37px,#80ff00 153px,#0f0 341px,#00ff80 422px,#0ff 444px,#00f 457px,#00f)"></i>
<i style="background:linear-gradient(#dcff00,#bfff00 34px,#80ff00 151px,#0f0 341px,#00ff80 422px,#0ff 444px,#00f 457px,#00f)"></i>
<i style="background:linear-gradient(#d9ff00,#bfff00 31px,#80ff00 149px,#0f0 341px,#00ff80 422px,#0ff 444px,#00f 457px,#00f)"></i>
<i style="background:linear-gradient(#d7ff00,#bfff00 28px,#80ff00 147px,#0f0 341px,#00ff80 422px,#0ff 444px,#00f 457px,#00f)"></i>
<i style="background:linear-gradient(#d4ff00,#bfff00 25px,#80ff00 146px,#0f0 341px,#00ff80 422px,#0ff 444px,#00f 457px,#00f)"></i>
<i style="background:linear-gradient(#d2ff00,#bfff00 22px,#80ff00 144px,#0f0 341px,#00ff80 422px,#0ff 444px,#00f 457px,#00f)"></i>
<i style="background:linear-gradient(#d0ff00,#bfff00 20px,#80ff00 143px,#0f0 341px,#00ff80 422px,#0ff 444px,#00f 457px,#00f)"></i>
</div>
<div class="p" style="top:1079.0px">
<i class="w" style="background:linear-gradient(#f00,#f00 268px,#ff4000 319px,#ff8000 347px,#ff0 371px,#0f0 405px,#0ff 433px,#0080ff 447px,#0016ff)"></i>
<i class="w" style="background:linear-gradient(#f00,#f00 268px,#ff4000 319px,#ff8000 347px,#ff0 371px,#0f0 405px,#0ff 433px,#0080ff 447px,#0016ff)"></i>
<i class="w" style="background:linear-gradient(#f00,#f00 268px,#ff4000 319px,#ff8000 347px,#ff0 371px,#0f0 405px,#0ff 433px,#0080ff 447px,#0016ff)"></i>
<i class="w" style="background:linear-gradient(#f00,#f00 268px,#ff4000 319px,#ff8000 347px,#ff0 370px,#0f0 405px,#0ff 433px,#0080ff 447px,#0016ff)"></i>
<i class="w" style="background:linear-gradient(#f00,#f00 268px,#ff4000 319px,#ff8000 347px,#ff0 370px,#0f0 404px,#0ff 433px,#0080ff 447px,#0016ff)"></i>
<i class="w" style="background:linear-gradient(#f00,#f00 268px,#ff4000 318px,#ff8000 347px,#ff0 370px,#0f0 404px,#0ff 433px,#0080ff 447px,#0016ff)"></i>
<i class="w" style="background:linear-gradient(#f00,#f00 267px,#ff4000 318px,#ff8000 347px,#ff0 370px,#0f0 404px,#0ff 433px,#0080ff 447px,#0016ff)"></i>
<i class="w" style="background:linear-gradient(#f00,#f00 267px,#ff4000 318px,#ff8000 347px,#ff0 370px,#0f0 404px,#0ff 433px,#0080ff 447px,#0016ff)"></i>
<i class="w" style="background:linear-gradient(#f00,#f00 267px,#ff4000 318px,#ff8000 346px,#ff0 370px,#0f0 404px,#0ff 433px,#0080ff 447px,#0016ff)"></i>
<i class="w" style="background:linear-gradient(#f00,#f00 267px,#ff4000 318px,#ff8000 346px,#ff0 370px,#0f0 404px,#0ff 433px,#0080ff 447px,#0016ff)"></i>
<i class="w" style="background:linear-gradient(#f00,#f00 267px,#ff4000 318px,#ff8000 346px,#ff0 369px,#0f0 404px,#0ff 433px,#0080ff 447px,#0016ff)"></i>
<i class="w" style="background:linear-gradient(#f00,#f00 266px,#ff4000 317px,#ff8000 346px,#ff0 369px,#0f0 404px,#0ff 433px,#0080ff 447px,#0016ff)"></i>
<i class="w" style="background:linear-gradient(#f00,#f00 266px,#ff4000 317px,#ff8000 346px,#ff0 369px,#0f0 404px,#0ff 433px,#0080ff 447px,#0016ff)"></i>
<i class="w" style="background:linear-gradient(#f00,#f00 266px,#ff4000 317px,#ff8000 345px,#ff0 369px,#0f0 404px,#0ff 433px,#0080ff 447px,#0016ff)"></i>
<i class="w" style="background:linear-gradient(#f00,#f00 265px,#ff4000 316px,#ff8000 345px,#ff0 368px,#0f0 404px,#0ff 433px,#0080ff 447px,#0016ff)"></i>
<i class="w" style="background:linear-gradient(#f00,#f00 265px,#ff4000 316px,#ff8000 345px,#ff0 368px,#0f0 404px,#0ff 433px,#0080ff 447px,#0016ff)"></i>
<i class="w" style="background:linear-gradient(#f00,#f00 265px,#ff4000 316px,#ff8000 344px,#ff0 368px,#0f0 404px,#0ff 433px,#0080ff 447px,#0016ff)"></i>
<i class="w" style="background:linear-gradient(#f00,#f00 264px,#ff4000 315px,#ff8000 344px,#ff0 368px,#0f0 404px,#0ff 433px,#0080ff 447px,#0016ff)"></i>
<i class="w" style="background:linear-gradient(#f00,#f00 264px,#ff4000 315px,#ff8000 344px,#ff0 367px,#0f0 404px,#0ff 433px,#0080ff 447px,#0016ff)"></i>
<i class="w" style="background:linear-gradient(#f00,#f00 263px,#ff4000 315px,#ff8000 343px,#ff0 367px,#0f0 403px,#0ff 433px,#0080ff 447px,#0016ff)"></i>
<i class="w" style="background:linear-gradient(#f00,#f00 263px,#ff4000 314px,#ff8000 343px,#ff0 367px,#0f0 403px,#0ff 433px,#0080ff 447px,#0016ff)"></i>
<i class="w" style="background:linear-gradient(#f00,#f00 262px,#ff4000 314px,#ff8000 343px,#ff0 367px,#0f0 403px,#0ff 433px,#0080ff 447px,#0016ff)"></i>
<i class="w" style="background:linear-gradient(#f00,#f00 262px,#ff4000 313px,#ff8000 342px,#ff0 366px,#0f0 403px,#0ff 433px,#0080ff 447px,#0016ff)"></i>
<i class="w" style="background:linear-gradient(#f00,#f00 261px,#ff4000 313px,#ff8000 342px,#ff0 366px,#0f0 403px,#0ff 433px,#0080ff 447px,#0016ff)"></i>
<i class="w" style="background:linear-gradient(#f00,#f00 261px,#ff4000 313px,#ff8000 342px,#ff0 366px,#0f0 403px,#0ff 433px,#0080ff 447px,#0016ff)"></i>
<i class="w" style="background:linear-gradient(#f00,#f00 260px,#ff4000 312px,#ff8000 341px,#ff0 365px,#0f0 403px,#0ff 433px,#0080ff 447px,#0016ff)"></i>
<i class="w" style="background:linear-gradient(#f00,#f00 259px,#ff4000 312px,#ff8000 341px,#ff0 365px,#0f0 403px,#0ff 433px,#0080ff 447px,#0016ff)"></i>
<i class="w" style="background:linear-gradient(#f00,#f00 259px,#ff4000 311px,#ff8000 341px,#ff0 365px,#0f0 403px,#0ff 433px,#0080ff 447px,#0016ff)"></i>
<i class="w" style="background:linear-gradient(#f00,#f00 258px,#ff4000 311px,#ff8000 340px,#ff0 364px,#0f0 403px,#0ff 433px,#0080ff 447px,#0016ff)"></i>
<i class="w" style="background:linear-gradient(#f00,#f00 258px,#ff4000 310px,#ff8000 340px,#ff0 364px,#0f0 402px,#0ff 433px,#0080ff 447px,#0016ff)"></i>
<i class="w" style="background:linear-gradient(#f00,#f00 257px,#ff4000 310px,#ff8000 339px,#ff0 364px,#0f0 402px,#0ff 433px,#0080ff 447px,#0016ff)"></i>
<i class="w" style="background:linear-gradient(#f00,#f00 256px,#ff4000 309px,#ff8000 339px,#ff0 363px,#0f0 402px,#0ff 433px,#0080ff 447px,#0016ff)"></i>
<i class="w" style="background:linear-gradient(#f00,#f00 256px,#ff4000 309px,#ff8000 339px,#ff0 363px,#0f0 402px,#0ff 433px,#0080ff 447px,#0016ff)"></i>
<i class="w" style="background:linear-gradient(#f00,#f00 255px,#ff4000 308px,#ff8000 338px,#ff0 363px,#0f0 402px,#0ff 433px,#0080ff 447px,#0016ff)"></i>
<i class="w" style="background:linear-gradient(#f00,#f00 254px,#ff4000 307px,#ff8000 338px,#ff0 362px,#0f0 402px,#0ff 433px,#0080ff 447px,#0016ff)"></i>
<i class="w" style="background:linear-gradient(#f00,#f00 253px,#ff4000 307px,#ff8000 337px,#ff0 362px,#0f0 402px,#0ff 433px,#0080ff 447px,#0016ff)"></i>
<i class="w" style="background:linear-gradient(#f00,#f00 251px,#ff4000 306px,#ff8000 337px,#ff0 362px,#0f0 401px,#0ff 433px,#0080ff 447px,#0016ff)"></i>
<i class="w" style="background:linear-gradient(#f00,#f00 250px,#ff4000 305px,#ff8000 336px,#ff0 361px,#0f0 401px,#0ff 433px,#0080ff 447px,#0016ff)"></i>
<i class="w" style="background:linear-gradient(#f00,#f00 249px,#ff4000 304px,#ff8000 336px,#ff0 361px,#0f0 401px,#0ff 433px,#0080ff 447px,#0016ff)"></i>
<i class="w" style="background:linear-gradient(#f00,#f00 247px,#ff4000 303px,#ff8000 335px,#ff0 360px,#0f0 401px,#0ff 433px,#0080ff 447px,#0016ff)"></i>
<i class="w" style="background:linear-gradient(#f00,#f00 245px,#ff4000 302px,#ff8000 334px,#ff0 360px,#0f0 401px,#0ff 432px,#0080ff 447px,#0016ff)"></i>
<i class="w" style="background:linear-gradient(#f00,#f00 243px,#ff4000 300px,#ff8000 334px,#ff0 360px,#0f0 400px,#0ff 432px,#0080ff 446px,#0015ff)"></i>
<i class="w" style="background:linear-gradient(#f00,#f00 241px,#ff4000 299px,#ff8000 333px,#ff0 359px,#0f0 400px,#0ff 432px,#0080ff 446px,#0015ff)"></i>
<i class="w" style="background:linear-gradient(#f00,#f00 239px,#ff4000 298px,#ff8000 332px,#ff0 358px,#0f0 400px,#0ff 432px,#0080ff 446px,#0015ff)"></i>
<i class="w" style="background:linear-gradient(#f00,#f00 237px,#ff4000 296px,#ff8000 332px,#ff0 358px,#0f0 400px,#0ff 431px,#0080ff 446px,#0015ff)"></i>
<i class="w" style="background:linear-gradient(#f00,#f00 234px,#ff4000 295px,#ff8000 331px,#ff0 357px,#0f0 399px,#0ff 431px,#0080ff 446px,#0015ff)"></i>
<i class="w" style="background:linear-gradient(#f00,#f00 232px,#ff4000 294px,#ff8000 330px,#ff0 357px,#0f0 399px,#0ff 431px,#0080ff 446px,#0014ff)"></i>
<i class="w" style="background:linear-gradient(#f00,#f00 230px,#ff4000 292px,#ff8000 329px,#ff0 356px,#0f0 399px,#0ff 431px,#0080ff 446px,#0014ff)"></i>
<i class="w" style="background:linear-gradient(#f00,#f00 227px,#ff4000 291px,#ff8000 328px,#ff0 355px,#0f0 398px,#0ff 430px,#0080ff 445px,#0014ff)"></i>
<i class="w" style="background:linear-gradient(#f00,#f00 225px,#ff4000 289px,#ff8000 327px,#ff0 355px,#0f0 398px,#0ff 430px,#0080ff 445px,#0014ff)"></i>
<i class="w" style="background:linear-gradient(#f00,#f00 222px,#ff4000 287px,#ff8000 327px,#ff0 354px,#0f0 398px,#0ff 430px,#0080ff 445px,#0012ff)"></i>
<i class="w" style="background:linear-gradient(#f00,#f00 219px,#ff4000 286px,#ff8000 326px,#ff0 353px,#0f0 397px,#0ff 429px,#0080ff 445px,#000fff)"></i>
<i class="w" style="background:linear-gradient(#f00,#f00 216px,#ff4000 284px,#ff8000 325px,#ff0 353px,#0f0 397px,#0ff 429px,#0080ff 444px,#000bff)"></i>
<i class="w" style="background:linear-gradient(#f00,#f00 213px,#ff4000 282px,#ff8000 324px,#ff0 352px,#0f0 396px,#0ff 429px,#0080ff 444px,#0006ff)"></i>
<i class="w" style="background:linear-gradient(#f00,#f00 210px,#ff4000 280px,#ff8000 322px,#ff0 351px,#0f0 396px,#0ff 428px,#00f 459px,#0001ff)"></i>
<i class="w" style="background:linear-gradient(#f00,#f00 206px,#ff4000 278px,#ff8000 321px,#ff0 350px,#0f0 395px,#0ff 428px,#00f 458px,#00f)"></i>
<i class="w" style="background:linear-gradient(#f00,#f00 203px,#ff4000 276px,#ff8000 320px,#ff0 349px,#0f0 394px,#0ff 427px,#00f 457px,#00f)"></i>
<i class="w" style="background:linear-gradient(#f00,#f00 199px,#ff4000 273px,#ff8000 319px,#ff0 348px,#0f0 394px,#0ff 427px,#00f 456px,#00f)"></i>
<i class="w" style="background:linear-gradient(#f00,#f00 195px,#ff4000 271px,#ff8000 317px,#ff0 346px,#0f0 393px,#0ff 426px,#0080ff 441px,#00f 455px,#00f)"></i>
<i class="w" style="background:linear-gradient(#f00,#f00 190px,#ff4000 268px,#ff8000 316px,#ff0 345px,#0f0 392px,#0ff 426px,#0080ff 441px,#00f 454px,#00f)"></i>
<i class="w" style="background:linear-gradient(#f00,#f00 186px,#ff4000 266px,#ff8000 314px,#ff0 344px,#0f0 391px,#0ff 425px,#0080ff 440px,#00f 453px,#00f)"></i>
<i class="m" style="background:linear-gradient(#f00,#f00 181px,#ff4000 264px,#ff8000 313px,#ff0 343px,#0f0 390px,#0ff 425px,#0080ff 440px,#00f 452px,#00f)"></i>
<i class="m" style="background:linear-gradient(#f00,#f00 178px,#ff4000 262px,#ff8000 312px,#ff0 342px,#0f0 390px,#0ff 424px,#0080ff 439px,#00f 451px,#00f)"></i>
<i class="m" style="background:linear-gradient(#f00,#f00 174px,#ff4000 260px,#ff8000 311px,#ff0 341px,#0f0 389px,#0ff 424px,#0080ff 439px,#00f 451px,#00f)"></i>
<i class="m" style="background:linear-gradient(#f00,#f00 169px,#ff4000 258px,#ff8000 309px,#ff0 340px,#0f0 388px,#0ff 423px,#0080ff 438px,#00f 450px,#00f)"></i>
<i class="m" style="background:linear-gradient(#f00,#f00 164px,#ff4000 257px,#ff8000 308px,#ff0 339px,#0f0 388px,#0ff 423px,#0080ff 438px,#00f 450px,#00f)"></i>
<i class="m" style="background:linear-gradient(#f00,#f00 158px,#ff4000 255px,#ff8000 307px,#ff0 338px,#0f0 387px,#0ff 422px,#0080ff 437px,#00f 449px,#00f)"></i>
<i class="m" style="background:linear-gradient(#f00,#f00 152px,#ff4000 253px,#ff8000 306px,#ff0 337px,#0f0 386px,#0ff 422px,#0080ff 437px,#00f 449px,#00f)"></i>
<i class="m" style="background:linear-gradient(#f00,#f00 145px,#ff4000 251px,#ff8000 304px,#ff0 335px,#0f0 385px,#0ff 421px,#0080ff 437px,#00f 449px,#00f)"></i>
<i class="m" style="background:linear-gradient(#f00,#f00 137px,#ff2000 201px,#ff4000 249px,#ff8000 303px,#ff0 334px,#0f0 384px,#0ff 421px,#0080ff 436px,#00f 449px,#00f)"></i>
<i style="background:linear-gradient(#f00,#f00 131px,#ff2000 198px,#ff4000 247px,#ff8000 301px,#ff0 333px,#0f0 383px,#0ff 420px,#0080ff 436px,#00f 449px,#00f)"></i>
<i style="background:linear-gradient(#f00,#f00 127px,#ff2000 196px,#ff4000 246px,#ff8000 300px,#ff0 332px,#0f0 383px,#0ff 420px,#0080ff 436px,#00f 449px,#00f)"></i>
<i style="background:linear-gradient(#f00,#f00 122px,#ff2000 194px,#ff4000 245px,#ff8000 299px,#ff0 332px,#0f0 382px,#0ff 419px,#0080ff 435px,#00f 449px,#00f)"></i>
<i style="background:linear-gradient(#f00,#f00 117px,#ff2000 192px,#ff4000 244px,#ff8000 298px,#ff0 331px,#0f0 381px,#0ff 419px,#0080ff 435px,#00f 449px,#00f)"></i>
<i style="background:linear-gradient(#f00,#f00 113px,#ff2000 190px,#ff4000 243px,#ff8000 297px,#ff0 330px,#0f0 381px,#0ff 419px,#0080ff 435px,#00f 449px,#00f)"></i>
<i style="background:linear-gradient(#f00,#f00 108px,#ff2000 188px,#ff4000 242px,#ff8000 296px,#ff0 329px,#0f0 380px,#0ff 418px,#0080ff 434px,#00f 449px,#00f)"></i>
<i style="background:linear-gradient(#f00,#f00 103px,#ff2000 185px,#ff4000 240px,#ff8000 295px,#ff0 328px,#0f0 379px,#0ff 418px,#0080ff 434px,#00f 449px,#00f)"></i>
<i style="background:linear-gradient(#f00,#f00 98px,#ff2000 183px,#ff4000 239px,#ff8000 294px,#ff0 327px,#0f0 378px,#0ff 417px,#00f 450px,#00f)"></i>
<i style="background:linear-gradient(#f00,#f00 93px,#ff2000 181px,#ff4000 238px,#ff8000 293px,#ff0 326px,#0f0 377px,#0ff 417px,#00f 450px,#00f)"></i>
<i style="background:linear-gradient(#f00,#f00 89px,#ff2000 178px,#ff4000 237px,#ff8000 292px,#ff0 325px,#0f0 377px,#0ff 417px,#00f 450px,#00f)"></i>
<i style="background:linear-gradient(#f00,#f00 84px,#ff2000 176px,#ff4000 236px,#ff8000 290px,#ff0 324px,#0f0 376px,#0ff 416px,#00f 450px,#00f)"></i>
<i style="background:linear-gradient(#f00,#f00 79px,#ff2000 174px,#ff4000 234px,#ff8000 289px,#ff0 323px,#0f0 375px,#0ff 416px,#00f 450px,#00f)"></i>
<i style="background:linear-gradient(#f00,#f00 74px,#ff2000 171px,#ff4000 233px,#ff8000 288px,#ff0 322px,#0f0 374px,#0ff 415px,#00f 450px,#00f)"></i>
<i style="background:linear-gradient(#f00,#f00 69px,#ff2000 169px,#ff4000 232px,#ff8000 287px,#ff0 321px,#0f0 373px,#0ff 415px,#00f 450px,#00f)"></i>
<i style="background:linear-gradient(#f00,#f00 64px,#ff2000 167px,#ff4000 230px,#ff8000 286px,#ff0 319px,#0f0 372px,#0ff 414px,#00f 450px,#00f)"></i>
<i style="background:linear-gradient(#f00,#f00 59px,#ff2000 165px,#ff4000 229px,#ff8000 284px,#ff0 318px,#0f0 371px,#0ff 414px,#00f 450px,#00f)"></i>
<i style="background:linear-gradient(#f00,#f00 54px,#ff2000 163px,#ff4000 228px,#ff8000 283px,#ff0 317px,#0f0 370px,#0ff 413px,#00f 450px,#00f)"></i>
<i style="background:linear-gradient(#f00,#f00 49px,#ff2000 161px,#ff4000 226px,#ff8000 282px,#ff0 316px,#0f0 369px,#0ff 413px,#00f 450px,#00f)"></i>
<i style="background:linear-gradient(#f00,#f00 44px,#ff2000 159px,#ff4000 225px,#ff8000 281px,#ff0 315px,#0f0 368px,#0ff 412px,#0080ff 430px,#00f 450px,#00f)"></i>
<i style="background:linear-gradient(#f00,#f00 39px,#ff2000 158px,#ff4000 224px,#ff8000 279px,#ff0 314px,#0f0 367px,#0ff 411px,#0080ff 430px,#00f 450px,#00f)"></i>
<i style="background:linear-gradient(#f00,#f00 34px,#ff2000 156px,#ff4000 222px,#ff8000 278px,#ff0 312px,#0f0 366px,#0ff 411px,#0080ff 430px,#00f 450px,#00f)"></i>
<i style="background:linear-gradient(#f00,#f00 29px,#ff2000 155px,#ff4000 221px,#ff8000 277px,#ff0 311px,#0f0 365px,#0ff 410px,#0080ff 429px,#00f 450px,#00f)"></i>
<i style="background:linear-gradient(#f00,#f00 24px,#ff2000 154px,#ff4000 220px,#ff8000 276px,#ff0 310px,#0f0 364px,#0ff 410px,#0080ff 429px,#00f 450px,#00f)"></i>
<i style="background:linear-gradient(#f00,#ff2000 152px,#ff4000 218px,#ff8000 275px,#ff0 309px,#0f0 363px,#0ff 409px,#0080ff 429px,#00f 450px,#00f)"></i>
<i style="background:linear-gradient(#f00,#ff2000 151px,#ff4000 217px,#ff8000 274px,#ff0 308px,#0f0 362px,#0ff 409px,#0080ff 428px,#00f 450px,#00f)"></i>
<i style="background:linear-gradient(#f00,#ff2000 150px,#ff4000 215px,#ff8000 272px,#ff0 306px,#0f0 361px,#0ff 408px,#0080ff 428px,#00f 450px,#00f)"></i>
<i style="background:linear-gradient(#ff0100,#ff2000 149px,#ff4000 213px,#ff8000 271px,#ff0 305px,#0f0 360px,#0ff 407px,#0080ff 427px,#00f 450px,#00f)"></i>
<i style="background:linear-gradient(#ff0200,#ff2000 147px,#ff4000 211px,#ff8000 270px,#ff0 304px,#0f0 359px,#0ff 406px,#0080ff 427px,#00f 450px,#00f)"></i>
<i style="background:linear-gradient(#ff0300,#ff2000 146px,#ff4000 210px,#ff8000 269px,#ff0 302px,#0f0 357px,#0ff 406px,#0080ff 426px,#00f 450px,#00f)"></i>
<i style="background:linear-gradient(#ff0400,#ff2000 144px,#ff4000 208px,#ff8000 268px,#ff0 301px,#0f0 356px,#0ff 405px,#0080ff 426px,#00f 450px,#00f)"></i>
<i style="background:linear-gradient(#ff0500,#ff2000 142px,#ff4000 206px,#ff8000 266px,#ff0 299px,#0f0 355px,#0ff 404px,#0080ff 425px,#00f 450px,#00f)"></i>
<i style="background:linear-gradient(#ff0600,#ff2000 141px,#ff4000 204px,#ff8000 265px,#ff0 298px,#0f0 354px,#0ff 403px,#0080ff 425px,#00f 450px,#00f)"></i>
<i style="background:linear-gradient(#ff0600,#ff2000 139px,#ff4000 202px,#ff8000 264px,#ff0 297px,#0f0 353px,#0ff 402px,#0080ff 424px,#00f 450px,#00f)"></i>
<i style="background:linear-gradient(#ff0700,#ff2000 137px,#ff4000 200px,#ff8000 263px,#ff0 295px,#0f0 351px,#0ff 401px,#0080ff 424px,#00f 449px,#00f)"></i>
<i style="background:linear-gradient(#ff0800,#ff2000 134px,#ff4000 198px,#ff8000 261px,#ff0 294px,#0f0 350px,#0ff 401px,#0080ff 423px,#00f 449px,#00f)"></i>
<i style="background:linear-gradient(#ff0900,#ff2000 132px,#ff4000 196px,#ff8000 260px,#ff0 292px,#0f0 349px,#0ff 400px,#0080ff 423px,#00f 449px,#00f)"></i>
<i style="background:linear-gradient(#ff0a00,#ff2000 129px,#ff4000 194px,#ff8000 259px,#ff0 291px,#0f0 348px,#0ff 399px,#0080ff 422px,#00f 449px,#00f)"></i>
<i style="background:linear-gradient(#ff0a00,#ff2000 127px,#ff4000 192px,#ff8000 258px,#ff0 289px,#0f0 347px,#0ff 398px,#0080ff 422px,#00f 449px,#00f)"></i>
<i style="background:linear-gradient(#ff0b00,#ff2000 123px,#ff4000 191px,#ff8000 256px,#ff0 288px,#0f0 345px,#0ff 397px,#0080ff 421px,#00f 449px,#00f)"></i>
<i style="background:linear-gradient(#ff0c00,#ff2000 120px,#ff4000 189px,#ff8000 255px,#ff0 286px,#0f0 344px,#0ff 396px,#0080ff 421px,#00f 449px,#00f)"></i>
<i style="background:linear-gradient(#ff0d00,#ff2000 116px,#ff4000 188px,#ff8000 254px,#ff0 285px,#0f0 343px,#0ff 395px,#0080ff 420px,#00f 449px,#00f)"></i>
<i style="background:linear-gradient(#ff0e00,#ff2000 112px,#ff4000 186px,#ff8000 253px,#ff0 283px,#0f0 342px,#0ff 394px,#0080ff 419px,#00f 448px,#00f)"></i>
<i style="background:linear-gradient(#ff0f00,#ff2000 107px,#ff4000 185px,#ff8000 252px,#ff0 282px,#0f0 341px,#0ff 394px,#0080ff 419px,#00f 448px,#00f)"></i>
<i style="background:linear-gradient(#ff0f00,#ff2000 102px,#ff4000 184px,#ff8000 250px,#ff0 280px,#0f0 340px,#0ff 393px,#0080ff 418px,#00f 448px,#00f)"></i>
<i style="background:linear-gradient(#ff1000,#ff2000 97px,#ff4000 183px,#ff8000 249px,#ff0 279px,#0f0 339px,#0ff 392px,#0080ff 418px,#00f 448px,#00f)"></i>
<i style="background:linear-gradient(#f10,#ff2000 92px,#ff4000 182px,#ff8000 248px,#ff0 278px,#0f0 338px,#0ff 391px,#0080ff 417px,#00f 448px,#00f)"></i>
<i style="background:linear-gradient(#ff1200,#ff2000 87px,#ff4000 181px,#ff8000 247px,#ff0 277px,#0f0 337px,#0ff 391px,#0080ff 417px,#00f 448px,#00f)"></i>
<i style="background:linear-gradient(#ff1300,#ff2000 82px,#ff4000 180px,#ff8000 246px,#ff0 275px,#0f0 336px,#0ff 390px,#0080ff 417px,#00f 448px,#00f)"></i>
<i style="background:linear-gradient(#ff1300,#ff2000 77px,#ff4000 180px,#ff8000 244px,#ff0 274px,#0f0 335px,#0ff 389px,#0080ff 416px,#00f 448px,#00f)"></i>
<i style="background:linear-gradient(#ff1400,#ff2000 72px,#ff4000 179px,#ff8000 243px,#ff0 273px,#0f0 335px,#0ff 389px,#0080ff 416px,#00f 447px,#00f)"></i>
<i style="background:linear-gradient(#ff1500,#ff2000 66px,#ff4000 179px,#ff8000 242px,#ff0 272px,#0f0 334px,#0ff 388px,#0080ff 415px,#00f 447px,#00f)"></i>
<i style="background:linear-gradient(#ff1600,#ff2000 61px,#ff4000 178px,#ff8000 241px,#ff0 270px,#0f0 333px,#0ff 387px,#0080ff 415px,#00f 447px,#00f)"></i>
<i style="background:linear-gradient(#ff1700,#ff4000 178px,#ff8000 240px,#ff0 269px,#0f0 332px,#0ff 387px,#0080ff 414px,#00f 447px,#00f)"></i>
<i style="background:linear-gradient(#ff1800,#ff4000 177px,#ff8000 238px,#ff0 268px,#0f0 331px,#0ff 386px,#0080ff 414px,#00f 447px,#00f)"></i>
<i style="background:linear-gradient(#ff1800,#ff4000 176px,#ff6000 211px,#ff8000 237px,#ff0 267px,#0f0 330px,#0ff 385px,#0080ff 413px,#00f 447px,#00f)"></i>
<i style="background:linear-gradient(#ff1900,#ff4000 175px,#ff6000 210px,#ff8000 236px,#ff0 266px,#0f0 330px,#0ff 385px,#0080ff 413px,#00f 447px,#00f)"></i>
<i style="background:linear-gradient(#ff1a00,#ff4000 173px,#ff6000 210px,#ff8000 235px,#ff0 264px,#0f0 329px,#0ff 384px,#0080ff 412px,#00f 447px,#00f)"></i>
<i style="background:linear-gradient(#ff1b00,#ff4000 171px,#ff6000 210px,#ff8000 234px,#ff0 263px,#0f0 328px,#0ff 383px,#0080ff 412px,#00f 446px,#00f)"></i>
<i style="background:linear-gradient(#ff1c00,#ff4000 168px,#ff6000 209px,#ff8000 233px,#ff0 262px,#0f0 327px,#0ff 383px,#0080ff 412px,#00f 446px,#00f)"></i>
<i style="background:linear-gradient(#ff1c00,#ff4000 164px,#ff6000 209px,#ff8000 231px,#ff0 261px,#0f0 327px,#0ff 382px,#0080ff 411px,#00f 446px,#00f)"></i>
<i style="background:linear-gradient(#ff1d00,#ff4000 159px,#ff6000 208px,#ff8000 230px,#ff0 260px,#0f0 326px,#0ff 381px,#0080ff 411px,#00f 446px,#00f)"></i>
<i style="background:linear-gradient(#ff1e00,#ff4000 155px,#ff6000 208px,#ff8000 229px,#ff0 258px,#0f0 325px,#0ff 381px,#0080ff 410px,#00f 446px,#00f)"></i>
<i style="background:linear-gradient(#ff1f00,#ff4000 150px,#ff6000 207px,#ff8000 228px,#ff0 257px,#0f0 324px,#0ff 380px,#0080ff 410px,#00f 446px,#00f)"></i>
<i style="background:linear-gradient(#ff2000,#ff4000 144px,#ff6000 207px,#ff8000 227px,#ff0 256px,#0f0 324px,#0ff 380px,#0080ff 409px,#00f 446px,#00f)"></i>
<i style="background:linear-gradient(#ff2100,#ff4000 139px,#ff6000 206px,#ff8000 226px,#ff0 255px,#0f0 323px,#0ff 379px,#0080ff 409px,#00f 445px,#00f)"></i>
<i style="background:linear-gradient(#f20,#ff4000 134px,#ff6000 205px,#ff8000 224px,#ff0 254px,#0f0 323px,#0ff 379px,#0080ff 409px,#00f 445px,#00f)"></i>
<i style="background:linear-gradient(#ff2300,#ff4000 129px,#ff6000 204px,#ff8000 223px,#ff0 253px,#0f0 322px,#0ff 378px,#0080ff 408px,#00f 445px,#00f)"></i>
<i style="background:linear-gradient(#ff2500,#ff4000 124px,#ff6000 202px,#ff8000 222px,#ff0 253px,#0f0 322px,#0ff 378px,#0080ff 408px,#00f 445px,#00f)"></i>
<i style="background:linear-gradient(#ff2600,#ff4000 118px,#ff6000 199px,#ff8000 221px,#ff0 252px,#0f0 321px,#0ff 377px,#0080ff 408px,#00f 445px,#00f)"></i>
<i style="background:linear-gradient(#ff2700,#ff4000 113px,#ff6000 196px,#ff8000 220px,#ff0 251px,#0f0 321px,#0ff 377px,#0080ff 408px,#00f 445px,#00f)"></i>
<i style="background:linear-gradient(#ff2800,#ff4000 108px,#ff6000 191px,#ff8000 219px,#ff0 250px,#0f0 321px,#0ff 377px,#0080ff 408px,#00f 445px,#00f)"></i>
<i style="background:linear-gradient(#ff2900,#ff4000 103px,#ff6000 186px,#ff8000 218px,#ff0 250px,#0f0 320px,#0ff 377px,#0080ff 407px,#00f 445px,#00f)"></i>
<i style="background:linear-gradient(#ff2a00,#ff4000 98px,#ff6000 181px,#ff8000 216px,#ff0 249px,#0f0 320px,#0ff 377px,#0080ff 407px,#00f 445px,#00f)"></i>
<i style="background:linear-gradient(#ff2b00,#ff4000 92px,#ff6000 175px,#ff8000 215px,#ff0 249px,#0f0 320px,#0ff 377px,#0080ff 407px,#00f 445px,#00f)"></i>
<i style="background:linear-gradient(#ff2c00,#ff4000 87px,#ff6000 170px,#ff8000 214px,#ff0 248px,#0f0 320px,#0ff 377px,#0080ff 407px,#00f 445px,#00f)"></i>
<i style="background:linear-gradient(#ff2e00,#ff4000 82px,#ff6000 165px,#ff8000 213px,#ff0 248px,#0f0 320px,#0ff 377px,#0080ff 408px,#00f 445px,#00f)"></i>
<i style="background:linear-gradient(#ff2f00,#ff4000 77px,#ff6000 160px,#ff8000 212px,#ff0 248px,#0f0 321px,#0ff 377px,#0080ff 408px,#00f 445px,#00f)"></i>
<i style="background:linear-gradient(#ff3000,#ff4000 72px,#ff6000 155px,#ff8000 211px,#ff0 248px,#0f0 321px,#0ff 378px,#0080ff 409px,#00f 446px,#00f)"></i>
<i style="background:linear-gradient(#ff3100,#ff4000 66px,#ff6000 149px,#ff8000 210px,#ff0 248px,#0f0 321px,#0ff 379px,#0080ff 409px,#00f 446px,#00f)"></i>
<i style="background:linear-gradient(#ff3200,#ff4000 61px,#ff6000 144px,#ff8000 208px,#ff0 247px,#0f0 322px,#0ff 380px,#0080ff 410px,#00f 446px,#00f)"></i>
<i style="background:linear-gradient(#f30,#ff4000 56px,#ff8000 207px,#ff0 247px,#0f0 322px,#0ff 381px,#0080ff 411px,#00f 447px,#00f)"></i>
<i style="background:linear-gradient(#ff3400,#ff4000 51px,#ff8000 205px,#ff0 247px,#0f0 323px,#0ff 382px,#0080ff 412px,#00f 447px,#00f)"></i>
<i style="background:linear-gradient(#ff3500,#ff4000 46px,#ff8000 203px,#ff9f00 216px,#ff0 247px,#0f0 324px,#0ff 383px,#0080ff 413px,#00f 447px,#00f)"></i>
<i style="background:linear-gradient(#ff3700,#ff4000 40px,#ff8000 200px,#ff9f00 215px,#ff0 247px,#0f0 325px,#0ff 384px,#0080ff 414px,#00f 448px,#00f)"></i>
<i style="background:linear-gradient(#ff3800,#ff8000 196px,#ff9f00 214px,#ff0 246px,#0f0 326px,#0ff 386px,#0080ff 415px,#00f 448px,#00f)"></i>
<i style="background:linear-gradient(#ff3900,#ff8000 192px,#ff9f00 213px,#ff0 246px,#0f0 326px,#0ff 387px,#0080ff 416px,#00f 449px,#00f)"></i>
<i style="background:linear-gradient(#ff3a00,#ff8000 187px,#ff9f00 211px,#ff0 246px,#0f0 328px,#0ff 389px,#0080ff 418px,#00f 449px,#00f)"></i>
<i style="background:linear-gradient(#ff3b00,#ff8000 182px,#ff9f00 210px,#ff0 246px,#0f0 329px,#0ff 391px,#00f 449px,#00f)"></i>
<i style="background:linear-gradient(#ff3c00,#ff8000 177px,#ff9f00 208px,#ff0 245px,#0f0 330px,#0ff 394px,#00f 449px,#00f)"></i>
<i style="background:linear-gradient(#ff3d00,#ff8000 172px,#ff9f00 206px,#ff0 245px,#0f0 332px,#0ff 397px,#0080ff 424px,#00f 450px,#00f)"></i>
<i style="background:linear-gradient(#ff3f00,#ff8000 167px,#ff9f00 204px,#ff0 244px,#0f0 334px,#0ff 400px,#0080ff 427px,#00f 450px,#00f)"></i>
<i style="background:linear-gradient(#ff4000,#ff8000 162px,#ff9f00 201px,#ff0 244px,#80ff00 291px,#0f0 336px,#0ff 404px,#0080ff 430px,#00f 450px,#00f)"></i>
<i style="background:linear-gradient(#ff4200,#ff8000 156px,#ff9f00 198px,#ff0 243px,#80ff00 293px,#0f0 338px,#0ff 407px,#0080ff 433px,#00f 451px,#00f)"></i>
<i style="background:linear-gradient(#f40,#ff8000 151px,#ff9f00 196px,#ff0 242px,#80ff00 294px,#0f0 340px,#0ff 411px,#0080ff 435px,#00f 451px,#00f)"></i>
<i style="background:linear-gradient(#ff4600,#ff8000 146px,#ff9f00 193px,#ff0 242px,#80ff00 295px,#0f0 342px,#0ff 415px,#0080ff 437px,#00f 451px,#00f)"></i>
<i style="background:linear-gradient(#ff4800,#ff8000 141px,#ff9f00 190px,#ff0 241px,#80ff00 296px,#0f0 344px,#0ff 418px,#0080ff 439px,#00f 452px,#00f)"></i>
<i style="background:linear-gradient(#ff4a00,#ff8000 136px,#ff9f00 187px,#ff0 240px,#80ff00 296px,#0f0 346px,#0ff 421px,#0080ff 441px,#00f 452px,#00f)"></i>
<i style="background:linear-gradient(#ff4c00,#ff8000 131px,#ff9f00 184px,#ff0 239px,#80ff00 296px,#0f0 348px,#00ff80 387px,#0ff 424px,#0080ff 442px,#00f 452px,#00f)"></i>
<i style="background:linear-gradient(#ff4e00,#ff8000 126px,#ff9f00 181px,#ff0 238px,#80ff00 296px,#0f0 349px,#00ff80 390px,#0ff 426px,#0080ff 443px,#00f 452px,#00f)"></i>
<i style="background:linear-gradient(#ff5000,#ff8000 120px,#ff9f00 178px,#ff0 237px,#0f0 351px,#00ff80 393px,#0ff 428px,#0080ff 444px,#00f 453px,#00f)"></i>
<i style="background:linear-gradient(#ff5200,#ff8000 115px,#ff9f00 175px,#ffbf00 199px,#ff0 237px,#0f0 352px,#00ff80 396px,#0ff 430px,#0080ff 445px,#00f 453px,#00f)"></i>
<i style="background:linear-gradient(#ff5400,#ff8000 110px,#ff9f00 171px,#ffbf00 198px,#ff0 236px,#0f0 354px,#00ff80 399px,#0ff 431px,#0080ff 445px,#00f 453px,#00f)"></i>
<i style="background:linear-gradient(#ff5600,#ff8000 105px,#ff9f00 167px,#ffbf00 196px,#ff0 235px,#0f0 355px,#00ff80 402px,#0ff 433px,#0080ff 446px,#00f 453px,#00f)"></i>
<i style="background:linear-gradient(#ff5800,#ff8000 100px,#ff9f00 163px,#ffbf00 195px,#ff0 233px,#80ff00 292px,#0f0 356px,#00ff80 405px,#0ff 434px,#0080ff 446px,#00f 453px,#00f)"></i>
<i style="background:linear-gradient(#ff5a00,#ff9f00 159px,#ffbf00 193px,#ff0 232px,#80ff00 291px,#0f0 357px,#00ff80 408px,#0ff 435px,#0080ff 446px,#00f 454px,#00f)"></i>
<i style="background:linear-gradient(#ff5c00,#ff9f00 155px,#ffbf00 191px,#ff0 231px,#80ff00 290px,#0f0 358px,#00ff80 410px,#0ff 436px,#0080ff 447px,#00f 454px,#00f)"></i>
<i style="background:linear-gradient(#ff5e00,#ff9f00 151px,#ffbf00 189px,#ff0 230px,#80ff00 289px,#0f0 359px,#00ff80 413px,#0ff 437px,#0080ff 447px,#00f 454px,#00f)"></i>
<i style="background:linear-gradient(#ff6000,#ff9f00 146px,#ffbf00 187px,#ff0 229px,#80ff00 288px,#0f0 360px,#00ff80 415px,#0ff 438px,#0080ff 447px,#00f 454px,#00f)"></i>
<i style="background:linear-gradient(#ff6200,#ff9f00 142px,#ffbf00 185px,#ff0 227px,#80ff00 286px,#0f0 360px,#00ff80 417px,#0ff 439px,#0080ff 448px,#00f 454px,#00f)"></i>
<i style="background:linear-gradient(#ff6400,#ff9f00 137px,#ffbf00 182px,#ff0 226px,#80ff00 285px,#0f0 361px,#00ff80 418px,#0ff 440px,#0080ff 448px,#00f 454px,#00f)"></i>
<i style="background:linear-gradient(#ff6700,#ff9f00 133px,#ffbf00 179px,#ff0 224px,#80ff00 284px,#0f0 361px,#00ff80 419px,#0ff 440px,#0080ff 448px,#00f 455px,#00f)"></i>
<i style="background:linear-gradient(#ff6900,#ff9f00 128px,#ffbf00 176px,#ff0 222px,#80ff00 283px,#0f0 360px,#00ff80 420px,#0ff 441px,#0080ff 448px,#00f 455px,#00f)"></i>
<i style="background:linear-gradient(#ff6b00,#ff9f00 124px,#ffbf00 173px,#ff0 220px,#80ff00 282px,#0f0 360px,#00ff80 420px,#0ff 441px,#0080ff 448px,#00f 455px,#00f)"></i>
<i style="background:linear-gradient(#ff6d00,#ff9f00 119px,#ffbf00 169px,#ff0 218px,#80ff00 281px,#0f0 360px,#00ff80 421px,#0ff 441px,#0080ff 449px,#00f 455px,#00f)"></i>
<i style="background:linear-gradient(#ff6f00,#ff9f00 115px,#ffbf00 165px,#ff0 216px,#80ff00 280px,#0f0 359px,#00ff80 421px,#0ff 441px,#0080ff 449px,#00f 455px,#00f)"></i>
<i style="background:linear-gradient(#ff7100,#ff9f00 110px,#ffbf00 162px,#ff0 213px,#80ff00 279px,#0f0 358px,#00ff80 421px,#0ff 442px,#0080ff 449px,#00f 455px,#00f)"></i>
<i style="background:linear-gradient(#ff7300,#ff9f00 106px,#ffbf00 158px,#ff0 211px,#80ff00 278px,#0f0 358px,#00ff80 422px,#0ff 442px,#0080ff 449px,#00f 455px,#00f)"></i>
<i style="background:linear-gradient(#ff7500,#ff9f00 101px,#ffbf00 154px,#ff0 208px,#80ff00 278px,#0f0 357px,#00ff80 422px,#0ff 442px,#0080ff 449px,#00f 455px,#00f)"></i>
<i style="background:linear-gradient(#f70,#ff9f00 97px,#ffbf00 150px,#ff0 206px,#80ff00 277px,#0f0 356px,#00ff80 422px,#0ff 442px,#0080ff 449px,#00f 455px,#00f)"></i>
<i style="background:linear-gradient(#ff7900,#ff9f00 92px,#ffbf00 146px,#ff0 203px,#80ff00 275px,#0f0 356px,#00ff80 422px,#0ff 442px,#0080ff 449px,#00f 455px,#00f)"></i>
<i style="background:linear-gradient(#ff7b00,#ff9f00 88px,#ffbf00 142px,#ff0 200px,#80ff00 274px,#0f0 355px,#00ff80 422px,#0ff 442px,#0080ff 450px,#00f 455px,#00f)"></i>
<i style="background:linear-gradient(#ff7d00,#ff9f00 83px,#ffbf00 138px,#ff0 197px,#80ff00 273px,#0f0 354px,#00ff80 422px,#0ff 443px,#0080ff 450px,#00f 456px,#00f)"></i>
<i style="background:linear-gradient(#ff7f00,#ff9f00 79px,#ffbf00 134px,#ff0 194px,#0f0 354px,#00ff80 422px,#0ff 443px,#0080ff 450px,#00f 456px,#00f)"></i>
<i style="background:linear-gradient(#ff8100,#ff9f00 74px,#ffbf00 130px,#ff0 191px,#0f0 353px,#00ff80 422px,#0ff 443px,#0080ff 450px,#00f 456px,#00f)"></i>
<i style="background:linear-gradient(#ff8300,#ff9f00 70px,#ffbf00 126px,#ff0 188px,#0f0 353px,#00ff80 422px,#0ff 443px,#0080ff 450px,#00f 456px,#00f)"></i>
<i style="background:linear-gradient(#ff8500,#ff9f00 65px,#ffbf00 122px,#ff0 185px,#0f0 352px,#00ff80 422px,#0ff 443px,#0080ff 450px,#00f 456px,#00f)"></i>
<i style="background:linear-gradient(#ff8700,#ff9f00 61px,#ffbf00 118px,#ff0 182px,#0f0 352px,#00ff80 422px,#0ff 443px,#0080ff 450px,#00f 456px,#00f)"></i>
<i style="background:linear-gradient(#f80,#ffbf00 114px,#ff0 179px,#0f0 351px,#00ff80 422px,#0ff 443px,#0080ff 450px,#00f 456px,#00f)"></i>
<i style="background:linear-gradient(#ff8a00,#ffbf00 110px,#ff0 176px,#0f0 351px,#00ff80 422px,#0ff 444px,#0080ff 450px,#00f 456px,#00f)"></i>
<i style="background:linear-gradient(#ff8c00,#ffbf00 106px,#ff0 173px,#0f0 351px,#00ff80 422px,#0ff 444px,#0080ff 450px,#00f 457px,#00f)"></i>
<i style="background:linear-gradient(#ff8e00,#ffbf00 102px,#ff0 170px,#0f0 350px,#00ff80 422px,#0ff 444px,#00f 457px,#00f)"></i>
<i style="background:linear-gradient(#ff9000,#ffbf00 98px,#ff0 167px,#80ff00 255px,#0f0 350px,#00ff80 422px,#0ff 444px,#00f 457px,#00f)"></i>
<i style="background:linear-gradient(#ff9200,#ffbf00 95px,#ff0 163px,#80ff00 253px,#0f0 349px,#00ff80 422px,#0ff 444px,#00f 457px,#00f)"></i>
<i style="background:linear-gradient(#ff9400,#ffbf00 91px,#ff0 160px,#80ff00 251px,#0f0 349px,#00ff80 422px,#0ff 444px,#00f 457px,#00f)"></i>
<i style="background:linear-gradient(#ff9500,#ffbf00 87px,#ff0 157px,#80ff00 249px,#0f0 349px,#00ff80 422px,#0ff 444px,#00f 457px,#00f)"></i>
<i style="background:linear-gradient(#ff9700,#ffbf00 83px,#ff0 154px,#80ff00 247px,#0f0 348px,#00ff80 422px,#0ff 444px,#00f 457px,#00f)"></i>
<i style="background:linear-gradient(#f90,#ffbf00 79px,#ff0 151px,#80ff00 244px,#0f0 348px,#00ff80 422px,#0ff 444px,#00f 457px,#00f)"></i>
<i style="background:linear-gradient(#ff9b00,#ffbf00 75px,#ff0 148px,#80ff00 242px,#0f0 347px,#00ff80 422px,#0ff 444px,#00f 457px,#00f)"></i>
<i style="background:linear-gradient(#ff9d00,#ffbf00 71px,#ff0 145px,#80ff00 240px,#0f0 347px,#00ff80 422px,#0ff 444px,#00f 457px,#00f)"></i>
<i style="background:linear-gradient(#ff9f00,#ffbf00 67px,#ff0 142px,#80ff00 238px,#0f0 346px,#00ff80 422px,#0ff 444px,#00f 457px,#00f)"></i>
<i style="background:linear-gradient(#ffa100,#ffbf00 63px,#ff0 138px,#80ff00 236px,#0f0 346px,#00ff80 422px,#0ff 444px,#00f 457px,#00f)"></i>
<i style="background:linear-gradient(#ffa300,#ffbf00 59px,#ff0 135px,#80ff00 234px,#0f0 346px,#00ff80 422px,#0ff 444px,#00f 457px,#00f)"></i>
<i style="background:linear-gradient(#ffa400,#ffbf00 55px,#ff0 132px,#80ff00 232px,#0f0 345px,#00ff80 422px,#0ff 444px,#00f 457px,#00f)"></i>
<i style="background:linear-gradient(#ffa600,#ffbf00 51px,#ff0 129px,#80ff00 230px,#0f0 345px,#00ff80 422px,#0ff 444px,#00f 457px,#00f)"></i>
<i style="background:linear-gradient(#ffa800,#ffbf00 48px,#ff0 126px,#80ff00 228px,#0f0 344px,#00ff80 422px,#0ff 444px,#00f 457px,#00f)"></i>
<i style="background:linear-gradient(#fa0,#ffbf00 44px,#ff0 123px,#80ff00 226px,#0f0 344px,#00ff80 422px,#0ff 444px,#00f 457px,#00f)"></i>
<i style="background:linear-gradient(#ffac00,#ffbf00 40px,#ff0 120px,#80ff00 224px,#0f0 344px,#00ff80 422px,#0ff 444px,#00f 457px,#00f)"></i>
<i style="background:linear-gradient(#ffae00,#ffbf00 36px,#ff0 117px,#80ff00 222px,#0f0 343px,#00ff80 422px,#0ff 444px,#00f 457px,#00f)"></i>
<i style="background:linear-gradient(#ffb000,#ffbf00 32px,#ff0 114px,#80ff00 221px,#0f0 343px,#00ff80 422px,#0ff 444px,#00f 457px,#00f)"></i>
<i style="background:linear-gradient(#ffb200,#ffdf00 73px,#ff0 111px,#80ff00 219px,#0f0 343px,#00ff80 422px,#0ff 444px,#00f 457px,#00f)"></i>
<i style="background:linear-gradient(#ffb300,#ffdf00 70px,#ff0 108px,#80ff00 217px,#0f0 342px,#00ff80 422px,#0ff 444px,#00f 457px,#00f)"></i>
<i style="background:linear-gradient(#ffb500,#ffdf00 67px,#ff0 105px,#80ff00 215px,#0f0 342px,#00ff80 422px,#0ff 444px,#00f 457px,#00f)"></i>
<i style="background:linear-gradient(#ffb700,#ffdf00 63px,#ff0 102px,#80ff00 214px,#0f0 342px,#00ff80 422px,#0ff 444px,#00f 457px,#00f)"></i>
<i style="background:linear-gradient(#ffb900,#ffdf00 60px,#ff0 98px,#80ff00 212px,#0f0 342px,#00ff80 422px,#0ff 444px,#00f 457px,#00f)"></i>
<i style="background:linear-gradient(#fb0,#ffdf00 57px,#ff0 95px,#80ff00 211px,#0f0 341px,#00ff80 422px,#0ff 444px,#00f 457px,#00f)"></i>
<i style="background:linear-gradient(#ffbd00,#ff0 92px,#80ff00 209px,#0f0 341px,#00ff80 422px,#0ff 444px,#00f 457px,#00f)"></i>
<i style="background:linear-gradient(#ffbf00,#ff0 89px,#80ff00 207px,#0f0 341px,#00ff80 422px,#0ff 444px,#00f 457px,#00f)"></i>
<i style="background:linear-gradient(#ffc100,#ff0 86px,#80ff00 206px,#0f0 341px,#00ff80 422px,#0ff 444px,#00f 457px,#00f)"></i>
<i style="background:linear-gradient(#ffc300,#ff0 82px,#80ff00 204px,#0f0 341px,#00ff80 422px,#0ff 444px,#00f 457px,#00f)"></i>
<i style="background:linear-gradient(#ffc500,#ff0 79px,#80ff00 203px,#0f0 341px,#00ff80 422px,#0ff 444px,#00f 457px,#00f)"></i>
<i style="background:linear-gradient(#ffc800,#ff0 76px,#80ff00 201px,#0f0 341px,#00ff80 422px,#0ff 444px,#00f 457px,#00f)"></i>
<i style="background:linear-gradient(#ffca00,#ff0 72px,#80ff00 200px,#0f0 341px,#00ff80 422px,#0ff 444px,#00f 457px,#00f)"></i>
<i style="background:linear-gradient(#ffcd00,#ff0 69px,#80ff00 198px,#0f0 341px,#00ff80 422px,#0ff 444px,#00f 457px,#00f)"></i>
<i style="background:linear-gradient(#ffcf00,#ff0 65px,#80ff00 197px,#0f0 341px,#00ff80 422px,#0ff 444px,#00f 457px,#00f)"></i>
<i style="background:linear-gradient(#ffd200,#ff0 62px,#80ff00 196px,#0f0 341px,#00ff80 422px,#0ff 444px,#00f 457px,#00f)"></i>
<i style="background:linear-gradient(#ffd400,#ff0 59px,#80ff00 194px,#0f0 341px,#00ff80 422px,#0ff 444px,#00f 457px,#00f)"></i>
<i style="background:linear-gradient(#ffd700,#ff0 55px,#80ff00 193px,#0f0 341px,#00ff80 422px,#0ff 444px,#00f 457px,#00f)"></i>
<i style="background:linear-gradient(#ffd900,#ff0 52px,#bfff00 116px,#0f0 341px,#00ff80 422px,#0ff 444px,#00f 457px,#00f)"></i>
<i style="background:linear-gradient(#ffdc00,#ff0 48px,#bfff00 113px,#0f0 341px,#00ff80 422px,#0ff 444px,#00f 457px,#00f)"></i>
<i style="background:linear-gradient(#ffdf00,#ff0 45px,#bfff00 110px,#0f0 341px,#00ff80 422px,#0ff 444px,#00f 457px,#00f)"></i>
<i style="background:linear-gradient(#ffe100,#ff0 41px,#bfff00 107px,#0f0 341px,#00ff80 422px,#0ff 444px,#00f 457px,#00f)"></i>
<i style="background:linear-gradient(#ffe400,#ff0 38px,#bfff00 104px,#0f0 341px,#00ff80 422px,#0ff 444px,#00f 457px,#00f)"></i>
<i style="background:linear-gradient(#ffe700,#ff0 34px,#bfff00 100px,#0f0 341px,#00ff80 422px,#0ff 444px,#00f 457px,#00f)"></i>
<i style="background:linear-gradient(#ffe900,#ff0 31px,#bfff00 97px,#0f0 341px,#00ff80 422px,#0ff 444px,#00f 457px,#00f)"></i>
<i style="background:linear-gradient(#ffec00,#ff0 27px,#bfff00 94px,#0f0 341px,#00ff80 422px,#0ff 444px,#00f 457px,#00f)"></i>
<i style="background:linear-gradient(#fe0,#ff0 24px,#bfff00 91px,#0f0 341px,#00ff80 422px,#0ff 444px,#00f 457px,#00f)"></i>
<i style="background:linear-gradient(#fff100,#ff0 20px,#bfff00 88px,#0f0 341px,#00ff80 422px,#0ff 444px,#00f 457px,#00f)"></i>
<i style="background:linear-gradient(#fff300,#ff0 16px,#bfff00 84px,#0f0 341px,#00ff80 422px,#0ff 444px,#00f 457px,#00f)"></i>
<i style="background:linear-gradient(#fff600,#ff0 13px,#bfff00 81px,#0f0 341px,#00ff80 422px,#0ff 444px,#00f 457px,#00f)"></i>
<i style="background:linear-gradient(#fff900,#ff0 9px,#bfff00 78px,#0f0 341px,#00ff80 422px,#0ff 444px,#00f 457px,#00f)"></i>
<i style="background:linear-gradient(#fffb00,#ff0 6px,#bfff00 75px,#0f0 341px,#00ff80 422px,#0ff 444px,#00f 457px,#00f)"></i>
<i style="background:linear-gradient(#fffe00,#ff0 2px,#bfff00 72px,#0f0 341px,#00ff80 422px,#0ff 444px,#00f 457px,#00f)"></i>
<i style="background:linear-gradient(#feff00,#bfff00 68px,#0f0 341px,#00ff80 422px,#0ff 444px,#00f 457px,#00f)"></i>
<i style="background:linear-gradient(#fbff00,#bfff00 65px,#0f0 341px,#00ff80 422px,#0ff 444px,#00f 457px,#00f)"></i>
<i style="background:linear-gradient(#f8ff00,#bfff00 62px,#0f0 341px,#00ff80 422px,#0ff 444px,#00f 457px,#00f)"></i>
<i style="background:linear-gradient(#f5ff00,#bfff00 59px,#0f0 341px,#00ff80 422px,#0ff 444px,#00f 457px,#00f)"></i>
<i style="background:linear-gradient(#f2ff00,#bfff00 56px,#0f0 341px,#00ff80 422px,#0ff 444px,#00f 457px,#00f)"></i>
<i style="background:linear-gradient(#efff00,#bfff00 52px,#0f0 341px,#00ff80 422px,#0ff 444px,#00f 457px,#00f)"></i>
<i style="background:linear-gradient(#ecff00,#bfff00 49px,#0f0 341px,#00ff80 422px,#0ff 444px,#00f 457px,#00f)"></i>
<i style="background:linear-gradient(#e9ff00,#bfff00 46px,#0f0 341px,#00ff80 422px,#0ff 444px,#00f 457px,#00f)"></i>
<i style="background:linear-gradient(#e6ff00,#bfff00 43px,#0f0 341px,#00ff80 422px,#0ff 444px,#00f 457px,#00f)"></i>
<i style="background:linear-gradient(#e3ff00,#bfff00 40px,#0f0 341px,#00ff80 422px,#0ff 444px,#00f 457px,#00f)"></i>
<i style="background:linear-gradient(#e0ff00,#bfff00 36px,#0f0 341px,#00ff80 422px,#0ff 444px,#00f 457px,#00f)"></i>
<i style="background:linear-gradient(#df0,#bfff00 33px,#0f0 341px,#00ff80 422px,#0ff 444px,#00f 457px,#00f)"></i>
<i style="background:linear-gradient(#daff00,#bfff00 30px,#0f0 341px,#00ff80 422px,#0ff 444px,#00f 457px,#00f)"></i>
<i style="background:linear-gradient(#d7ff00,#bfff00 27px,#0f0 341px,#00ff80 422px,#0ff 444px,#00f 457px,#00f)"></i>
<i style="background:linear-gradient(#d4ff00,#bfff00 24px,#0f0 341px,#00ff80 422px,#0ff 444px,#00f 457px,#00f)"></i>
<i style="background:linear-gradient(#d1ff00,#bfff00 21px,#0f0 341px,#00ff80 422px,#0ff 444px,#00f 457px,#00f)"></i>
<i style="background:linear-gradient(#cfff00,#bfff00 18px,#0f0 341px,#00ff80 422px,#0ff 444px,#00f 457px,#00f)"></i>
<i style="background:linear-gradient(#cdff00,#bfff00 16px,#0f0 341px,#00ff80 422px,#0ff 444px,#00f 457px,#00f)"></i>
</div>
<div class="p" style="top:1603.3px">
<i class="w" style="background:linear-gradient(#f00,#f00 268px,#ff4000 316px,#ff8000 346px,#ff0 373px,#0f0 407px,#0ff 436px,#001bff)"></i>
<i class="w" style="background:linear-gradient(#f00,#f00 268px,#ff4000 316px,#ff8000 346px,#ff0 373px,#0f0 407px,#0ff 436px,#001bff)"></i>
<i class="w" style="background:linear-gradient(#f00,#f00 268px,#ff4000 316px,#ff8000 346px,#ff0 373px,#0f0 407px,#0ff 436px,#001bff)"></i>
<i class="w" style="background:linear-gradient(#f00,#f00 268px,#ff4000 316px,#ff8000 346px,#ff0 373px,#0f0 407px,#0ff 436px,#001bff)"></i>
<i class="w" style="background:linear-gradient(#f00,#f00 268px,#ff4000 316px,#ff8000 346px,#ff0 373px,#0f0 407px,#0ff 436px,#001bff)"></i>
<i class="w" style="background:linear-gradient(#f00,#f00 268px,#ff4000 316px,#ff8000 346px,#ff0 373px,#0f0 407px,#0ff 436px,#001bff)"></i>
<i class="w" style="background:linear-gradient(#f00,#f00 267px,#ff4000 316px,#ff8000 346px,#ff0 373px,#0f0 407px,#0ff 436px,#001bff)"></i>
<i class="w" style="background:linear-gradient(#f00,#f00 267px,#ff4000 316px,#ff8000 346px,#ff0 373px,#0f0 407px,#0ff 436px,#001bff)"></i>
<i class="w" style="background:linear-gradient(#f00,#f00 267px,#ff4000 316px,#ff8000 346px,#ff0 373px,#0f0 407px,#0ff 436px,#001bff)"></i>
<i class="w" style="background:linear-gradient(#f00,#f00 267px,#ff4000 315px,#ff8000 345px,#ff0 372px,#0f0 407px,#0ff 436px,#001bff)"></i>
<i class="w" style="background:linear-gradient(#f00,#f00 267px,#ff4000 315px,#ff8000 345px,#ff0 372px,#0f0 407px,#0ff 436px,#001bff)"></i>
<i class="w" style="background:linear-gradient(#f00,#f00 266px,#ff4000 315px,#ff8000 345px,#ff0 372px,#0f0 407px,#0ff 436px,#001bff)"></i>
<i class="w" style="background:linear-gradient(#f00,#f00 266px,#ff4000 315px,#ff8000 345px,#ff0 372px,#0f0 407px,#0ff 436px,#001bff)"></i>
<i class="w" style="background:linear-gradient(#f00,#f00 266px,#ff4000 315px,#ff8000 345px,#ff0 372px,#0f0 407px,#0ff 436px,#001bff)"></i>
<i class="w" style="background:linear-gradient(#f00,#f00 265px,#ff4000 314px,#ff8000 344px,#ff0 371px,#0f0 406px,#0ff 436px,#001bff)"></i>
<i class="w" style="background:linear-gradient(#f00,#f00 265px,#ff4000 314px,#ff8000 344px,#ff0 371px,#0f0 406px,#0ff 436px,#001bff)"></i>
<i class="w" style="background:linear-gradient(#f00,#f00 264px,#ff4000 314px,#ff8000 344px,#ff0 371px,#0f0 406px,#0ff 436px,#001bff)"></i>
<i class="w" style="background:linear-gradient(#f00,#f00 264px,#ff4000 314px,#ff8000 344px,#ff0 371px,#0f0 406px,#0ff 436px,#001bff)"></i>
<i class="w" style="background:linear-gradient(#f00,#f00 264px,#ff4000 313px,#ff8000 343px,#ff0 370px,#0f0 406px,#0ff 436px,#001bff)"></i>
<i class="w" style="background:linear-gradient(#f00,#f00 263px,#ff4000 313px,#ff8000 343px,#ff0 370px,#0f0 406px,#0ff 436px,#001bff)"></i>
<i class="w" style="background:linear-gradient(#f00,#f00 263px,#ff4000 313px,#ff8000 343px,#ff0 370px,#0f0 406px,#0ff 436px,#001bff)"></i>
<i class="w" style="background:linear-gradient(#f00,#f00 262px,#ff4000 313px,#ff8000 342px,#ff0 369px,#0f0 406px,#0ff 436px,#001bff)"></i>
<i class="w" style="background:linear-gradient(#f00,#f00 262px,#ff4000 312px,#ff8000 342px,#ff0 369px,#0f0 406px,#0ff 436px,#001bff)"></i>
<i class="w" style="background:linear-gradient(#f00,#f00 261px,#ff4000 312px,#ff8000 342px,#ff0 369px,#0f0 406px,#0ff 436px,#001bff)"></i>
<i class="w" style="background:linear-gradient(#f00,#f00 261px,#ff4000 312px,#ff8000 341px,#ff0 369px,#0f0 406px,#0ff 436px,#001bff)"></i>
<i class="w" style="background:linear-gradient(#f00,#f00 260px,#ff4000 311px,#ff8000 341px,#ff0 368px,#0f0 405px,#0ff 436px,#001bff)"></i>
<i class="w" style="background:linear-gradient(#f00,#f00 259px,#ff4000 311px,#ff8000 341px,#ff0 368px,#0f0 405px,#0ff 436px,#001bff)"></i>
<i class="w" style="background:linear-gradient(#f00,#f00 259px,#ff4000 311px,#ff8000 340px,#ff0 368px,#0f0 405px,#0ff 436px,#001bff)"></i>
<i class="w" style="background:linear-gradient(#f00,#f00 258px,#ff4000 310px,#ff8000 340px,#ff0 367px,#0f0 405px,#0ff 436px,#001bff)"></i>
<i class="w" style="background:linear-gradient(#f00,#f00 258px,#ff4000 310px,#ff8000 340px,#ff0 367px,#0f0 405px,#0ff 436px,#001bff)"></i>
<i class="w" style="background:linear-gradient(#f00,#f00 257px,#ff4000 309px,#ff8000 339px,#ff0 366px,#0f0 405px,#0ff 436px,#001bff)"></i>
<i class="w" style="background:linear-gradient(#f00,#f00 256px,#ff4000 309px,#ff8000 339px,#ff0 366px,#0f0 405px,#0ff 436px,#001bff)"></i>
<i class="w" style="background:linear-gradient(#f00,#f00 256px,#ff4000 309px,#ff8000 339px,#ff0 366px,#0f0 405px,#0ff 436px,#001bff)"></i>
<i class="w" style="background:linear-gradient(#f00,#f00 255px,#ff4000 308px,#ff8000 338px,#ff0 365px,#0f0 404px,#0ff 436px,#001bff)"></i>
<i class="w" style="background:linear-gradient(#f00,#f00 254px,#ff4000 308px,#ff8000 338px,#ff0 365px,#0f0 404px,#0ff 436px,#001bff)"></i>
<i class="w" style="background:linear-gradient(#f00,#f00 253px,#ff4000 307px,#ff8000 337px,#ff0 364px,#0f0 404px,#0ff 436px,#001bff)"></i>
<i class="w" style="background:linear-gradient(#f00,#f00 251px,#ff4000 307px,#ff8000 337px,#ff0 364px,#0f0 404px,#0ff 436px,#001aff)"></i>
<i class="w" style="background:linear-gradient(#f00,#f00 250px,#ff4000 306px,#ff8000 336px,#ff0 363px,#0f0 404px,#0ff 435px,#001aff)"></i>
<i class="w" style="background:linear-gradient(#f00,#f00 249px,#ff4000 305px,#ff8000 336px,#ff0 363px,#0f0 404px,#0ff 435px,#001aff)"></i>
<i class="w" style="background:linear-gradient(#f00,#f00 247px,#ff4000 305px,#ff8000 335px,#ff0 362px,#0f0 403px,#0ff 435px,#001aff)"></i>
<i class="w" style="background:linear-gradient(#f00,#f00 245px,#ff4000 304px,#ff8000 335px,#ff0 362px,#0f0 403px,#0ff 435px,#001aff)"></i>
<i class="w" style="background:linear-gradient(#f00,#f00 243px,#ff4000 303px,#ff8000 334px,#ff0 361px,#0f0 403px,#0ff 435px,#001aff)"></i>
<i class="w" style="background:linear-gradient(#f00,#f00 241px,#ff4000 302px,#ff8000 333px,#ff0 360px,#0f0 403px,#0ff 434px,#0019ff)"></i>
<i class="w" style="background:linear-gradient(#f00,#f00 239px,#ff4000 301px,#ff8000 332px,#ff0 360px,#0f0 402px,#0ff 434px,#0019ff)"></i>
<i class="w" style="background:linear-gradient(#f00,#f00 237px,#ff4000 300px,#ff8000 332px,#ff0 359px,#0f0 402px,#0ff 434px,#0019ff)"></i>
<i class="w" style="background:linear-gradient(#f00,#f00 235px,#ff4000 299px,#ff8000 331px,#ff0 358px,#0f0 402px,#0ff 434px,#0018ff)"></i>
<i class="w" style="background:linear-gradient(#f00,#f00 232px,#ff4000 298px,#ff8000 330px,#ff0 357px,#0f0 402px,#0ff 433px,#0018ff)"></i>
<i class="w" style="background:linear-gradient(#f00,#f00 230px,#ff4000 297px,#ff8000 329px,#ff0 356px,#0f0 401px,#0ff 433px,#0018ff)"></i>
<i class="w" style="background:linear-gradient(#f00,#f00 227px,#ff4000 295px,#ff8000 328px,#ff0 356px,#0f0 401px,#0ff 433px,#0018ff)"></i>
<i class="w" style="background:linear-gradient(#f00,#f00 225px,#ff4000 294px,#ff8000 327px,#ff0 355px,#0f0 401px,#0ff 433px,#0017ff)"></i>
<i class="w" style="background:linear-gradient(#f00,#f00 222px,#ff4000 293px,#ff8000 326px,#ff0 354px,#0f0 400px,#0ff 432px,#0016ff)"></i>
<i class="w" style="background:linear-gradient(#f00,#f00 220px,#ff4000 291px,#ff8000 325px,#ff0 353px,#0f0 400px,#0ff 432px,#0014ff)"></i>
<i class="w" style="background:linear-gradient(#f00,#f00 217px,#ff4000 289px,#ff8000 324px,#ff0 352px,#0f0 399px,#0ff 432px,#01f)"></i>
<i class="w" style="background:linear-gradient(#f00,#f00 213px,#ff4000 287px,#ff8000 323px,#ff0 351px,#0f0 398px,#0ff 431px,#000cff)"></i>
<i class="w" style="background:linear-gradient(#f00,#f00 210px,#ff4000 285px,#ff8000 321px,#ff0 350px,#0f0 398px,#0ff 431px,#0008ff)"></i>
<i class="w" style="background:linear-gradient(#f00,#f00 207px,#ff4000 282px,#ff8000 320px,#ff0 349px,#0f0 397px,#0ff 430px,#0003ff)"></i>
<i class="w" style="background:linear-gradient(#f00,#f00 203px,#ff4000 279px,#ff8000 318px,#ff0 348px,#0f0 396px,#0ff 430px,#00f 459px,#00f)"></i>
<i class="w" style="background:linear-gradient(#f00,#f00 199px,#ff4000 277px,#ff8000 317px,#ff0 346px,#0f0 395px,#0ff 430px,#00f 458px,#00f)"></i>
<i class="w" style="background:linear-gradient(#f00,#f00 195px,#ff4000 274px,#ff8000 315px,#ff0 345px,#0f0 395px,#0ff 429px,#0080ff 444px,#00f 458px,#00f)"></i>
<i class="w" style="background:linear-gradient(#f00,#f00 190px,#ff4000 271px,#ff8000 313px,#ff0 344px,#0f0 394px,#0ff 429px,#00f 457px,#00f)"></i>
<i class="w" style="background:linear-gradient(#f00,#f00 186px,#ff4000 268px,#ff8000 312px,#ff0 343px,#0f0 393px,#0ff 428px,#0080ff 443px,#00f 456px,#00f)"></i>
<i class="m" style="background:linear-gradient(#f00,#f00 181px,#ff4000 265px,#ff8000 310px,#ff0 342px,#0f0 393px,#0ff 428px,#0080ff 442px,#00f 456px,#00f)"></i>
<i class="m" style="background:linear-gradient(#f00,#f00 178px,#ff4000 263px,#ff8000 309px,#ff0 341px,#0f0 392px,#0ff 428px,#0080ff 442px,#00f 455px,#00f)"></i>
<i class="m" style="background:linear-gradient(#f00,#f00 174px,#ff4000 261px,#ff8000 308px,#ff0 340px,#0f0 392px,#0ff 427px,#0080ff 442px,#00f 455px,#00f)"></i>
<i class="m" style="background:linear-gradient(#f00,#f00 169px,#ff4000 259px,#ff8000 307px,#ff0 339px,#0f0 392px,#0ff 427px,#0080ff 442px,#00f 454px,#00f)"></i>
<i class="m" style="background:linear-gradient(#f00,#f00 164px,#ff4000 257px,#ff8000 305px,#ff0 338px,#0f0 391px,#0ff 427px,#0080ff 441px,#00f 454px,#00f)"></i>
<i class="m" style="background:linear-gradient(#f00,#f00 158px,#ff4000 255px,#ff8000 304px,#ff0 337px,#0f0 391px,#0ff 427px,#0080ff 441px,#00f 454px,#00f)"></i>
<i class="m" style="background:linear-gradient(#f00,#f00 152px,#ff4000 253px,#ff8000 303px,#ff0 336px,#0f0 391px,#0ff 426px,#0080ff 441px,#00f 454px,#00f)"></i>
<i class="m" style="background:linear-gradient(#f00,#f00 145px,#ff4000 251px,#ff8000 302px,#ff0 336px,#0f0 390px,#0ff 426px,#0080ff 441px,#00f 454px,#00f)"></i>
<i class="m" style="background:linear-gradient(#f00,#f00 137px,#ff2000 200px,#ff4000 249px,#ff8000 301px,#ff0 335px,#0f0 390px,#0ff 426px,#0080ff 441px,#00f 453px,#00f)"></i>
<i style="background:linear-gradient(#f00,#f00 131px,#ff2000 198px,#ff4000 247px,#ff8000 300px,#ff0 334px,#0f0 390px,#0ff 426px,#0080ff 441px,#00f 453px,#00f)"></i>
<i style="background:linear-gradient(#f00,#f00 126px,#ff2000 196px,#ff4000 246px,#ff8000 299px,#ff0 333px,#0f0 390px,#0ff 426px,#0080ff 441px,#00f 453px,#00f)"></i>
<i style="background:linear-gradient(#f00,#f00 122px,#ff2000 194px,#ff4000 245px,#ff8000 298px,#ff0 333px,#0f0 390px,#0ff 426px,#0080ff 441px,#00f 453px,#00f)"></i>
<i style="background:linear-gradient(#f00,#f00 117px,#ff2000 192px,#ff4000 243px,#ff8000 298px,#ff0 333px,#0f0 390px,#0ff 426px,#0080ff 441px,#00f 453px,#00f)"></i>
<i style="background:linear-gradient(#f00,#f00 112px,#ff2000 189px,#ff4000 242px,#ff8000 297px,#ff0 332px,#0f0 390px,#0ff 426px,#0080ff 441px,#00f 453px,#00f)"></i>
<i style="background:linear-gradient(#f00,#f00 108px,#ff2000 187px,#ff4000 241px,#ff8000 296px,#ff0 332px,#0f0 390px,#0ff 426px,#0080ff 441px,#00f 453px,#00f)"></i>
<i style="background:linear-gradient(#f00,#f00 103px,#ff2000 185px,#ff4000 240px,#ff8000 296px,#ff0 331px,#0f0 390px,#0ff 426px,#0080ff 441px,#00f 453px,#00f)"></i>
<i style="background:linear-gradient(#f00,#f00 98px,#ff2000 182px,#ff4000 238px,#ff8000 295px,#ff0 331px,#0f0 390px,#0ff 426px,#0080ff 441px,#00f 453px,#00f)"></i>
<i style="background:linear-gradient(#f00,#f00 93px,#ff2000 180px,#ff4000 237px,#ff8000 294px,#ff0 330px,#0f0 390px,#0ff 426px,#0080ff 441px,#00f 453px,#00f)"></i>
<i style="background:linear-gradient(#f00,#f00 88px,#ff2000 178px,#ff4000 236px,#ff8000 294px,#ff0 330px,#0f0 390px,#0ff 425px,#0080ff 441px,#00f 453px,#00f)"></i>
<i style="background:linear-gradient(#f00,#f00 83px,#ff2000 175px,#ff4000 235px,#ff8000 293px,#ff0 329px,#0f0 390px,#0ff 425px,#0080ff 441px,#00f 453px,#00f)"></i>
<i style="background:linear-gradient(#f00,#f00 78px,#ff2000 173px,#ff4000 233px,#ff8000 292px,#ff0 329px,#0f0 390px,#0ff 425px,#0080ff 441px,#00f 453px,#00f)"></i>
<i style="background:linear-gradient(#f00,#f00 73px,#ff2000 171px,#ff4000 232px,#ff8000 292px,#ff0 328px,#0f0 389px,#0ff 425px,#0080ff 440px,#00f 453px,#00f)"></i>
<i style="background:linear-gradient(#f00,#f00 68px,#ff2000 168px,#ff4000 231px,#ff8000 291px,#ff0 328px,#0f0 389px,#0ff 425px,#0080ff 440px,#00f 453px,#00f)"></i>
<i style="background:linear-gradient(#f00,#f00 63px,#ff2000 166px,#ff4000 230px,#ff8000 290px,#ff0 327px,#0f0 389px,#0ff 425px,#0080ff 440px,#00f 453px,#00f)"></i>
<i style="background:linear-gradient(#f00,#f00 58px,#ff2000 164px,#ff4000 228px,#ff8000 289px,#ff0 327px,#0f0 389px,#0ff 425px,#0080ff 440px,#00f 453px,#00f)"></i>
<i style="background:linear-gradient(#f00,#f00 53px,#ff2000 162px,#ff4000 227px,#ff8000 289px,#ff0 326px,#0f0 389px,#0ff 425px,#0080ff 440px,#00f 453px,#00f)"></i>
<i style="background:linear-gradient(#f00,#f00 48px,#ff2000 160px,#ff4000 226px,#ff8000 288px,#ff0 325px,#0f0 389px,#0ff 425px,#0080ff 440px,#00f 453px,#00f)"></i>
<i style="background:linear-gradient(#f00,#f00 44px,#ff2000 158px,#ff4000 225px,#ff8000 287px,#ff0 325px,#0f0 389px,#0ff 425px,#0080ff 440px,#00f 453px,#00f)"></i>
<i style="background:linear-gradient(#f00,#f00 39px,#ff2000 157px,#ff4000 223px,#ff8000 286px,#ff0 324px,#0f0 389px,#0ff 425px,#0080ff 440px,#00f 453px,#00f)"></i>
<i style="background:linear-gradient(#f00,#f00 34px,#ff2000 155px,#ff4000 222px,#ff8000 285px,#ff0 324px,#0f0 389px,#0ff 425px,#0080ff 440px,#00f 453px,#00f)"></i>
<i style="background:linear-gradient(#f00,#f00 29px,#ff2000 154px,#ff4000 221px,#ff8000 285px,#ff0 323px,#0f0 389px,#0ff 425px,#0080ff 440px,#00f 453px,#00f)"></i>
<i style="background:linear-gradient(#f00,#f00 24px,#ff2000 153px,#ff4000 220px,#ff8000 284px,#ff0 323px,#0f0 389px,#0ff 425px,#0080ff 440px,#00f 453px,#00f)"></i>
<i style="background:linear-gradient(#f00,#ff2000 151px,#ff4000 219px,#ff8000 283px,#ff0 322px,#0f0 389px,#0ff 425px,#0080ff 440px,#00f 453px,#00f)"></i>
<i style="background:linear-gradient(#f00,#ff2000 150px,#ff4000 218px,#ff8000 282px,#ff0 322px,#0f0 389px,#0ff 425px,#0080ff 441px,#00f 453px,#00f)"></i>
<i style="background:linear-gradient(#f00,#ff2000 149px,#ff4000 217px,#ff8000 281px,#ff0 321px,#0f0 389px,#0ff 425px,#0080ff 441px,#00f 453px,#00f)"></i>
<i style="background:linear-gradient(#ff0200,#ff2000 148px,#ff4000 215px,#ff8000 280px,#ff0 321px,#0f0 390px,#0ff 425px,#0080ff 441px,#00f 453px,#00f)"></i>
<i style="background:linear-gradient(#ff0200,#ff2000 146px,#ff4000 214px,#ff8000 279px,#ff0 320px,#0f0 390px,#0ff 426px,#0080ff 441px,#00f 453px,#00f)"></i>
<i style="background:linear-gradient(#ff0300,#ff2000 145px,#ff4000 213px,#ff8000 279px,#ff0 320px,#0f0 390px,#0ff 426px,#0080ff 441px,#00f 453px,#00f)"></i>
<i style="background:linear-gradient(#ff0400,#ff2000 143px,#ff4000 212px,#ff8000 278px,#ff0 319px,#0f0 390px,#0ff 426px,#0080ff 441px,#00f 454px,#00f)"></i>
<i style="background:linear-gradient(#ff0500,#ff2000 141px,#ff4000 211px,#ff8000 277px,#ff0 319px,#0f0 391px,#0ff 427px,#0080ff 442px,#00f 454px,#00f)"></i>
<i style="background:linear-gradient(#ff0600,#ff2000 139px,#ff4000 210px,#ff8000 276px,#ff0 318px,#80ff00 353px,#0f0 391px,#0ff 427px,#0080ff 442px,#00f 454px,#00f)"></i>
<i style="background:linear-gradient(#ff0700,#ff2000 137px,#ff4000 209px,#ff8000 275px,#ff0 318px,#80ff00 353px,#0f0 392px,#0ff 427px,#0080ff 442px,#00f 454px,#00f)"></i>
<i style="background:linear-gradient(#ff0800,#ff2000 134px,#ff4000 207px,#ff8000 274px,#ff0 317px,#80ff00 353px,#0f0 392px,#0ff 428px,#0080ff 443px,#00f 454px,#00f)"></i>
<i style="background:linear-gradient(#ff0900,#ff2000 131px,#ff4000 206px,#ff8000 273px,#ff0 316px,#80ff00 352px,#0f0 393px,#0ff 428px,#0080ff 443px,#00f 455px,#00f)"></i>
<i style="background:linear-gradient(#ff0900,#ff2000 128px,#ff4000 205px,#ff8000 272px,#ff0 316px,#80ff00 352px,#0f0 393px,#0ff 429px,#0080ff 443px,#00f 455px,#00f)"></i>
<i style="background:linear-gradient(#ff0a00,#ff2000 124px,#ff4000 204px,#ff8000 271px,#ff0 315px,#80ff00 352px,#0f0 394px,#0ff 429px,#0080ff 444px,#00f 455px,#00f)"></i>
<i style="background:linear-gradient(#ff0b00,#ff2000 119px,#ff4000 203px,#ff8000 270px,#ff0 315px,#80ff00 351px,#0f0 394px,#0ff 430px,#0080ff 444px,#00f 455px,#00f)"></i>
<i style="background:linear-gradient(#ff0c00,#ff2000 115px,#ff4000 202px,#ff8000 269px,#ff0 314px,#80ff00 351px,#0f0 395px,#0ff 430px,#0080ff 444px,#00f 455px,#00f)"></i>
<i style="background:linear-gradient(#ff0d00,#ff2000 110px,#ff4000 200px,#ff8000 268px,#ff0 314px,#80ff00 351px,#0f0 395px,#0ff 431px,#0080ff 445px,#00f 456px,#00f)"></i>
<i style="background:linear-gradient(#ff0e00,#ff2000 105px,#ff4000 199px,#ff8000 267px,#ff0 313px,#80ff00 351px,#0f0 396px,#0ff 431px,#0080ff 445px,#00f 456px,#00f)"></i>
<i style="background:linear-gradient(#ff0f00,#ff2000 100px,#ff4000 198px,#ff8000 266px,#ff0 312px,#80ff00 350px,#0f0 396px,#0ff 432px,#0080ff 446px,#00f 456px,#00f)"></i>
<i style="background:linear-gradient(#ff1000,#ff2000 95px,#ff4000 197px,#ff8000 265px,#ff0 312px,#80ff00 350px,#0f0 397px,#0ff 432px,#0080ff 446px,#00f 456px,#00f)"></i>
<i style="background:linear-gradient(#ff1000,#ff2000 90px,#ff4000 196px,#ff8000 263px,#ff0 311px,#80ff00 350px,#0f0 397px,#0ff 433px,#0080ff 446px,#00f 456px,#00f)"></i>
<i style="background:linear-gradient(#f10,#ff2000 85px,#ff4000 195px,#ff8000 262px,#ff0 310px,#80ff00 349px,#0f0 398px,#0ff 433px,#0080ff 447px,#00f 456px,#00f)"></i>
<i style="background:linear-gradient(#ff1200,#ff2000 80px,#ff4000 193px,#ff8000 261px,#ff0 309px,#80ff00 349px,#0f0 398px,#0ff 434px,#0080ff 447px,#00f 457px,#00f)"></i>
<i style="background:linear-gradient(#ff1300,#ff2000 74px,#ff4000 192px,#ff8000 260px,#ff0 309px,#80ff00 349px,#0f0 398px,#0ff 434px,#0080ff 447px,#00f 457px,#00f)"></i>
<i style="background:linear-gradient(#ff1400,#ff4000 191px,#ff8000 259px,#ff0 308px,#80ff00 349px,#0f0 399px,#0ff 435px,#0080ff 448px,#00f 457px,#00f)"></i>
<i style="background:linear-gradient(#ff1500,#ff4000 189px,#ff8000 258px,#ff0 307px,#80ff00 348px,#0f0 399px,#0ff 435px,#0080ff 448px,#00f 457px,#00f)"></i>
<i style="background:linear-gradient(#ff1600,#ff4000 187px,#ff8000 257px,#ff0 306px,#80ff00 348px,#0f0 399px,#0ff 436px,#0080ff 448px,#00f 457px,#00f)"></i>
<i style="background:linear-gradient(#ff1700,#ff4000 186px,#ff8000 255px,#ff0 305px,#80ff00 348px,#0f0 400px,#00ff80 419px,#0ff 436px,#0080ff 449px,#00f 457px,#00f)"></i>
<i style="background:linear-gradient(#ff1700,#ff4000 184px,#ff6000 224px,#ff8000 254px,#ff0 304px,#80ff00 348px,#0f0 400px,#00ff80 419px,#0ff 437px,#0080ff 449px,#00f 457px,#00f)"></i>
<i style="background:linear-gradient(#ff1800,#ff4000 181px,#ff6000 223px,#ff8000 253px,#ff0 303px,#80ff00 347px,#0f0 400px,#00ff80 420px,#0ff 437px,#0080ff 449px,#00f 457px,#00f)"></i>
<i style="background:linear-gradient(#ff1900,#ff4000 178px,#ff6000 222px,#ff8000 252px,#ff0 302px,#80ff00 347px,#0f0 401px,#00ff80 421px,#0ff 438px,#0080ff 450px,#00f 457px,#00f)"></i>
<i style="background:linear-gradient(#ff1a00,#ff4000 175px,#ff6000 221px,#ff8000 251px,#ff0 301px,#80ff00 347px,#0f0 401px,#00ff80 422px,#0ff 439px,#0080ff 450px,#00f 457px,#00f)"></i>
<i style="background:linear-gradient(#ff1b00,#ff4000 171px,#ff6000 220px,#ff8000 249px,#ff0 300px,#80ff00 347px,#0f0 401px,#00ff80 422px,#0ff 439px,#0080ff 450px,#00f 457px,#00f)"></i>
<i style="background:linear-gradient(#ff1c00,#ff4000 167px,#ff6000 219px,#ff8000 248px,#ff0 299px,#80ff00 347px,#0f0 401px,#00ff80 423px,#0ff 440px,#0080ff 451px,#00f 458px,#00f)"></i>
<i style="background:linear-gradient(#ff1d00,#ff4000 162px,#ff6000 218px,#ff8000 247px,#ff0 298px,#80ff00 347px,#0f0 402px,#00ff80 424px,#0ff 440px,#0080ff 451px,#00f 458px,#00f)"></i>
<i style="background:linear-gradient(#ff1e00,#ff4000 157px,#ff6000 217px,#ff8000 246px,#ff0 296px,#80ff00 346px,#0f0 402px,#00ff80 425px,#0ff 441px,#0080ff 451px,#00f 458px,#00f)"></i>
<i style="background:linear-gradient(#ff1f00,#ff4000 152px,#ff6000 216px,#ff8000 244px,#ff0 295px,#80ff00 346px,#0f0 402px,#00ff80 426px,#0ff 442px,#0080ff 452px,#00f 458px,#00f)"></i>
<i style="background:linear-gradient(#ff2000,#ff4000 147px,#ff6000 214px,#ff8000 243px,#ff0 294px,#80ff00 346px,#0f0 402px,#00ff80 427px,#0ff 442px,#0080ff 452px,#00f 458px,#00f)"></i>
<i style="background:linear-gradient(#ff2100,#ff4000 142px,#ff6000 213px,#ff8000 242px,#ff0 292px,#0f0 403px,#00ff80 428px,#0ff 443px,#0080ff 452px,#00f 458px,#00f)"></i>
<i style="background:linear-gradient(#f20,#ff4000 137px,#ff6000 211px,#ff8000 240px,#ff0 291px,#0f0 403px,#00ff80 429px,#0ff 444px,#0080ff 452px,#00f 458px,#00f)"></i>
<i style="background:linear-gradient(#ff2300,#ff4000 131px,#ff6000 208px,#ff8000 239px,#ff0 290px,#0f0 403px,#00ff80 429px,#0ff 444px,#0080ff 453px,#00f 458px,#00f)"></i>
<i style="background:linear-gradient(#ff2400,#ff4000 126px,#ff6000 205px,#ff8000 237px,#ff0 288px,#0f0 403px,#00ff80 430px,#0ff 445px,#0080ff 453px,#00f 458px,#00f)"></i>
<i style="background:linear-gradient(#ff2500,#ff4000 121px,#ff6000 202px,#ff8000 236px,#ff0 287px,#0f0 404px,#00ff80 431px,#0ff 445px,#0080ff 453px,#00f 458px,#00f)"></i>
<i style="background:linear-gradient(#ff2600,#ff4000 116px,#ff6000 198px,#ff8000 234px,#ff0 285px,#0f0 404px,#00ff80 432px,#0ff 446px,#0080ff 453px,#00f 458px,#00f)"></i>
<i style="background:linear-gradient(#ff2700,#ff4000 111px,#ff6000 193px,#ff8000 232px,#ff0 284px,#0f0 404px,#00ff80 432px,#0ff 446px,#0080ff 454px,#00f 458px,#00f)"></i>
<i style="background:linear-gradient(#ff2900,#ff4000 105px,#ff6000 188px,#ff8000 230px,#ff0 282px,#0f0 404px,#00ff80 433px,#0ff 447px,#0080ff 454px,#00f 458px,#00f)"></i>
<i style="background:linear-gradient(#ff2a00,#ff4000 100px,#ff6000 183px,#ff8000 228px,#ff0 281px,#0f0 404px,#00ff80 434px,#0ff 447px,#0080ff 454px,#00f 458px,#00f)"></i>
<i style="background:linear-gradient(#ff2b00,#ff4000 95px,#ff6000 178px,#ff8000 226px,#ff0 279px,#80ff00 344px,#0f0 404px,#00ff80 434px,#0ff 447px,#0080ff 454px,#00f 458px,#00f)"></i>
<i style="background:linear-gradient(#ff2c00,#ff4000 90px,#ff6000 173px,#ff8000 224px,#ff0 278px,#80ff00 344px,#0f0 404px,#00ff80 434px,#0ff 448px,#0080ff 454px,#00f 458px,#00f)"></i>
<i style="background:linear-gradient(#ff2d00,#ff4000 85px,#ff6000 168px,#ff8000 222px,#ff0 277px,#80ff00 344px,#0f0 404px,#00ff80 435px,#0ff 448px,#0080ff 454px,#00f 458px,#00f)"></i>
<i style="background:linear-gradient(#ff2e00,#ff4000 79px,#ff6000 162px,#ff8000 219px,#ff0 275px,#80ff00 343px,#0f0 404px,#00ff80 435px,#0ff 448px,#0080ff 454px,#00f 458px,#00f)"></i>
<i style="background:linear-gradient(#ff2f00,#ff4000 74px,#ff6000 157px,#ff8000 216px,#ff0 274px,#80ff00 343px,#0f0 404px,#00ff80 435px,#0ff 448px,#0080ff 454px,#00f 458px,#00f)"></i>
<i style="background:linear-gradient(#ff3000,#ff4000 69px,#ff6000 152px,#ff8000 213px,#ff0 272px,#80ff00 342px,#0f0 404px,#00ff80 435px,#0ff 448px,#0080ff 454px,#00f 458px,#00f)"></i>
<i style="background:linear-gradient(#ff3200,#ff4000 64px,#ff6000 147px,#ff8000 210px,#ff0 271px,#80ff00 342px,#0f0 404px,#00ff80 435px,#0ff 448px,#0080ff 454px,#00f 458px,#00f)"></i>
<i style="background:linear-gradient(#f30,#ff4000 59px,#ff6000 142px,#ff8000 206px,#ff0 270px,#80ff00 341px,#0f0 404px,#00ff80 435px,#0ff 448px,#0080ff 454px,#00f 458px,#00f)"></i>
<i style="background:linear-gradient(#ff3400,#ff4000 53px,#ff8000 201px,#ff0 268px,#80ff00 340px,#0f0 403px,#00ff80 435px,#0ff 448px,#0080ff 454px,#00f 458px,#00f)"></i>
<i style="background:linear-gradient(#ff3500,#ff4000 48px,#ff8000 197px,#ff0 267px,#80ff00 340px,#0f0 403px,#00ff80 434px,#0ff 448px,#0080ff 454px,#00f 458px,#00f)"></i>
<i style="background:linear-gradient(#ff3600,#ff4000 43px,#ff8000 192px,#ffbf00 233px,#ff0 265px,#80ff00 339px,#0f0 402px,#00ff80 434px,#0ff 447px,#0080ff 454px,#00f 458px,#00f)"></i>
<i style="background:linear-gradient(#ff3700,#ff6000 121px,#ff8000 187px,#ffbf00 230px,#ff0 264px,#80ff00 338px,#0f0 402px,#00ff80 434px,#0ff 447px,#0080ff 454px,#00f 458px,#00f)"></i>
<i style="background:linear-gradient(#ff3800,#ff6000 116px,#ff8000 182px,#ffbf00 227px,#ff0 262px,#80ff00 337px,#0f0 401px,#00ff80 433px,#0ff 447px,#0080ff 454px,#00f 458px,#00f)"></i>
<i style="background:linear-gradient(#ff3900,#ff6000 110px,#ff8000 176px,#ffbf00 225px,#ff0 261px,#80ff00 336px,#0f0 400px,#00ff80 433px,#0ff 447px,#0080ff 454px,#00f 458px,#00f)"></i>
<i style="background:linear-gradient(#ff3b00,#ff6000 105px,#ff8000 171px,#ffbf00 222px,#ff0 260px,#80ff00 334px,#0f0 399px,#00ff80 433px,#0ff 447px,#0080ff 454px,#00f 458px,#00f)"></i>
<i style="background:linear-gradient(#ff3c00,#ff6000 100px,#ff8000 165px,#ffbf00 219px,#ff0 258px,#80ff00 333px,#0f0 399px,#00ff80 433px,#0ff 447px,#0080ff 454px,#00f 458px,#00f)"></i>
<i style="background:linear-gradient(#ff3d00,#ff6000 95px,#ff8000 159px,#ffbf00 216px,#ff0 256px,#80ff00 332px,#0f0 398px,#00ff80 432px,#0ff 447px,#0080ff 454px,#00f 458px,#00f)"></i>
<i style="background:linear-gradient(#ff3e00,#ff6000 89px,#ff8000 154px,#ffbf00 213px,#ff0 255px,#80ff00 331px,#0f0 397px,#00ff80 432px,#0ff 446px,#0080ff 454px,#00f 458px,#00f)"></i>
<i style="background:linear-gradient(#ff4000,#ff8000 148px,#ffbf00 210px,#ff0 253px,#80ff00 329px,#0f0 396px,#00ff80 432px,#0ff 446px,#0080ff 454px,#00f 458px,#00f)"></i>
<i style="background:linear-gradient(#ff4100,#ff8000 142px,#ffbf00 206px,#ff0 252px,#80ff00 328px,#0f0 395px,#00ff80 431px,#0ff 446px,#0080ff 453px,#00f 458px,#00f)"></i>
<i style="background:linear-gradient(#ff4300,#ff8000 137px,#ffbf00 203px,#ff0 250px,#80ff00 327px,#0f0 394px,#00ff80 431px,#0ff 446px,#0080ff 453px,#00f 458px,#00f)"></i>
<i style="background:linear-gradient(#ff4500,#ff8000 131px,#ffbf00 200px,#ff0 248px,#80ff00 325px,#0f0 394px,#00ff80 431px,#0ff 446px,#0080ff 453px,#00f 458px,#00f)"></i>
<i style="background:linear-gradient(#ff4700,#ff8000 125px,#ffbf00 197px,#ff0 247px,#80ff00 324px,#0f0 393px,#00ff80 431px,#0ff 446px,#0080ff 453px,#00f 458px,#00f)"></i>
<i style="background:linear-gradient(#ff4900,#ff8000 120px,#ffbf00 194px,#ff0 245px,#80ff00 323px,#0f0 392px,#00ff80 430px,#0ff 446px,#0080ff 453px,#00f 458px,#00f)"></i>
<i style="background:linear-gradient(#ff4b00,#ff8000 115px,#ffbf00 191px,#ff0 243px,#80ff00 321px,#0f0 391px,#00ff80 430px,#0ff 446px,#0080ff 453px,#00f 458px,#00f)"></i>
<i style="background:linear-gradient(#ff4d00,#ff8000 109px,#ffbf00 187px,#ff0 241px,#80ff00 320px,#0f0 390px,#00ff80 430px,#0ff 446px,#0080ff 453px,#00f 458px,#00f)"></i>
<i style="background:linear-gradient(#ff4f00,#ff8000 104px,#ffbf00 184px,#ff0 239px,#80ff00 318px,#0f0 389px,#00ff80 430px,#0ff 446px,#0080ff 453px,#00f 458px,#00f)"></i>
<i style="background:linear-gradient(#ff5200,#ff8000 100px,#ffbf00 181px,#ff0 237px,#80ff00 317px,#0f0 389px,#00ff80 430px,#0ff 446px,#0080ff 453px,#00f 458px,#00f)"></i>
<i style="background:linear-gradient(#ff5400,#ff8000 95px,#ffbf00 178px,#ff0 235px,#80ff00 316px,#0f0 388px,#00ff80 430px,#0ff 446px,#0080ff 453px,#00f 458px,#00f)"></i>
<i style="background:linear-gradient(#ff5600,#ff8000 90px,#ffbf00 175px,#ff0 232px,#80ff00 314px,#0f0 387px,#00ff80 430px,#0ff 445px,#0080ff 453px,#00f 458px,#00f)"></i>
<i style="background:linear-gradient(#ff5800,#ff8000 85px,#ffbf00 171px,#ff0 230px,#80ff00 313px,#0f0 386px,#00ff80 430px,#0ff 445px,#0080ff 453px,#00f 458px,#00f)"></i>
<i style="background:linear-gradient(#ff5b00,#ff8000 81px,#ffbf00 168px,#ff0 227px,#80ff00 311px,#0f0 385px,#00ff80 430px,#0ff 445px,#0080ff 453px,#00f 458px,#00f)"></i>
<i style="background:linear-gradient(#ff5d00,#ff8000 76px,#ffbf00 165px,#ff0 224px,#80ff00 310px,#0f0 384px,#00ff80 430px,#0ff 445px,#0080ff 453px,#00f 458px,#00f)"></i>
<i style="background:linear-gradient(#ff5f00,#ff8000 72px,#ffbf00 161px,#ff0 222px,#80ff00 308px,#0f0 384px,#00ff80 430px,#0ff 445px,#0080ff 453px,#00f 458px,#00f)"></i>
<i style="background:linear-gradient(#ff6100,#ff8000 67px,#ffbf00 158px,#ff0 219px,#80ff00 306px,#0f0 383px,#00ff80 430px,#0ff 445px,#0080ff 453px,#00f 458px,#00f)"></i>
<i style="background:linear-gradient(#ff6300,#ff8000 62px,#ffbf00 154px,#ff0 216px,#80ff00 305px,#0f0 382px,#00ff80 430px,#0ff 445px,#0080ff 453px,#00f 458px,#00f)"></i>
<i style="background:linear-gradient(#f60,#ff8000 58px,#ffbf00 151px,#ff0 213px,#80ff00 303px,#0f0 381px,#00ff80 430px,#0ff 445px,#0080ff 453px,#00f 458px,#00f)"></i>
<i style="background:linear-gradient(#ff6800,#ff8000 53px,#ffbf00 147px,#ff0 210px,#80ff00 301px,#0f0 380px,#00ff80 430px,#0ff 445px,#0080ff 453px,#00f 458px,#00f)"></i>
<i style="background:linear-gradient(#ff6a00,#ff8000 49px,#ffbf00 144px,#ff0 207px,#80ff00 300px,#0f0 380px,#00ff80 430px,#0ff 445px,#0080ff 453px,#00f 458px,#00f)"></i>
<i style="background:linear-gradient(#ff6c00,#ff8000 44px,#ffbf00 140px,#ff0 204px,#80ff00 298px,#0f0 379px,#00ff80 430px,#0ff 445px,#0080ff 453px,#00f 458px,#00f)"></i>
<i style="background:linear-gradient(#ff6e00,#ff9f00 92px,#ffbf00 137px,#ff0 201px,#80ff00 296px,#0f0 379px,#00ff80 430px,#0ff 445px,#0080ff 453px,#00f 458px,#00f)"></i>
<i style="background:linear-gradient(#ff7000,#ff9f00 88px,#ffbf00 133px,#ff0 198px,#80ff00 294px,#0f0 378px,#00ff80 430px,#0ff 445px,#0080ff 453px,#00f 458px,#00f)"></i>
<i style="background:linear-gradient(#ff7300,#ff9f00 84px,#ffbf00 130px,#ff0 195px,#80ff00 292px,#0f0 378px,#00ff80 430px,#0ff 445px,#0080ff 453px,#00f 458px,#00f)"></i>
<i style="background:linear-gradient(#ff7500,#ff9f00 80px,#ffbf00 126px,#ff0 191px,#80ff00 290px,#0f0 377px,#00ff80 430px,#0ff 445px,#0080ff 453px,#00f 458px,#00f)"></i>
<i style="background:linear-gradient(#f70,#ff9f00 76px,#ffbf00 123px,#ff0 188px,#80ff00 288px,#0f0 377px,#00ff80 429px,#0ff 445px,#0080ff 453px,#00f 458px,#00f)"></i>
<i style="background:linear-gradient(#ff7900,#ffbf00 119px,#ff0 185px,#80ff00 287px,#0f0 376px,#00ff80 429px,#0ff 445px,#0080ff 453px,#00f 458px,#00f)"></i>
<i style="background:linear-gradient(#ff7b00,#ffbf00 116px,#ff0 182px,#80ff00 284px,#0f0 376px,#00ff80 429px,#0ff 445px,#0080ff 453px,#00f 458px,#00f)"></i>
<i style="background:linear-gradient(#ff7d00,#ffbf00 112px,#ff0 179px,#80ff00 282px,#0f0 376px,#00ff80 429px,#0ff 445px,#0080ff 453px,#00f 458px,#00f)"></i>
<i style="background:linear-gradient(#ff7f00,#ffbf00 108px,#ff0 175px,#80ff00 280px,#0f0 375px,#00ff80 428px,#0ff 445px,#0080ff 453px,#00f 458px,#00f)"></i>
<i style="background:linear-gradient(#ff8100,#ffbf00 105px,#ff0 172px,#80ff00 278px,#0f0 375px,#00ff80 428px,#0ff 445px,#0080ff 453px,#00f 458px,#00f)"></i>
<i style="background:linear-gradient(#ff8300,#ffbf00 101px,#ff0 169px,#80ff00 276px,#0f0 375px,#00ff80 428px,#0ff 445px,#0080ff 453px,#00f 458px,#00f)"></i>
<i style="background:linear-gradient(#ff8500,#ffbf00 98px,#ff0 165px,#80ff00 274px,#0f0 374px,#00ff80 428px,#0ff 445px,#0080ff 453px,#00f 458px,#00f)"></i>
<i style="background:linear-gradient(#f80,#ffbf00 94px,#ff0 162px,#80ff00 272px,#0f0 374px,#00ff80 427px,#0ff 445px,#0080ff 453px,#00f 458px,#00f)"></i>
<i style="background:linear-gradient(#ff8a00,#ffbf00 91px,#ff0 159px,#80ff00 270px,#0f0 373px,#00ff80 427px,#0ff 445px,#0080ff 453px,#00f 458px,#00f)"></i>
<i style="background:linear-gradient(#ff8c00,#ffbf00 87px,#ff0 155px,#80ff00 268px,#0f0 373px,#00ff80 427px,#0ff 445px,#0080ff 453px,#00f 458px,#00f)"></i>
<i style="background:linear-gradient(#ff8e00,#ffbf00 83px,#ff0 152px,#80ff00 266px,#0f0 373px,#00ff80 427px,#0ff 445px,#0080ff 453px,#00f 458px,#00f)"></i>
<i style="background:linear-gradient(#ff9100,#ffbf00 80px,#ff0 149px,#80ff00 265px,#0f0 372px,#00ff80 426px,#0ff 445px,#0080ff 453px,#00f 458px,#00f)"></i>
<i style="background:linear-gradient(#ff9300,#ffbf00 76px,#ff0 145px,#bfff00 208px,#0f0 372px,#00ff80 426px,#0ff 445px,#0080ff 453px,#00f 458px,#00f)"></i>
<i style="background:linear-gradient(#ff9500,#ffbf00 73px,#ff0 142px,#bfff00 205px,#0f0 371px,#00ff80 426px,#0ff 445px,#0080ff 453px,#00f 458px,#00f)"></i>
<i style="background:linear-gradient(#ff9700,#ffbf00 69px,#ff0 139px,#bfff00 203px,#0f0 371px,#00ff80 426px,#0ff 445px,#0080ff 453px,#00f 458px,#00f)"></i>
<i style="background:linear-gradient(#ff9a00,#ffbf00 66px,#ff0 135px,#bfff00 200px,#0f0 371px,#00ff80 426px,#0ff 445px,#0080ff 453px,#00f 458px,#00f)"></i>
<i style="background:linear-gradient(#ff9c00,#ffbf00 62px,#ff0 132px,#bfff00 197px,#0f0 370px,#00ff80 425px,#0ff 444px,#0080ff 453px,#00f 458px,#00f)"></i>
<i style="background:linear-gradient(#ff9e00,#ffbf00 58px,#ff0 128px,#bfff00 195px,#0f0 370px,#00ff80 425px,#0ff 444px,#0080ff 453px,#00f 458px,#00f)"></i>
<i style="background:linear-gradient(#ffa000,#ffbf00 54px,#ff0 125px,#bfff00 192px,#0f0 369px,#00ff80 425px,#0ff 444px,#0080ff 453px,#00f 458px,#00f)"></i>
<i style="background:linear-gradient(#ffa300,#ffbf00 50px,#ff0 121px,#0f0 369px,#00ff80 425px,#0ff 444px,#0080ff 453px,#00f 458px,#00f)"></i>
<i style="background:linear-gradient(#ffa500,#ffbf00 47px,#ff0 118px,#0f0 368px,#00ff80 425px,#0ff 444px,#0080ff 453px,#00f 458px,#00f)"></i>
<i style="background:linear-gradient(#ffa700,#ffbf00 43px,#ff0 114px,#0f0 368px,#00ff80 425px,#0ff 444px,#0080ff 453px,#00f 458px,#00f)"></i>
<i style="background:linear-gradient(#fa0,#ffbf00 39px,#ff0 111px,#0f0 367px,#00ff80 425px,#0ff 444px,#0080ff 453px,#00f 458px,#00f)"></i>
<i style="background:linear-gradient(#ffac00,#ffbf00 34px,#ff0 107px,#0f0 367px,#00ff80 425px,#0ff 444px,#0080ff 453px,#00f 458px,#00f)"></i>
<i style="background:linear-gradient(#ffae00,#ffbf00 30px,#ff0 104px,#0f0 366px,#00ff80 425px,#0ff 444px,#0080ff 453px,#00f 458px,#00f)"></i>
<i style="background:linear-gradient(#ffb100,#ffdf00 66px,#ff0 100px,#0f0 366px,#00ff80 425px,#0ff 444px,#0080ff 453px,#00f 458px,#00f)"></i>
<i style="background:linear-gradient(#ffb300,#ffdf00 62px,#ff0 97px,#0f0 365px,#00ff80 425px,#0ff 444px,#0080ff 453px,#00f 458px,#00f)"></i>
<i style="background:linear-gradient(#ffb500,#ffdf00 59px,#ff0 93px,#0f0 365px,#00ff80 425px,#0ff 444px,#0080ff 453px,#00f 458px,#00f)"></i>
<i style="background:linear-gradient(#ffb800,#ffdf00 55px,#ff0 89px,#0f0 364px,#00ff80 425px,#0ff 444px,#0080ff 453px,#00f 458px,#00f)"></i>
<i style="background:linear-gradient(#ffba00,#ff0 86px,#0f0 363px,#00ff80 425px,#0ff 444px,#0080ff 453px,#00f 458px,#00f)"></i>
<i style="background:linear-gradient(#ffbd00,#ff0 82px,#80ff00 217px,#0f0 363px,#00ff80 425px,#0ff 444px,#0080ff 453px,#00f 458px,#00f)"></i>
<i style="background:linear-gradient(#ffbf00,#ff0 79px,#80ff00 214px,#0f0 362px,#00ff80 425px,#0ff 444px,#0080ff 453px,#00f 458px,#00f)"></i>
<i style="background:linear-gradient(#ffc200,#ff0 75px,#80ff00 211px,#0f0 361px,#00ff80 425px,#0ff 444px,#0080ff 453px,#00f 458px,#00f)"></i>
<i style="background:linear-gradient(#ffc400,#ff0 71px,#80ff00 208px,#0f0 360px,#00ff80 425px,#0ff 444px,#0080ff 453px,#00f 458px,#00f)"></i>
<i style="background:linear-gradient(#ffc700,#ff0 68px,#80ff00 205px,#0f0 359px,#00ff80 425px,#0ff 444px,#0080ff 453px,#00f 458px,#00f)"></i>
<i style="background:linear-gradient(#ffca00,#ff0 64px,#80ff00 202px,#0f0 358px,#00ff80 425px,#0ff 444px,#0080ff 453px,#00f 458px,#00f)"></i>
<i style="background:linear-gradient(#ffcd00,#ff0 61px,#80ff00 199px,#0f0 357px,#00ff80 424px,#0ff 444px,#0080ff 453px,#00f 458px,#00f)"></i>
<i style="background:linear-gradient(#ffd100,#ff0 57px,#80ff00 195px,#0f0 356px,#00ff80 424px,#0ff 444px,#0080ff 453px,#00f 458px,#00f)"></i>
<i style="background:linear-gradient(#ffd400,#ff0 53px,#80ff00 192px,#0f0 355px,#00ff80 424px,#0ff 444px,#0080ff 453px,#00f 458px,#00f)"></i>
<i style="background:linear-gradient(#ffd700,#ff0 50px,#80ff00 189px,#0f0 354px,#00ff80 424px,#0ff 444px,#0080ff 453px,#00f 458px,#00f)"></i>
<i style="background:linear-gradient(#ffda00,#ff0 46px,#80ff00 186px,#0f0 353px,#00ff80 423px,#0ff 444px,#0080ff 453px,#00f 458px,#00f)"></i>
<i style="background:linear-gradient(#fd0,#ff0 42px,#80ff00 183px,#0f0 352px,#00ff80 423px,#0ff 444px,#0080ff 453px,#00f 458px,#00f)"></i>
<i style="background:linear-gradient(#ffe000,#ff0 39px,#80ff00 180px,#0f0 351px,#00ff80 423px,#0ff 444px,#0080ff 453px,#00f 458px,#00f)"></i>
<i style="background:linear-gradient(#ffe300,#ff0 35px,#80ff00 177px,#0f0 350px,#00ff80 423px,#0ff 444px,#0080ff 453px,#00f 458px,#00f)"></i>
<i style="background:linear-gradient(#ffe600,#ff0 31px,#80ff00 174px,#0f0 349px,#00ff80 423px,#0ff 444px,#0080ff 453px,#00f 458px,#00f)"></i>
<i style="background:linear-gradient(#ffe900,#ff0 28px,#80ff00 172px,#0f0 348px,#00ff80 423px,#0ff 444px,#0080ff 453px,#00f 458px,#00f)"></i>
<i style="background:linear-gradient(#ffec00,#ff0 24px,#80ff00 169px,#0f0 348px,#00ff80 422px,#0ff 444px,#0080ff 453px,#00f 458px,#00f)"></i>
<i style="background:linear-gradient(#ffef00,#ff0 21px,#80ff00 167px,#0f0 347px,#00ff80 422px,#0ff 444px,#0080ff 453px,#00f 458px,#00f)"></i>
<i style="background:linear-gradient(#fff200,#ff0 17px,#80ff00 165px,#0f0 347px,#00ff80 422px,#0ff 444px,#0080ff 453px,#00f 458px,#00f)"></i>
<i style="background:linear-gradient(#fff500,#ff0 13px,#80ff00 162px,#0f0 346px,#00ff80 422px,#0ff 444px,#0080ff 453px,#00f 458px,#00f)"></i>
<i style="background:linear-gradient(#fff800,#ff0 10px,#80ff00 160px,#0f0 346px,#00ff80 422px,#0ff 444px,#0080ff 453px,#00f 458px,#00f)"></i>
<i style="background:linear-gradient(#fffb00,#ff0 6px,#80ff00 158px,#0f0 346px,#00ff80 422px,#0ff 444px,#0080ff 453px,#00f 458px,#00f)"></i>
<i style="background:linear-gradient(#fffd00,#ff0 3px,#80ff00 157px,#0f0 345px,#00ff80 422px,#0ff 444px,#0080ff 453px,#00f 458px,#00f)"></i>
<i style="background:linear-gradient(#feff00,#80ff00 155px,#0f0 345px,#00ff80 422px,#0ff 444px,#0080ff 453px,#00f 458px,#00f)"></i>
<i style="background:linear-gradient(#fbff00,#80ff00 153px,#0f0 345px,#00ff80 422px,#0ff 444px,#0080ff 453px,#00f 458px,#00f)"></i>
<i style="background:linear-gradient(#f9ff00,#80ff00 151px,#0f0 344px,#00ff80 422px,#0ff 444px,#0080ff 453px,#00f 458px,#00f)"></i>
<i style="background:linear-gradient(#f6ff00,#80ff00 148px,#0f0 344px,#00ff80 422px,#0ff 444px,#0080ff 453px,#00f 458px,#00f)"></i>
<i style="background:linear-gradient(#f4ff00,#80ff00 146px,#0f0 343px,#00ff80 422px,#0ff 444px,#0080ff 453px,#00f 458px,#00f)"></i>
<i style="background:linear-gradient(#f1ff00,#80ff00 144px,#0f0 343px,#00ff80 422px,#0ff 444px,#0080ff 453px,#00f 458px,#00f)"></i>
<i style="background:linear-gradient(#ef0,#80ff00 141px,#0f0 343px,#00ff80 422px,#0ff 444px,#0080ff 453px,#00f 458px,#00f)"></i>
<i style="background:linear-gradient(#ecff00,#80ff00 139px,#0f0 342px,#00ff80 422px,#0ff 444px,#0080ff 453px,#00f 458px,#00f)"></i>
<i style="background:linear-gradient(#e9ff00,#80ff00 136px,#0f0 341px,#00ff80 422px,#0ff 444px,#0080ff 453px,#00f 458px,#00f)"></i>
<i style="background:linear-gradient(#e7ff00,#80ff00 133px,#0f0 341px,#00ff80 422px,#0ff 444px,#0080ff 453px,#00f 458px,#00f)"></i>
<i style="background:linear-gradient(#e4ff00,#80ff00 130px,#0f0 340px,#00ff80 422px,#0ff 444px,#0080ff 452px,#00f 458px,#00f)"></i>
<i style="background:linear-gradient(#e1ff00,#80ff00 127px,#0f0 340px,#00ff80 421px,#0ff 444px,#0080ff 452px,#00f 458px,#00f)"></i>
<i style="background:linear-gradient(#dfff00,#80ff00 124px,#0f0 339px,#00ff80 421px,#0ff 444px,#0080ff 452px,#00f 458px,#00f)"></i>
<i style="background:linear-gradient(#dcff00,#80ff00 121px,#0f0 339px,#00ff80 421px,#0ff 444px,#0080ff 452px,#00f 458px,#00f)"></i>
<i style="background:linear-gradient(#d9ff00,#80ff00 118px,#0f0 338px,#00ff80 421px,#0ff 444px,#0080ff 452px,#00f 458px,#00f)"></i>
<i style="background:linear-gradient(#d7ff00,#80ff00 115px,#0f0 337px,#00ff80 420px,#0ff 444px,#0080ff 452px,#00f 458px,#00f)"></i>
<i style="background:linear-gradient(#d4ff00,#80ff00 112px,#0f0 337px,#00ff80 420px,#0ff 444px,#0080ff 452px,#00f 458px,#00f)"></i>
<i style="background:linear-gradient(#d2ff00,#80ff00 108px,#0f0 336px,#00ff80 420px,#0ff 443px,#0080ff 452px,#00f 458px,#00f)"></i>
<i style="background:linear-gradient(#cfff00,#80ff00 105px,#0f0 335px,#00ff80 420px,#0ff 443px,#0080ff 452px,#00f 458px,#00f)"></i>
<i style="background:linear-gradient(#cdff00,#80ff00 102px,#0f0 334px,#00ff80 420px,#0ff 443px,#0080ff 452px,#00f 458px,#00f)"></i>
<i style="background:linear-gradient(#caff00,#80ff00 99px,#0f0 333px,#00ff80 419px,#0ff 443px,#0080ff 452px,#00f 458px,#00f)"></i>
<i style="background:linear-gradient(#c8ff00,#80ff00 96px,#0f0 333px,#00ff80 419px,#0ff 443px,#0080ff 452px,#00f 458px,#00f)"></i>
<i style="background:linear-gradient(#c5ff00,#80ff00 93px,#0f0 332px,#00ff80 419px,#0ff 443px,#0080ff 452px,#00f 458px,#00f)"></i>
<i style="background:linear-gradient(#c3ff00,#80ff00 90px,#0f0 331px,#00ff80 419px,#0ff 443px,#0080ff 451px,#00f 458px,#00f)"></i>
<i style="background:linear-gradient(#c0ff00,#80ff00 88px,#0f0 330px,#00ff80 419px,#0ff 443px,#0080ff 451px,#00f 458px,#00f)"></i>
<i style="background:linear-gradient(#beff00,#80ff00 85px,#0f0 329px,#00ff80 418px,#0ff 443px,#0080ff 451px,#00f 458px,#00f)"></i>
<i style="background:linear-gradient(#bf0,#80ff00 82px,#0f0 328px,#00ff80 418px,#0ff 443px,#0080ff 451px,#00f 458px,#00f)"></i>
<i style="background:linear-gradient(#b9ff00,#80ff00 79px,#0f0 327px,#00ff80 418px,#0ff 443px,#0080ff 451px,#00f 458px,#00f)"></i>
<i style="background:linear-gradient(#b7ff00,#80ff00 76px,#0f0 326px,#00ff80 418px,#0ff 443px,#0080ff 451px,#00f 458px,#00f)"></i>
<i style="background:linear-gradient(#b5ff00,#80ff00 73px,#0f0 325px,#00ff80 418px,#0ff 443px,#0080ff 451px,#00f 458px,#00f)"></i>
<i style="background:linear-gradient(#b3ff00,#80ff00 71px,#0f0 324px,#00ff80 418px,#0ff 443px,#0080ff 451px,#00f 458px,#00f)"></i>
<i style="background:linear-gradient(#b2ff00,#80ff00 69px,#0f0 324px,#00ff80 418px,#0ff 443px,#00f 458px,#00f)"></i>
</div>
<div id="cb"></div>
<svg width="2350" height="2237" viewBox="0 0 2350 2237">
<defs><clipPath id="c0"><rect x="378" y="29.8" width="1603" height="462"/></clipPath><clipPath id="c1"><rect x="378" y="554.3" width="1603" height="462"/></clipPath><clipPath id="c2"><rect x="378" y="1079.0" width="1603" height="462"/></clipPath><clipPath id="c3"><rect x="378" y="1603.3" width="1603" height="462"/></clipPath></defs><g clip-path="url(#c0)" fill="none" stroke="#000" stroke-opacity=".72" stroke-linejoin="round">
<path stroke-width="1.7" d="M378 330C426 327 475 324 524 321C569 318 614 316 659 313C696 311 733 307 770 304C825 300 879 297 934 293C973 291 1012 289 1051 285C1091 281 1130 273 1170 267C1186 264 1202 262 1219 259C1237 256 1254 251 1272 245C1289 240 1306 232 1324 225C1341 217 1358 209 1375 202C1392 194 1409 186 1426 179C1436 174 1446 171 1457 166C1463 163 1470 159 1477 156C1490 149 1503 142 1515 139C1527 136 1538 133 1549 133C1556 133 1563 133 1570 134C1578 135 1587 139 1596 143C1604 147 1613 156 1621 163C1630 170 1638 179 1647 184C1658 189 1669 195 1680 196C1695 197 1709 198 1724 198C1741 198 1758 198 1775 197C1792 196 1809 195 1826 193C1843 192 1860 191 1877 189C1894 188 1911 186 1928 185C1941 183 1953 182 1965 182C1970 182 1976 182 1981 182M378 369C426 367 475 365 524 363C570 361 617 358 664 356C699 354 735 352 770 350C828 347 886 341 944 337C980 335 1016 334 1051 331C1091 327 1130 317 1170 310C1187 308 1204 306 1221 303C1238 299 1255 294 1272 289C1289 283 1306 276 1324 269C1341 263 1358 255 1375 248C1392 240 1409 232 1426 225C1438 219 1450 215 1462 209C1475 203 1489 194 1503 189C1515 184 1528 179 1541 179C1551 179 1560 179 1570 179C1578 179 1587 184 1596 189C1604 193 1613 205 1621 212C1630 219 1638 227 1647 232C1657 238 1667 244 1677 246C1693 250 1708 252 1724 253C1741 254 1758 255 1775 255C1792 255 1809 254 1826 253C1843 252 1860 251 1877 250C1894 249 1911 248 1928 246C1938 246 1949 244 1959 244C1966 244 1973 245 1981 246M378 388C426 387 475 385 524 383C571 382 619 381 667 379C701 377 736 376 770 374C830 372 889 369 949 367C983 365 1017 365 1051 363C1091 361 1130 353 1170 348C1190 345 1209 343 1229 339C1243 337 1258 333 1272 330C1289 325 1306 320 1324 314C1341 308 1358 301 1375 294C1392 287 1409 279 1426 272C1442 265 1458 259 1475 252C1488 246 1502 236 1515 232C1527 230 1538 227 1549 227C1556 227 1563 227 1570 228C1578 229 1587 234 1596 239C1604 244 1613 257 1621 266C1630 274 1638 285 1647 291C1658 299 1669 306 1680 309C1695 312 1709 314 1724 316C1741 317 1758 319 1775 319C1792 319 1809 319 1826 319C1843 319 1860 319 1877 318C1894 318 1911 316 1928 316C1939 315 1950 314 1962 314C1968 314 1974 315 1981 316M378 399C426 398 475 397 524 396C573 396 622 396 671 395C704 395 737 393 770 392C831 390 891 389 952 387C985 386 1018 385 1051 383C1091 381 1130 376 1170 372C1191 369 1212 367 1233 363C1246 361 1259 358 1272 355C1289 351 1306 346 1324 341C1341 336 1358 329 1375 323C1392 317 1409 310 1426 304C1446 297 1465 290 1485 284C1499 279 1514 271 1528 269C1537 269 1545 268 1554 268C1559 268 1565 269 1570 269C1578 271 1587 276 1596 281C1604 286 1613 299 1621 309C1630 319 1638 333 1647 340C1659 349 1671 357 1683 360C1696 363 1710 365 1724 367C1741 368 1758 370 1775 370C1792 370 1809 370 1826 370C1843 370 1860 370 1877 369C1894 369 1911 368 1928 367C1941 367 1953 367 1965 367C1970 367 1976 367 1981 368M378 415C426 416 475 416 524 416C573 416 622 417 672 417C705 417 737 416 770 415C831 414 892 411 953 410C986 410 1019 410 1051 409C1091 408 1130 401 1170 397C1192 395 1213 394 1235 392C1248 390 1260 387 1272 385C1289 381 1306 378 1324 373C1341 369 1358 363 1375 358C1392 352 1409 346 1426 340C1448 332 1469 324 1491 318C1504 315 1516 309 1528 309C1537 309 1545 309 1554 309C1559 309 1565 310 1570 312C1578 314 1587 318 1596 325C1604 331 1613 347 1621 358C1630 368 1638 381 1647 388C1658 398 1669 407 1680 409C1695 413 1709 414 1724 415C1741 417 1758 418 1775 418C1792 418 1809 418 1826 418C1843 418 1860 418 1877 418C1894 418 1911 416 1928 416C1940 416 1952 416 1964 416C1970 416 1975 417 1981 417M378 438C426 440 475 442 524 442C573 443 622 443 671 443C704 443 737 443 770 443C831 443 892 441 953 441C986 441 1019 442 1051 442C1091 442 1130 439 1170 437C1192 436 1214 435 1237 433C1248 432 1260 430 1272 428C1289 425 1306 422 1324 418C1341 414 1358 409 1375 404C1392 399 1409 392 1426 386C1448 378 1471 368 1494 362C1505 359 1517 354 1528 354C1537 354 1545 354 1554 355C1559 356 1565 357 1570 359C1578 362 1587 365 1596 371C1604 376 1613 393 1621 404C1630 415 1638 430 1647 437C1657 445 1666 454 1676 455C1692 457 1708 457 1724 458C1741 459 1758 460 1775 460C1809 460 1843 460 1877 460C1904 460 1932 458 1959 458C1966 458 1973 459 1981 459M378 464C400 464 423 464 445 464C497 464 549 466 600 467C643 467 685 467 727 467C741 467 756 467 770 467C849 465 929 465 1008 464C1062 463 1116 462 1170 460C1191 459 1213 458 1234 456C1253 455 1272 452 1292 449C1311 445 1330 441 1349 436C1366 432 1383 427 1400 422C1417 416 1434 410 1451 404C1469 398 1486 390 1503 387C1518 385 1533 383 1549 383C1556 383 1563 385 1570 387C1578 390 1587 393 1596 399C1604 405 1613 423 1621 435C1630 446 1638 468 1647 470C1655 473 1664 474 1672 474C1694 476 1715 476 1736 477C1766 477 1796 478 1826 478C1877 478 1929 477 1981 477M1064 489C1099 489 1135 488 1170 486C1196 485 1221 483 1247 481C1268 479 1289 478 1311 475C1323 474 1335 463 1347 461C1356 460 1365 459 1375 459C1383 459 1392 465 1400 465C1409 465 1417 458 1426 455C1439 450 1451 445 1464 440M1603 458C1599 458 1589 461 1582 461C1574 461 1565 459 1557 458C1549 456 1542 453 1533 451C1524 450 1512 451 1505 450C1499 448 1493 445 1492 441C1492 438 1495 434 1500 430C1506 426 1515 420 1525 417C1534 414 1548 411 1557 411C1566 410 1575 412 1578 412M1614 484C1610 482 1598 476 1590 474C1582 472 1574 472 1565 471C1557 469 1549 467 1541 466C1533 465 1525 464 1517 464C1509 464 1498 468 1492 467C1486 467 1485 463 1481 459C1477 456 1470 450 1470 446C1469 442 1472 439 1476 435C1480 431 1484 426 1492 422C1500 418 1513 415 1525 412C1537 410 1559 407 1565 407M1606 487C1602 486 1590 480 1582 479C1574 478 1564 481 1557 480C1551 480 1548 476 1541 476C1534 476 1525 480 1517 480C1509 481 1500 482 1492 480C1484 479 1476 471 1468 469C1460 467 1450 466 1444 466C1437 466 1435 469 1431 471C1426 473 1421 480 1418 479C1414 478 1411 468 1411 464C1411 460 1414 457 1418 454C1422 452 1429 451 1436 448C1443 445 1452 439 1460 435C1468 431 1480 425 1484 424M1330 467C1334 467 1346 467 1354 467C1362 468 1372 473 1379 472C1385 471 1390 467 1395 463C1400 458 1401 451 1406 448C1412 445 1420 445 1427 443C1435 441 1449 436 1453 435M1554 422C1557 421 1569 418 1574 419C1578 419 1581 423 1578 425C1576 428 1562 433 1557 433C1553 434 1553 429 1552 427C1552 425 1554 423 1554 422M1583 419C1584 422 1587 432 1590 438C1592 445 1597 454 1600 458C1602 461 1605 463 1606 461C1607 459 1606 454 1604 448C1603 442 1598 428 1596 424"/>
<path stroke-width="1.7" d="M373 336 L391 329 L372 324M641 321 L659 313 L640 308M916 301 L934 293 L915 288M1202 269 L1219 259 L1199 257M1442 180 L1457 166 L1437 168M1661 201 L1680 196 L1662 188M1947 188 L1965 182 L1947 175M373 376 L391 369 L372 363M646 363 L664 356 L646 350M926 345 L944 337 L925 332M1204 312 L1221 303 L1202 300M1448 223 L1462 209 L1442 211M1658 249 L1677 246 L1661 236M1940 251 L1959 244 L1940 238M373 395 L391 388 L372 382M649 386 L667 379 L648 373M931 374 L949 367 L930 361M1212 349 L1229 339 L1210 336M1460 265 L1475 252 L1455 253M1661 310 L1680 309 L1664 298M1943 321 L1962 314 L1943 308M373 405 L391 398 L372 393M652 402 L671 395 L652 389M933 394 L952 387 L933 381M1216 373 L1233 363 L1213 360M1469 295 L1485 284 L1465 283M1663 361 L1683 360 L1666 349M1947 373 L1965 367 L1947 360M373 422 L391 415 L373 409M653 423 L672 417 L653 410M935 417 L953 410 L934 404M1218 400 L1235 392 L1216 388M1475 329 L1491 318 L1472 317M1661 411 L1680 409 L1663 399M1946 422 L1964 416 L1946 410M372 445 L391 439 L373 432M652 450 L671 443 L652 437M935 447 L953 441 L935 435M1219 441 L1237 433 L1218 429M1478 372 L1494 362 L1474 360M1657 459 L1676 455 L1659 446M1940 464 L1959 458 L1940 452M373 470 L391 464 L373 458M427 470 L445 464 L427 458M709 474 L727 467 L709 461M990 471 L1008 464 L989 458M1274 458 L1292 449 L1272 445M1530 389 L1549 383 L1530 377M1718 483 L1736 477 L1718 470M1329 470 L1347 461 L1327 458M1525 448 L1505 450 L1522 460M1499 467 L1481 459 L1490 476M1421 461 L1436 448 L1416 450"/>
<path stroke-width="4.0" stroke-opacity=".9" d="M1476 420C1482 418 1498 412 1509 409C1519 406 1529 404 1541 403C1553 402 1572 401 1582 402C1591 404 1593 405 1598 411C1603 416 1606 425 1609 435C1613 444 1615 458 1617 467C1620 476 1623 486 1625 489"/>
<ellipse cx="1593" cy="428" rx="8" ry="18" transform="rotate(-12 1593 428)" fill="#000" stroke="none"/>
</g>
<g clip-path="url(#c1)" fill="none" stroke="#000" stroke-opacity=".72" stroke-linejoin="round">
<path stroke-width="1.7" d="M378 813C426 810 475 807 524 805C569 803 614 801 659 799C696 797 733 795 770 793C827 791 884 788 941 785C978 783 1015 781 1051 778C1091 775 1130 767 1170 761C1186 758 1202 756 1219 753C1237 749 1254 744 1272 738C1289 733 1306 727 1324 721C1341 714 1358 707 1375 700C1392 693 1409 686 1426 681C1440 676 1453 672 1467 669C1479 666 1491 661 1503 660C1511 660 1520 660 1528 660C1537 660 1545 665 1554 669C1559 672 1565 676 1570 678C1578 683 1587 688 1596 691C1604 694 1613 698 1621 698C1630 698 1638 698 1647 698C1673 698 1700 692 1726 689C1742 687 1759 684 1775 682C1792 680 1809 678 1826 676C1843 673 1860 671 1877 668C1894 666 1911 663 1928 660C1937 659 1945 657 1954 657C1963 657 1972 657 1981 657M378 873C426 870 475 867 524 864C570 861 616 860 662 857C698 854 734 850 770 847C827 843 884 838 941 834C978 831 1015 829 1051 825C1091 821 1130 812 1170 806C1186 803 1202 801 1219 797C1237 794 1254 790 1272 785C1289 780 1306 772 1324 765C1341 759 1358 751 1375 745C1392 738 1409 732 1426 726C1439 721 1452 717 1466 713C1478 709 1490 704 1503 704C1511 704 1520 704 1528 704C1537 704 1545 709 1554 713C1559 715 1565 720 1570 723C1578 728 1587 732 1596 736C1604 739 1613 744 1621 745C1630 746 1638 747 1647 747C1671 747 1695 744 1718 742C1737 741 1756 740 1775 738C1792 737 1809 736 1826 735C1843 733 1860 731 1877 730C1894 728 1911 725 1928 723C1941 722 1954 720 1967 720C1971 720 1976 720 1981 721M378 900C426 897 475 894 524 892C570 890 617 888 664 886C699 884 735 881 770 879C828 876 887 871 945 868C981 865 1016 864 1051 861C1091 858 1130 849 1170 843C1187 840 1205 838 1222 834C1239 831 1256 828 1272 823C1289 818 1306 811 1324 805C1341 799 1358 791 1375 785C1392 778 1409 771 1426 765C1441 760 1457 754 1472 750C1482 747 1492 742 1503 742C1511 742 1520 742 1528 742C1537 742 1545 748 1554 753C1559 755 1565 761 1570 764C1578 770 1587 776 1596 779C1604 783 1613 787 1621 788C1638 791 1655 793 1672 793C1689 793 1705 793 1721 793C1739 792 1757 792 1775 791C1792 790 1809 788 1826 787C1843 786 1860 785 1877 783C1894 782 1911 778 1928 778C1946 778 1963 778 1981 778M378 920C426 918 475 916 524 915C573 914 622 914 671 913C704 912 737 910 770 909C831 906 891 905 952 903C985 901 1018 900 1051 898C1091 896 1130 891 1170 886C1190 884 1211 881 1231 877C1245 875 1259 872 1272 869C1289 865 1306 859 1324 854C1341 848 1358 841 1375 836C1392 830 1409 825 1426 820C1447 815 1469 807 1490 806C1503 806 1515 805 1528 805C1537 805 1545 812 1554 818C1559 821 1565 828 1570 832C1578 839 1587 846 1596 851C1604 856 1613 860 1621 863C1638 867 1655 870 1672 872C1691 873 1709 875 1727 875C1743 875 1759 874 1775 874C1792 874 1809 873 1826 873C1843 872 1860 871 1877 870C1894 869 1911 868 1928 868C1946 867 1963 867 1981 867M378 939C426 939 475 939 524 939C573 939 622 941 672 941C705 941 737 939 770 938C831 936 892 935 953 933C986 933 1019 933 1051 932C1091 930 1130 925 1170 921C1192 918 1213 917 1235 914C1248 912 1260 910 1272 907C1289 904 1306 899 1324 895C1341 890 1358 884 1375 879C1392 875 1409 870 1426 866C1451 862 1475 855 1500 855C1509 855 1519 856 1528 857C1537 859 1545 867 1554 874C1559 878 1565 885 1570 891C1578 899 1587 910 1596 915C1604 920 1613 925 1621 927C1638 930 1655 932 1672 933C1690 934 1707 936 1725 936C1759 936 1792 935 1826 934C1860 934 1894 931 1928 931C1946 931 1963 931 1981 932M378 957C426 958 475 959 524 960C573 961 622 962 672 962C705 962 737 961 770 961C831 960 892 958 953 958C986 958 1019 959 1051 959C1091 959 1130 955 1170 953C1192 951 1214 950 1237 948C1248 947 1260 945 1272 943C1289 940 1306 936 1324 932C1341 927 1358 922 1375 918C1392 913 1409 908 1426 905C1452 900 1479 893 1505 893C1513 893 1521 895 1528 897C1537 899 1545 907 1554 915C1559 920 1565 931 1570 938C1574 944 1579 949 1583 953C1587 958 1591 962 1596 964C1604 967 1613 968 1621 969C1638 970 1655 970 1672 971C1690 971 1707 972 1725 972C1759 972 1792 971 1826 971C1877 971 1929 971 1981 971M378 979C426 980 475 981 524 982C573 983 622 984 671 984C704 984 737 983 770 982C831 981 892 979 953 979C986 979 1019 980 1051 980C1091 980 1130 978 1170 976C1191 976 1213 974 1234 973C1248 972 1263 971 1277 970C1301 968 1325 959 1349 953C1375 948 1400 942 1426 938C1454 934 1482 928 1510 928C1518 928 1526 932 1533 936C1540 939 1547 948 1554 956C1559 962 1565 974 1570 979C1574 983 1579 987 1583 989C1587 992 1591 994 1596 994C1613 996 1630 996 1647 996C1675 997 1704 997 1732 997C1764 997 1795 997 1826 996C1877 996 1929 996 1981 996M378 988C396 988 414 988 431 988C479 988 527 990 575 990C621 990 667 990 713 990C732 990 751 990 770 990C845 990 920 989 995 988C1053 987 1112 986 1170 984C1206 982 1242 979 1277 975C1301 972 1325 965 1349 960C1375 954 1400 947 1426 943C1451 940 1477 936 1503 936C1513 936 1523 939 1533 943C1540 946 1547 958 1554 966C1559 973 1565 985 1570 989C1575 993 1580 997 1585 998C1597 1000 1609 1001 1621 1001C1674 1002 1727 1002 1780 1002C1847 1002 1914 1002 1981 1002M877 1013C927 1013 976 1012 1026 1012C1073 1011 1120 1010 1167 1008C1185 1008 1203 1008 1221 1007C1247 1006 1272 1006 1298 1005C1324 1003 1349 999 1375 994C1400 990 1426 982 1451 976C1473 972 1494 964 1515 964C1524 964 1533 972 1541 979C1547 984 1553 996 1559 1002C1563 1006 1566 1011 1570 1011C1601 1012 1631 1012 1662 1012C1705 1013 1747 1013 1790 1013C1812 1013 1834 1012 1857 1012C1887 1012 1918 1012 1949 1012C1959 1012 1970 1012 1981 1012M1420 965C1423 966 1431 969 1436 970C1442 970 1444 970 1452 968C1460 967 1474 962 1485 960C1496 958 1512 957 1517 957M1290 1001C1293 1000 1299 1001 1306 999C1313 997 1321 993 1331 991C1340 989 1354 991 1363 989C1373 987 1378 983 1387 980C1397 977 1409 973 1420 971C1431 970 1447 969 1452 968M1305 1013C1308 1012 1315 1005 1322 1004C1330 1003 1340 1005 1347 1006C1354 1006 1358 1010 1363 1009C1368 1008 1370 1004 1374 1001C1378 997 1381 991 1387 988C1394 984 1404 983 1412 981C1420 979 1427 978 1436 976C1446 974 1463 970 1469 968M1383 1013C1383 1011 1384 1005 1387 1001C1390 997 1395 991 1400 989C1406 987 1413 987 1420 988C1426 988 1433 993 1439 991C1446 989 1454 980 1460 976C1467 972 1474 968 1477 967M1550 1004C1549 1003 1546 999 1543 997C1541 996 1539 993 1534 993C1528 992 1517 994 1509 994C1502 994 1493 993 1488 991C1483 989 1482 984 1482 981C1482 978 1483 974 1488 971C1493 969 1503 968 1509 967C1515 965 1523 965 1525 965M1542 991C1540 990 1535 985 1530 983C1526 981 1518 981 1514 980C1510 978 1507 975 1508 973C1508 971 1514 969 1517 968C1521 967 1528 967 1530 967"/>
<path stroke-width="1.7" d="M373 819 L391 812 L372 807M641 806 L659 799 L640 793M923 792 L941 785 L923 779M1202 762 L1219 753 L1199 750M1451 680 L1467 669 L1447 667M1709 697 L1726 689 L1707 685M373 879 L391 872 L372 867M644 864 L662 857 L643 852M924 842 L941 834 L923 829M1202 807 L1219 797 L1199 795M1449 724 L1466 713 L1446 712M1700 750 L1718 742 L1700 737M373 906 L391 899 L372 894M646 893 L664 886 L646 880M927 875 L945 868 L926 863M1205 844 L1222 834 L1203 832M1456 761 L1472 750 L1452 749M1703 799 L1721 793 L1702 787M373 927 L391 920 L372 914M652 920 L671 913 L652 907M933 910 L952 903 L933 897M1214 886 L1231 877 L1212 874M1472 814 L1490 806 L1471 801M1709 881 L1727 875 L1709 868M373 946 L391 939 L373 933M653 947 L672 941 L653 934M935 940 L953 933 L934 928M1218 922 L1235 914 L1216 910M1482 861 L1500 855 L1482 849M1706 942 L1725 936 L1706 929M372 963 L391 958 L373 951M653 968 L672 962 L653 955M935 964 L953 958 L935 951M1219 956 L1237 948 L1218 944M1487 900 L1505 893 L1487 887M1706 978 L1725 972 L1706 966M372 985 L391 979 L373 973M652 990 L671 984 L652 977M935 985 L953 979 L935 973M1216 980 L1234 973 L1215 967M1492 934 L1510 928 L1492 922M1714 1003 L1732 997 L1714 991M373 994 L391 988 L373 982M413 994 L431 988 L413 982M694 996 L713 990 L694 983M977 995 L995 988 L977 982M1260 984 L1277 975 L1258 971M1761 1008 L1780 1002 L1761 996M1148 1015 L1167 1008 L1148 1003M1644 1018 L1662 1012 L1644 1006M1772 1019 L1790 1013 L1772 1006M1838 1019 L1857 1012 L1838 1006M1930 1018 L1949 1012 L1930 1005M1417 974 L1436 970 L1418 962"/>
<path stroke-width="3.5" stroke-opacity=".9" d="M1477 958C1481 957 1494 956 1501 955C1508 955 1515 954 1521 955C1526 956 1531 959 1534 960"/>
<path stroke-width="4.0" stroke-opacity=".9" d="M1547 984C1548 987 1552 994 1556 997C1560 1001 1564 1004 1569 1006C1575 1009 1587 1012 1590 1014"/>
<ellipse cx="1540" cy="973" rx="9" ry="16" transform="rotate(-20 1540 973)" fill="#000" stroke="none"/>
</g>
<g clip-path="url(#c2)" fill="none" stroke="#000" stroke-opacity=".72" stroke-linejoin="round">
<path stroke-width="1.7" d="M378 1429C426 1427 475 1425 524 1423C571 1422 619 1420 667 1417C701 1415 736 1413 770 1411C829 1407 888 1403 947 1400C982 1399 1017 1398 1051 1395C1091 1393 1130 1386 1170 1380C1189 1378 1208 1375 1228 1371C1243 1369 1257 1365 1272 1362C1289 1358 1306 1353 1324 1349C1341 1345 1358 1340 1375 1336C1392 1333 1409 1328 1426 1326C1449 1324 1473 1322 1496 1322C1507 1322 1518 1326 1528 1329C1542 1332 1556 1338 1570 1342C1578 1344 1587 1347 1596 1348C1604 1349 1613 1350 1621 1350C1638 1350 1655 1350 1672 1350C1706 1350 1739 1348 1772 1347C1790 1346 1808 1344 1826 1343C1843 1341 1860 1339 1877 1338C1894 1336 1911 1335 1928 1334C1941 1333 1954 1332 1967 1332C1971 1332 1976 1332 1981 1333M378 1439C426 1438 475 1436 524 1435C572 1434 620 1432 668 1431C702 1429 736 1428 770 1426C830 1423 890 1420 950 1418C984 1416 1018 1415 1051 1413C1091 1411 1130 1406 1170 1401C1190 1398 1210 1395 1230 1392C1244 1390 1258 1387 1272 1384C1289 1380 1306 1375 1324 1371C1341 1367 1358 1361 1375 1358C1392 1355 1409 1351 1426 1350C1451 1350 1476 1350 1501 1350C1510 1350 1519 1354 1528 1357C1542 1361 1556 1368 1570 1372C1578 1375 1587 1378 1596 1380C1604 1382 1613 1383 1621 1384C1638 1385 1655 1385 1672 1385C1706 1385 1741 1384 1775 1382C1792 1382 1809 1381 1826 1380C1843 1379 1860 1377 1877 1376C1894 1375 1911 1373 1928 1372C1946 1372 1963 1372 1981 1372M378 1458C426 1457 475 1457 524 1457C572 1456 621 1456 669 1456C703 1456 736 1454 770 1453C831 1451 891 1449 952 1447C985 1446 1018 1446 1051 1445C1091 1444 1130 1439 1170 1435C1191 1433 1212 1431 1233 1429C1246 1427 1259 1424 1272 1422C1289 1419 1306 1415 1324 1412C1341 1408 1358 1404 1375 1402C1392 1399 1409 1396 1426 1396C1443 1396 1460 1396 1477 1396C1488 1396 1498 1398 1509 1400C1520 1401 1530 1407 1541 1412C1551 1416 1560 1421 1570 1425C1578 1428 1587 1432 1596 1434C1604 1435 1613 1437 1621 1437C1638 1439 1655 1440 1672 1440C1707 1440 1742 1440 1777 1440C1811 1440 1844 1438 1877 1437C1912 1437 1946 1436 1981 1435M378 1473C426 1473 475 1474 524 1474C573 1474 622 1475 671 1475C704 1475 737 1473 770 1473C831 1471 892 1470 953 1469C986 1469 1019 1469 1051 1469C1091 1468 1130 1463 1170 1461C1192 1459 1214 1459 1237 1457C1248 1456 1260 1453 1272 1452C1289 1449 1306 1445 1324 1443C1341 1440 1358 1437 1375 1435C1392 1433 1409 1431 1426 1431C1443 1431 1460 1431 1477 1432C1490 1432 1503 1435 1515 1438C1524 1440 1533 1445 1541 1449C1551 1454 1560 1460 1570 1464C1578 1468 1587 1472 1596 1473C1604 1475 1613 1477 1621 1477C1638 1478 1655 1479 1672 1479C1708 1479 1743 1479 1779 1479C1811 1479 1844 1477 1877 1477C1912 1477 1946 1476 1981 1476M378 1492C426 1493 475 1494 524 1495C573 1496 622 1497 671 1497C704 1497 737 1496 770 1496C831 1496 892 1495 953 1495C986 1495 1019 1496 1051 1496C1091 1496 1130 1493 1170 1491C1192 1491 1214 1490 1237 1489C1248 1488 1260 1487 1272 1486C1289 1484 1306 1482 1324 1480C1341 1478 1358 1475 1375 1473C1392 1472 1409 1470 1426 1470C1443 1470 1460 1471 1477 1473C1490 1474 1503 1477 1515 1481C1524 1483 1533 1488 1541 1491C1551 1495 1560 1500 1570 1504C1575 1506 1580 1508 1585 1509C1597 1511 1609 1512 1621 1512C1676 1513 1730 1513 1785 1513C1850 1513 1915 1513 1981 1512M378 1519C436 1519 494 1519 552 1519C624 1519 697 1519 770 1519C791 1519 813 1519 834 1519C898 1518 962 1517 1026 1516C1056 1516 1086 1515 1117 1514C1134 1514 1152 1514 1170 1513C1187 1512 1204 1511 1221 1510C1238 1508 1255 1507 1272 1505C1289 1504 1306 1502 1324 1500C1349 1498 1374 1494 1399 1493C1417 1493 1434 1492 1451 1492C1469 1492 1486 1496 1503 1499C1515 1501 1528 1507 1541 1512C1551 1515 1560 1521 1570 1522C1578 1523 1587 1524 1596 1524C1621 1525 1646 1525 1671 1525C1723 1525 1774 1526 1826 1526C1869 1526 1913 1524 1956 1524C1964 1524 1973 1524 1981 1524M378 1533C453 1534 528 1535 603 1535C659 1535 714 1535 770 1534C809 1534 848 1532 886 1532C933 1532 979 1532 1026 1532C1073 1531 1120 1530 1167 1528C1193 1527 1220 1526 1247 1524C1272 1523 1298 1519 1324 1517C1349 1514 1375 1512 1400 1510C1417 1509 1434 1508 1451 1508C1469 1508 1486 1509 1503 1511C1515 1513 1528 1518 1541 1522C1551 1525 1560 1529 1570 1530C1587 1531 1604 1532 1621 1532C1656 1533 1691 1533 1726 1533C1811 1533 1896 1533 1981 1533M1308 1538C1322 1534 1335 1531 1349 1530C1362 1528 1375 1528 1388 1527C1400 1526 1413 1524 1426 1523C1439 1523 1451 1522 1464 1522C1477 1522 1490 1524 1503 1526C1515 1527 1528 1531 1541 1533C1547 1535 1553 1536 1559 1538M1398 1538C1407 1534 1417 1531 1426 1531C1434 1531 1443 1533 1451 1533C1460 1533 1469 1530 1477 1530C1490 1530 1503 1533 1515 1535C1523 1536 1531 1537 1538 1538"/>
<path stroke-width="1.7" d="M373 1435 L391 1428 L372 1422M649 1424 L667 1417 L648 1412M928 1408 L947 1400 L928 1395M1211 1381 L1228 1371 L1208 1369M1478 1328 L1496 1322 L1478 1315M1754 1354 L1772 1347 L1753 1341M373 1445 L391 1438 L372 1433M650 1438 L668 1431 L649 1425M932 1425 L950 1418 L932 1412M1213 1401 L1230 1392 L1211 1389M1483 1356 L1501 1350 L1483 1344M1756 1389 L1775 1382 L1756 1377M373 1464 L391 1458 L372 1452M651 1462 L669 1456 L651 1450M933 1454 L952 1447 L933 1441M1215 1437 L1233 1429 L1214 1425M1490 1403 L1509 1400 L1492 1390M1759 1446 L1777 1440 L1759 1434M373 1480 L391 1473 L373 1467M652 1481 L671 1475 L652 1468M935 1476 L953 1469 L934 1463M1219 1465 L1237 1457 L1218 1452M1496 1440 L1515 1438 L1499 1428M1760 1485 L1779 1479 L1760 1473M372 1499 L391 1493 L373 1486M652 1503 L671 1497 L652 1491M935 1501 L953 1495 L935 1489M1218 1496 L1237 1489 L1218 1483M1496 1482 L1515 1481 L1499 1470M1766 1519 L1785 1513 L1766 1507M373 1525 L391 1519 L373 1513M533 1525 L552 1519 L533 1513M816 1525 L834 1519 L815 1513M1098 1521 L1117 1514 L1098 1508M1381 1500 L1399 1493 L1380 1487M1653 1531 L1671 1525 L1653 1519M1938 1530 L1956 1524 L1938 1518M372 1540 L391 1534 L373 1527M584 1541 L603 1535 L584 1528M868 1539 L886 1532 L868 1526M1148 1535 L1167 1528 L1148 1523M1433 1514 L1451 1508 L1433 1502M1708 1540 L1726 1533 L1708 1527"/>
</g>
<g clip-path="url(#c3)" fill="none" stroke="#000" stroke-opacity=".72" stroke-linejoin="round">
<path stroke-width="1.7" d="M378 1958C396 1957 414 1956 431 1955C471 1953 510 1952 549 1951C588 1949 628 1948 667 1946C701 1944 736 1941 770 1940C830 1937 889 1934 949 1932C983 1930 1017 1930 1051 1928C1091 1926 1130 1922 1170 1920C1190 1919 1211 1918 1231 1917C1249 1916 1267 1914 1285 1914C1302 1914 1319 1914 1336 1914C1349 1914 1362 1918 1375 1919C1392 1921 1409 1925 1426 1925C1443 1926 1460 1926 1477 1926C1489 1926 1502 1925 1514 1924C1533 1923 1551 1921 1570 1921C1578 1921 1587 1923 1596 1923C1613 1923 1630 1918 1647 1917C1672 1914 1698 1912 1724 1910C1747 1908 1771 1907 1795 1905C1822 1903 1850 1900 1877 1898C1894 1896 1911 1894 1928 1893C1938 1892 1949 1891 1959 1891C1966 1891 1973 1891 1981 1892M378 1974C426 1973 475 1973 524 1972C572 1971 621 1970 669 1969C703 1968 736 1968 770 1967C831 1965 891 1961 952 1959C985 1958 1018 1958 1051 1956C1091 1955 1130 1949 1170 1949C1192 1949 1213 1949 1235 1949C1252 1949 1269 1947 1285 1947C1302 1947 1319 1948 1336 1949C1349 1950 1362 1953 1375 1955C1392 1957 1409 1960 1426 1961C1443 1963 1460 1965 1477 1965C1490 1965 1504 1964 1517 1964C1534 1963 1552 1963 1570 1963C1578 1963 1587 1964 1596 1964C1613 1964 1630 1961 1647 1960C1672 1958 1698 1957 1724 1955C1749 1954 1775 1952 1800 1951C1826 1949 1851 1948 1877 1946C1894 1945 1911 1944 1928 1943C1939 1942 1950 1942 1962 1942C1968 1942 1974 1942 1981 1942M378 1988C426 1988 475 1988 524 1988C572 1988 621 1988 669 1988C703 1988 736 1988 770 1987C831 1986 892 1982 953 1982C986 1982 1019 1982 1051 1981C1091 1981 1130 1977 1170 1977C1192 1976 1214 1976 1237 1976C1253 1976 1269 1976 1285 1976C1302 1976 1319 1978 1336 1979C1349 1980 1362 1984 1375 1986C1392 1989 1409 1992 1426 1993C1443 1995 1460 1997 1477 1997C1491 1997 1504 1997 1518 1997C1535 1997 1553 1997 1570 1997C1578 1997 1587 1997 1596 1997C1613 1997 1630 1996 1647 1995C1672 1994 1698 1993 1724 1992C1750 1991 1776 1989 1802 1988C1827 1987 1852 1987 1877 1986C1894 1985 1911 1984 1928 1984C1946 1984 1963 1983 1981 1983M378 2001C426 2002 475 2003 524 2004C573 2004 622 2005 671 2005C704 2005 737 2005 770 2005C831 2005 892 2003 953 2003C986 2003 1019 2004 1051 2004C1091 2004 1130 2001 1170 2001C1193 2001 1215 2002 1238 2002C1254 2003 1269 2003 1285 2003C1302 2003 1319 2004 1336 2006C1349 2008 1362 2013 1375 2015C1392 2018 1409 2022 1426 2023C1443 2025 1460 2027 1477 2027C1490 2027 1504 2026 1517 2026C1534 2026 1552 2026 1570 2026C1578 2026 1587 2027 1596 2027C1613 2027 1630 2025 1647 2025C1672 2024 1698 2024 1724 2023C1750 2022 1776 2021 1803 2021C1828 2020 1852 2020 1877 2020C1894 2019 1911 2018 1928 2018C1946 2018 1963 2018 1981 2018M378 2023C426 2025 475 2026 524 2027C573 2028 622 2029 671 2029C704 2029 737 2028 770 2028C831 2028 892 2027 953 2027C986 2027 1019 2028 1051 2028C1091 2028 1130 2027 1170 2027C1193 2027 1215 2028 1238 2028C1254 2028 1269 2028 1285 2029C1302 2029 1319 2030 1336 2031C1349 2032 1362 2036 1375 2038C1392 2041 1409 2044 1426 2045C1443 2047 1460 2048 1477 2048C1491 2048 1504 2047 1518 2046C1535 2045 1553 2044 1570 2044C1596 2044 1621 2044 1647 2043C1672 2043 1698 2043 1724 2043C1750 2043 1777 2042 1804 2042C1828 2042 1853 2041 1877 2041C1912 2041 1946 2041 1981 2041M378 2051C400 2051 422 2052 444 2052C496 2052 548 2053 600 2053C643 2053 686 2053 728 2053C742 2053 756 2052 770 2052C850 2052 929 2052 1009 2051C1063 2051 1116 2050 1170 2049C1196 2048 1221 2047 1247 2047C1263 2047 1279 2047 1295 2047C1313 2047 1331 2048 1349 2048C1366 2049 1383 2054 1400 2056C1417 2057 1434 2060 1451 2060C1491 2060 1530 2059 1570 2059C1573 2059 1575 2059 1578 2059C1609 2059 1641 2058 1672 2057C1706 2057 1741 2057 1775 2057C1804 2056 1833 2056 1862 2056C1901 2056 1941 2056 1981 2057"/>
<path stroke-width="1.7" d="M373 1964 L391 1957 L372 1952M649 1953 L667 1946 L648 1940M931 1939 L949 1932 L930 1926M1213 1924 L1231 1917 L1213 1911M1496 1932 L1514 1924 L1495 1919M1777 1913 L1795 1905 L1776 1900M373 1981 L391 1974 L372 1968M651 1976 L669 1969 L651 1963M933 1966 L952 1959 L933 1953M1217 1955 L1235 1949 L1217 1942M1498 1970 L1517 1964 L1498 1958M1782 1958 L1800 1951 L1782 1945M373 1995 L391 1988 L373 1982M651 1995 L669 1988 L651 1982M935 1988 L953 1982 L934 1976M1218 1983 L1237 1976 L1218 1970M1500 2003 L1518 1997 L1500 1990M1783 1995 L1802 1988 L1783 1983M372 2007 L391 2001 L373 1995M652 2011 L671 2005 L652 1999M935 2010 L953 2003 L935 1997M1219 2009 L1238 2002 L1219 1996M1498 2032 L1517 2026 L1498 2020M1785 2027 L1803 2021 L1784 2015M372 2029 L391 2023 L373 2016M652 2035 L671 2029 L652 2022M935 2033 L953 2027 L935 2020M1219 2034 L1238 2028 L1219 2022M1500 2053 L1518 2046 L1499 2040M1786 2049 L1804 2042 L1786 2036M372 2057 L391 2051 L373 2045M426 2058 L444 2052 L426 2045M710 2059 L728 2053 L710 2047M991 2058 L1009 2051 L991 2045M1277 2054 L1295 2047 L1277 2041M1559 2066 L1578 2059 L1559 2053M1843 2062 L1862 2056 L1843 2050"/>
</g>
<path d="M378 59.7H395M378 89.5H395M378 119.4H395M378 179.2H395M378 209.0H395M378 238.9H395M378 298.6H395M378 328.5H395M378 358.4H395M378 418.1H395M378 448.0H395M378 477.9H395" stroke="#000" stroke-opacity=".6" stroke-width="2.4" fill="none"/>
<path d="M372 29.8H409M372 149.3H409M372 268.8H409M372 388.2H409" stroke="#000" stroke-width="5.8" fill="none"/>
<path d="M374.6 28.3V493.8" stroke="#000" stroke-width="7.4" fill="none"/>
<path d="M378 584.2H395M378 614.0H395M378 643.9H395M378 703.6H395M378 733.5H395M378 763.4H395M378 823.1H395M378 853.0H395M378 882.9H395M378 942.6H395M378 972.5H395M378 1002.3H395" stroke="#000" stroke-opacity=".6" stroke-width="2.4" fill="none"/>
<path d="M372 554.3H409M372 673.8H409M372 793.3H409M372 912.7H409" stroke="#000" stroke-width="5.8" fill="none"/>
<path d="M374.6 552.8V1018.3" stroke="#000" stroke-width="7.4" fill="none"/>
<path d="M378 1108.9H395M378 1138.7H395M378 1168.6H395M378 1228.3H395M378 1258.2H395M378 1288.1H395M378 1347.8H395M378 1377.7H395M378 1407.6H395M378 1467.3H395M378 1497.2H395M378 1527.0H395" stroke="#000" stroke-opacity=".6" stroke-width="2.4" fill="none"/>
<path d="M372 1079.0H409M372 1198.5H409M372 1318.0H409M372 1437.4H409" stroke="#000" stroke-width="5.8" fill="none"/>
<path d="M374.6 1077.5V1543.0" stroke="#000" stroke-width="7.4" fill="none"/>
<path d="M378 1633.2H395M378 1663.0H395M378 1692.9H395M378 1752.6H395M378 1782.5H395M378 1812.4H395M378 1872.1H395M378 1902.0H395M378 1931.9H395M378 1991.6H395M378 2021.5H395M378 2051.3H395" stroke="#000" stroke-opacity=".6" stroke-width="2.4" fill="none"/>
<path d="M372 1603.3H409M372 1722.8H409M372 1842.3H409M372 1961.7H409" stroke="#000" stroke-width="5.8" fill="none"/>
<path d="M374.6 1601.8V2068.8" stroke="#000" stroke-width="7.4" fill="none"/>
<path d="M371 2065.8H1983" stroke="#000" stroke-width="5.8" fill="none"/>
<path d="M436.4 2044.3V2065.8M500.7 2044.3V2065.8M565.0 2044.3V2065.8M629.3 2044.3V2065.8M757.8 2044.3V2065.8M822.1 2044.3V2065.8M886.4 2044.3V2065.8M950.7 2044.3V2065.8M1079.3 2044.3V2065.8M1143.6 2044.3V2065.8M1207.8 2044.3V2065.8M1272.1 2044.3V2065.8M1400.7 2044.3V2065.8M1465.0 2044.3V2065.8M1529.3 2044.3V2065.8M1593.6 2044.3V2065.8M1722.1 2044.3V2065.8M1786.4 2044.3V2065.8M1850.7 2044.3V2065.8M1915.0 2044.3V2065.8" stroke="#555" stroke-opacity=".85" stroke-width="2.2" fill="none"/>
<path d="M693.5 2032.3V2068.7M1015.0 2032.3V2068.7M1336.4 2032.3V2068.7M1657.9 2032.3V2068.7M1979.3 2032.3V2068.7" stroke="#000" stroke-width="5.6" fill="none"/>
<path d="M2093 209.7H2187M2093 307.6H2187M2093 405.5H2187M2093 503.5H2187M2093 601.4H2187M2093 699.3H2187M2093 797.2H2187M2093 895.2H2187M2093 993.1H2187M2093 1091.0H2187M2093 1189.0H2187M2093 1286.9H2187M2093 1384.8H2187M2093 1482.7H2187M2093 1580.7H2187M2093 1678.6H2187M2093 1776.5H2187" stroke="#000" stroke-opacity=".45" stroke-width="1.6" fill="none"/>
<text class="t" transform="translate(334.8 164.2) scale(0.982 1)" text-anchor="end">0.006</text>
<text class="t" transform="translate(334.8 280.1) scale(0.982 1)" text-anchor="end">0.004</text>
<text class="t" transform="translate(334.8 396.4) scale(0.982 1)" text-anchor="end">0.002</text>
<text class="t" transform="translate(352.5 511.6) scale(0.982 1)" text-anchor="end">0</text>
<text class="it" style="font-size:93px" transform="translate(92.5 253.5) rotate(-90)" text-anchor="middle">y/S</text>
<text class="t" transform="translate(334.8 689.2) scale(0.982 1)" text-anchor="end">0.006</text>
<text class="t" transform="translate(334.8 805.1) scale(0.982 1)" text-anchor="end">0.004</text>
<text class="t" transform="translate(334.8 921.4) scale(0.982 1)" text-anchor="end">0.002</text>
<text class="t" transform="translate(352.5 1036.6) scale(0.982 1)" text-anchor="end">0</text>
<text class="it" style="font-size:93px" transform="translate(92.5 777.6) rotate(-90)" text-anchor="middle">y/S</text>
<text class="t" transform="translate(334.8 1220.4) scale(0.982 1)" text-anchor="end">0.006</text>
<text class="t" transform="translate(334.8 1336.3) scale(0.982 1)" text-anchor="end">0.004</text>
<text class="t" transform="translate(334.8 1452.6) scale(0.982 1)" text-anchor="end">0.002</text>
<text class="t" transform="translate(352.5 1567.8) scale(0.982 1)" text-anchor="end">0</text>
<text class="it" style="font-size:93px" transform="translate(92.5 1309.5) rotate(-90)" text-anchor="middle">y/S</text>
<text class="t" transform="translate(334.8 1741.7) scale(0.982 1)" text-anchor="end">0.006</text>
<text class="t" transform="translate(334.8 1857.6) scale(0.982 1)" text-anchor="end">0.004</text>
<text class="t" transform="translate(334.8 1973.9) scale(0.982 1)" text-anchor="end">0.002</text>
<text class="t" transform="translate(352.5 2089.1) scale(0.982 1)" text-anchor="end">0</text>
<text class="it" style="font-size:93px" transform="translate(92.5 1830.0) rotate(-90)" text-anchor="middle">y/S</text>
<text class="t" transform="translate(372.6 2132.0) scale(0.97 1)" text-anchor="middle">0.5</text>
<text class="t" transform="translate(694.0 2132.0) scale(0.97 1)" text-anchor="middle">0.6</text>
<text class="t" transform="translate(1013.5 2132.0) scale(0.97 1)" text-anchor="middle">0.7</text>
<text class="t" transform="translate(1336.9 2132.0) scale(0.97 1)" text-anchor="middle">0.8</text>
<text class="t" transform="translate(1658.4 2132.0) scale(0.97 1)" text-anchor="middle">0.9</text>
<text class="t" transform="translate(1979.8 2132.0) scale(0.97 1)" text-anchor="middle">1</text>
<text class="it" transform="translate(1174.5 2201.5) scale(1.012 1)" text-anchor="middle">x/Cax</text>
<text class="t" transform="translate(2203.5 236.0) scale(0.975 1)" text-anchor="start">0.17</text>
<text class="t" transform="translate(2203.5 431.8) scale(0.975 1)" text-anchor="start">0.15</text>
<text class="t" transform="translate(2203.5 627.7) scale(0.975 1)" text-anchor="start">0.13</text>
<text class="t" transform="translate(2203.5 823.5) scale(0.975 1)" text-anchor="start">0.11</text>
<text class="t" transform="translate(2203.5 1019.4) scale(0.975 1)" text-anchor="start">0.09</text>
<text class="t" transform="translate(2203.5 1215.2) scale(0.975 1)" text-anchor="start">0.07</text>
<text class="t" transform="translate(2203.5 1411.1) scale(0.975 1)" text-anchor="start">0.05</text>
<text class="t" transform="translate(2203.5 1607.0) scale(0.975 1)" text-anchor="start">0.03</text>
<text class="t" transform="translate(2203.5 1802.8) scale(0.975 1)" text-anchor="start">0.01</text>
<text class="it" style="font-size:82px" x="2083" y="116">Ma</text>
</svg>
</body></html>
